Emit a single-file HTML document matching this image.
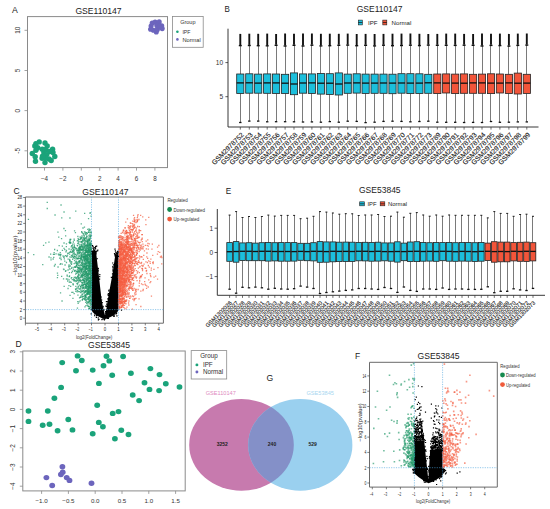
<!DOCTYPE html><html><head><meta charset="utf-8"><style>html,body{margin:0;padding:0;background:#fff;}svg{display:block;}text{font-family:"Liberation Sans",sans-serif;}</style></head><body>
<svg width="550" height="509" viewBox="0 0 550 509">
<rect width="550" height="509" fill="#fff"/>
<text x="12.1" y="13.4" font-size="8.7" fill="#222" text-anchor="start" >A</text>
<text x="98.5" y="13.6" font-size="8.6" fill="#222" text-anchor="middle" >GSE110147</text>
<rect x="27.5" y="16.6" width="140" height="151" fill="none" stroke="#8a8a8a" stroke-width="1"/>
<path d="M27.5 30.3H24.5" stroke="#8a8a8a" stroke-width="0.8"/>
<text transform="translate(20 30.3) rotate(-90)" font-size="6.4" fill="#333" text-anchor="middle">10</text>
<path d="M27.5 70.5H24.5" stroke="#8a8a8a" stroke-width="0.8"/>
<text transform="translate(20 70.5) rotate(-90)" font-size="6.4" fill="#333" text-anchor="middle">5</text>
<path d="M27.5 110.6H24.5" stroke="#8a8a8a" stroke-width="0.8"/>
<text transform="translate(20 110.6) rotate(-90)" font-size="6.4" fill="#333" text-anchor="middle">0</text>
<path d="M27.5 150.8H24.5" stroke="#8a8a8a" stroke-width="0.8"/>
<text transform="translate(20 150.8) rotate(-90)" font-size="6.4" fill="#333" text-anchor="middle">-5</text>
<path d="M44.5 167.6V170.6" stroke="#8a8a8a" stroke-width="0.8"/>
<text x="44.5" y="181.3" font-size="6.3" fill="#333" text-anchor="middle" >−4</text>
<path d="M62.9 167.6V170.6" stroke="#8a8a8a" stroke-width="0.8"/>
<text x="62.9" y="181.3" font-size="6.3" fill="#333" text-anchor="middle" >−2</text>
<path d="M81.3 167.6V170.6" stroke="#8a8a8a" stroke-width="0.8"/>
<text x="81.3" y="181.3" font-size="6.3" fill="#333" text-anchor="middle" >0</text>
<path d="M99.7 167.6V170.6" stroke="#8a8a8a" stroke-width="0.8"/>
<text x="99.7" y="181.3" font-size="6.3" fill="#333" text-anchor="middle" >2</text>
<path d="M118.1 167.6V170.6" stroke="#8a8a8a" stroke-width="0.8"/>
<text x="118.1" y="181.3" font-size="6.3" fill="#333" text-anchor="middle" >4</text>
<path d="M136.5 167.6V170.6" stroke="#8a8a8a" stroke-width="0.8"/>
<text x="136.5" y="181.3" font-size="6.3" fill="#333" text-anchor="middle" >6</text>
<path d="M154.9 167.6V170.6" stroke="#8a8a8a" stroke-width="0.8"/>
<text x="154.9" y="181.3" font-size="6.3" fill="#333" text-anchor="middle" >8</text>
<circle cx="39.2" cy="141.9" r="2.7" fill="#1aa37a"/>
<circle cx="35.9" cy="143.7" r="2.7" fill="#1aa37a"/>
<circle cx="34.8" cy="145.9" r="2.7" fill="#1aa37a"/>
<circle cx="37.7" cy="147.7" r="2.7" fill="#1aa37a"/>
<circle cx="35.9" cy="150.3" r="2.7" fill="#1aa37a"/>
<circle cx="32.3" cy="153.5" r="2.7" fill="#1aa37a"/>
<circle cx="35.2" cy="156.8" r="2.7" fill="#1aa37a"/>
<circle cx="35.5" cy="161.2" r="2.7" fill="#1aa37a"/>
<circle cx="45" cy="143" r="2.7" fill="#1aa37a"/>
<circle cx="47.2" cy="145.9" r="2.7" fill="#1aa37a"/>
<circle cx="45.7" cy="149.5" r="2.7" fill="#1aa37a"/>
<circle cx="52.6" cy="149.2" r="2.7" fill="#1aa37a"/>
<circle cx="53" cy="152.5" r="2.7" fill="#1aa37a"/>
<circle cx="43.9" cy="152.5" r="2.7" fill="#1aa37a"/>
<circle cx="46.8" cy="154.6" r="2.7" fill="#1aa37a"/>
<circle cx="54.8" cy="156.5" r="2.7" fill="#1aa37a"/>
<circle cx="42.1" cy="158.3" r="2.7" fill="#1aa37a"/>
<circle cx="45" cy="162.6" r="2.7" fill="#1aa37a"/>
<circle cx="49" cy="159" r="2.7" fill="#1aa37a"/>
<circle cx="51.2" cy="160.5" r="2.7" fill="#1aa37a"/>
<circle cx="45.4" cy="158.3" r="2.7" fill="#1aa37a"/>
<circle cx="42.5" cy="156.1" r="2.7" fill="#1aa37a"/>
<circle cx="42.3" cy="149.3" r="2.7" fill="#1aa37a"/>
<circle cx="49.6" cy="151.5" r="2.7" fill="#1aa37a"/>
<circle cx="151.1" cy="26" r="2.55" fill="#6c65bd"/>
<circle cx="152.2" cy="23" r="2.55" fill="#6c65bd"/>
<circle cx="155.1" cy="22.1" r="2.55" fill="#6c65bd"/>
<circle cx="159.2" cy="21.9" r="2.55" fill="#6c65bd"/>
<circle cx="161.7" cy="25.9" r="2.55" fill="#6c65bd"/>
<circle cx="162.2" cy="28.6" r="2.55" fill="#6c65bd"/>
<circle cx="156.3" cy="32" r="2.55" fill="#6c65bd"/>
<circle cx="153.4" cy="30.2" r="2.55" fill="#6c65bd"/>
<circle cx="157.4" cy="29.4" r="2.55" fill="#6c65bd"/>
<circle cx="156.8" cy="25.4" r="2.55" fill="#6c65bd"/>
<circle cx="150.6" cy="29.3" r="2.55" fill="#6c65bd"/>
<circle cx="159.4" cy="26.6" r="2.55" fill="#6c65bd"/>
<rect x="172.5" y="16.4" width="30.7" height="30.9" fill="none" stroke="#8a8a8a" stroke-width="0.8"/>
<text x="187.8" y="24" font-size="6.1" fill="#333" text-anchor="middle" textLength="15.3" lengthAdjust="spacingAndGlyphs">Group</text>
<circle cx="177.4" cy="31.7" r="1.3" fill="#1aa37a"/>
<circle cx="177.4" cy="39.4" r="1.3" fill="#6c65bd"/>
<text x="182.4" y="33.9" font-size="6.2" fill="#333" text-anchor="start" textLength="8" lengthAdjust="spacingAndGlyphs">IPF</text>
<text x="182.4" y="41.6" font-size="6.2" fill="#333" text-anchor="start" textLength="18.4" lengthAdjust="spacingAndGlyphs">Normal</text>
<text x="224.6" y="12" font-size="8.6" fill="#222" text-anchor="start" textLength="5.3" lengthAdjust="spacingAndGlyphs">B</text>
<text x="379.6" y="12" font-size="8.5" fill="#222" text-anchor="middle" >GSE110147</text>
<rect x="358.3" y="20.1" width="4" height="4.8" fill="#1cbfdc" stroke="#222" stroke-width="0.6"/><path d="M358.3 22.5h4" stroke="#111" stroke-width="0.7"/>
<text x="368" y="24.6" font-size="6.1" fill="#222" text-anchor="start" >IPF</text>
<rect x="382.8" y="20.1" width="4" height="4.8" fill="#f2553a" stroke="#222" stroke-width="0.6"/><path d="M382.8 22.5h4" stroke="#111" stroke-width="0.7"/>
<text x="391.6" y="24.6" font-size="6.1" fill="#222" text-anchor="start" >Normal</text>
<path d="M225.4 62.6H228" stroke="#333" stroke-width="0.8"/>
<text x="223.2" y="64.9" font-size="6.6" fill="#333" text-anchor="end" >10</text>
<path d="M225.4 96.7H228" stroke="#333" stroke-width="0.8"/>
<text x="223.2" y="99" font-size="6.6" fill="#333" text-anchor="end" >5</text>
<path d="M228 28.7V127H538.5" fill="none" stroke="#222" stroke-width="0.9"/>
<path d="M240.5 45V74M240.5 93.5V122.2" stroke="#7a7a7a" stroke-width="1"/>
<path d="M240.3 33.9V45" stroke="#111" stroke-width="1.9"/>
<path d="M238.8 45.6H241.8" stroke="#111" stroke-width="1.4"/>
<path d="M239.1 122.5H241.5" stroke="#111" stroke-width="1.3"/>
<rect x="236.7" y="74" width="7.2" height="19.5" fill="#1cbfdc" stroke="#222" stroke-width="0.8"/>
<path d="M236.7 82.9H243.9" stroke="#111" stroke-width="1.3"/>
<path d="M240.3 127v2.6" stroke="#333" stroke-width="0.7"/>
<text transform="translate(244.3 135.3) rotate(-45)" font-size="6.85" fill="#222" stroke="#222" stroke-width="0.12" text-anchor="end">GSM2978752</text>
<path d="M249.5 44.9V73.8M249.5 93.1V120.8" stroke="#7a7a7a" stroke-width="1"/>
<path d="M249.3 33.7V44.9" stroke="#111" stroke-width="1.9"/>
<path d="M247.8 45.5H250.8" stroke="#111" stroke-width="1.4"/>
<path d="M248.1 121.1H250.5" stroke="#111" stroke-width="1.3"/>
<rect x="245.7" y="73.8" width="7.2" height="19.4" fill="#1cbfdc" stroke="#222" stroke-width="0.8"/>
<path d="M245.7 82.8H252.9" stroke="#111" stroke-width="1.3"/>
<path d="M249.3 127v2.6" stroke="#333" stroke-width="0.7"/>
<text transform="translate(253.3 135.3) rotate(-45)" font-size="6.85" fill="#222" stroke="#222" stroke-width="0.12" text-anchor="end">GSM2978753</text>
<path d="M258.5 45.1V74.1M258.5 93.2V120.8" stroke="#7a7a7a" stroke-width="1"/>
<path d="M258.2 33.8V45.1" stroke="#111" stroke-width="1.9"/>
<path d="M256.7 45.7H259.7" stroke="#111" stroke-width="1.4"/>
<path d="M257 121.1H259.4" stroke="#111" stroke-width="1.3"/>
<rect x="254.6" y="74.1" width="7.2" height="19.1" fill="#1cbfdc" stroke="#222" stroke-width="0.8"/>
<path d="M254.6 83.1H261.8" stroke="#111" stroke-width="1.3"/>
<path d="M258.2 127v2.6" stroke="#333" stroke-width="0.7"/>
<text transform="translate(262.2 135.3) rotate(-45)" font-size="6.85" fill="#222" stroke="#222" stroke-width="0.12" text-anchor="end">GSM2978754</text>
<path d="M267.5 45.2V73.9M267.5 93.3V121.5" stroke="#7a7a7a" stroke-width="1"/>
<path d="M267.2 33.6V45.2" stroke="#111" stroke-width="1.9"/>
<path d="M265.7 45.8H268.7" stroke="#111" stroke-width="1.4"/>
<path d="M266 121.8H268.4" stroke="#111" stroke-width="1.3"/>
<rect x="263.6" y="73.9" width="7.2" height="19.4" fill="#1cbfdc" stroke="#222" stroke-width="0.8"/>
<path d="M263.6 82.9H270.8" stroke="#111" stroke-width="1.3"/>
<path d="M267.2 127v2.6" stroke="#333" stroke-width="0.7"/>
<text transform="translate(271.2 135.3) rotate(-45)" font-size="6.85" fill="#222" stroke="#222" stroke-width="0.12" text-anchor="end">GSM2978755</text>
<path d="M276.5 44.7V74M276.5 93.5V121.4" stroke="#7a7a7a" stroke-width="1"/>
<path d="M276.1 34V44.7" stroke="#111" stroke-width="1.9"/>
<path d="M274.6 45.3H277.6" stroke="#111" stroke-width="1.4"/>
<path d="M274.9 121.7H277.3" stroke="#111" stroke-width="1.3"/>
<rect x="272.5" y="74" width="7.2" height="19.5" fill="#1cbfdc" stroke="#222" stroke-width="0.8"/>
<path d="M272.5 82.9H279.7" stroke="#111" stroke-width="1.3"/>
<path d="M276.1 127v2.6" stroke="#333" stroke-width="0.7"/>
<text transform="translate(280.1 135.3) rotate(-45)" font-size="6.85" fill="#222" stroke="#222" stroke-width="0.12" text-anchor="end">GSM2978756</text>
<path d="M285.5 45.4V74.3M285.5 93.5V121.4" stroke="#7a7a7a" stroke-width="1"/>
<path d="M285.1 33.5V45.4" stroke="#111" stroke-width="1.9"/>
<path d="M283.6 46H286.6" stroke="#111" stroke-width="1.4"/>
<path d="M283.9 121.7H286.3" stroke="#111" stroke-width="1.3"/>
<rect x="281.5" y="74.3" width="7.2" height="19.2" fill="#1cbfdc" stroke="#222" stroke-width="0.8"/>
<path d="M281.5 83.2H288.7" stroke="#111" stroke-width="1.3"/>
<path d="M285.1 127v2.6" stroke="#333" stroke-width="0.7"/>
<text transform="translate(289.1 135.3) rotate(-45)" font-size="6.85" fill="#222" stroke="#222" stroke-width="0.12" text-anchor="end">GSM2978757</text>
<path d="M294.5 44.7V72.9M294.5 94.7V121.5" stroke="#7a7a7a" stroke-width="1"/>
<path d="M294 33.7V44.7" stroke="#111" stroke-width="1.9"/>
<path d="M292.5 45.3H295.5" stroke="#111" stroke-width="1.4"/>
<path d="M292.8 121.8H295.2" stroke="#111" stroke-width="1.3"/>
<rect x="290.4" y="72.9" width="7.2" height="21.8" fill="#1cbfdc" stroke="#222" stroke-width="0.8"/>
<path d="M290.4 84H297.6" stroke="#111" stroke-width="1.3"/>
<path d="M294 127v2.6" stroke="#333" stroke-width="0.7"/>
<text transform="translate(298 135.3) rotate(-45)" font-size="6.85" fill="#222" stroke="#222" stroke-width="0.12" text-anchor="end">GSM2978758</text>
<path d="M302.5 45.4V73.9M302.5 93.2V121.7" stroke="#7a7a7a" stroke-width="1"/>
<path d="M303 33.6V45.4" stroke="#111" stroke-width="1.9"/>
<path d="M301.5 46H304.5" stroke="#111" stroke-width="1.4"/>
<path d="M301.8 122H304.2" stroke="#111" stroke-width="1.3"/>
<rect x="299.4" y="73.9" width="7.2" height="19.3" fill="#1cbfdc" stroke="#222" stroke-width="0.8"/>
<path d="M299.4 83H306.6" stroke="#111" stroke-width="1.3"/>
<path d="M303 127v2.6" stroke="#333" stroke-width="0.7"/>
<text transform="translate(307 135.3) rotate(-45)" font-size="6.85" fill="#222" stroke="#222" stroke-width="0.12" text-anchor="end">GSM2978759</text>
<path d="M311.5 44.6V73.9M311.5 93.3V121.6" stroke="#7a7a7a" stroke-width="1"/>
<path d="M311.9 33.5V44.6" stroke="#111" stroke-width="1.9"/>
<path d="M310.4 45.2H313.4" stroke="#111" stroke-width="1.4"/>
<path d="M310.7 121.9H313.1" stroke="#111" stroke-width="1.3"/>
<rect x="308.3" y="73.9" width="7.2" height="19.5" fill="#1cbfdc" stroke="#222" stroke-width="0.8"/>
<path d="M308.3 82.9H315.5" stroke="#111" stroke-width="1.3"/>
<path d="M311.9 127v2.6" stroke="#333" stroke-width="0.7"/>
<text transform="translate(315.9 135.3) rotate(-45)" font-size="6.85" fill="#222" stroke="#222" stroke-width="0.12" text-anchor="end">GSM2978760</text>
<path d="M320.5 45.3V73.5M320.5 94.1V121.9" stroke="#7a7a7a" stroke-width="1"/>
<path d="M320.9 33.8V45.3" stroke="#111" stroke-width="1.9"/>
<path d="M319.4 45.9H322.4" stroke="#111" stroke-width="1.4"/>
<path d="M319.7 122.2H322.1" stroke="#111" stroke-width="1.3"/>
<rect x="317.3" y="73.5" width="7.2" height="20.6" fill="#1cbfdc" stroke="#222" stroke-width="0.8"/>
<path d="M317.3 83.2H324.5" stroke="#111" stroke-width="1.3"/>
<path d="M320.9 127v2.6" stroke="#333" stroke-width="0.7"/>
<text transform="translate(324.9 135.3) rotate(-45)" font-size="6.85" fill="#222" stroke="#222" stroke-width="0.12" text-anchor="end">GSM2978761</text>
<path d="M329.5 45.1V73.7M329.5 94.4V121.3" stroke="#7a7a7a" stroke-width="1"/>
<path d="M329.8 33.7V45.1" stroke="#111" stroke-width="1.9"/>
<path d="M328.3 45.7H331.3" stroke="#111" stroke-width="1.4"/>
<path d="M328.6 121.6H331" stroke="#111" stroke-width="1.3"/>
<rect x="326.2" y="73.7" width="7.2" height="20.7" fill="#1cbfdc" stroke="#222" stroke-width="0.8"/>
<path d="M326.2 83.2H333.4" stroke="#111" stroke-width="1.3"/>
<path d="M329.8 127v2.6" stroke="#333" stroke-width="0.7"/>
<text transform="translate(333.8 135.3) rotate(-45)" font-size="6.85" fill="#222" stroke="#222" stroke-width="0.12" text-anchor="end">GSM2978762</text>
<path d="M338.5 44.7V72.9M338.5 95V121.9" stroke="#7a7a7a" stroke-width="1"/>
<path d="M338.8 33.8V44.7" stroke="#111" stroke-width="1.9"/>
<path d="M337.3 45.3H340.3" stroke="#111" stroke-width="1.4"/>
<path d="M337.6 122.2H340" stroke="#111" stroke-width="1.3"/>
<rect x="335.2" y="72.9" width="7.2" height="22.1" fill="#1cbfdc" stroke="#222" stroke-width="0.8"/>
<path d="M335.2 84H342.4" stroke="#111" stroke-width="1.3"/>
<path d="M338.8 127v2.6" stroke="#333" stroke-width="0.7"/>
<text transform="translate(342.8 135.3) rotate(-45)" font-size="6.85" fill="#222" stroke="#222" stroke-width="0.12" text-anchor="end">GSM2978763</text>
<path d="M347.5 44.5V74.1M347.5 93.3V120.9" stroke="#7a7a7a" stroke-width="1"/>
<path d="M347.7 33.6V44.5" stroke="#111" stroke-width="1.9"/>
<path d="M346.2 45.1H349.2" stroke="#111" stroke-width="1.4"/>
<path d="M346.5 121.2H348.9" stroke="#111" stroke-width="1.3"/>
<rect x="344.1" y="74.1" width="7.2" height="19.2" fill="#1cbfdc" stroke="#222" stroke-width="0.8"/>
<path d="M344.1 83H351.3" stroke="#111" stroke-width="1.3"/>
<path d="M347.7 127v2.6" stroke="#333" stroke-width="0.7"/>
<text transform="translate(351.7 135.3) rotate(-45)" font-size="6.85" fill="#222" stroke="#222" stroke-width="0.12" text-anchor="end">GSM2978764</text>
<path d="M356.5 45.1V73.8M356.5 93.1V121.1" stroke="#7a7a7a" stroke-width="1"/>
<path d="M356.7 34V45.1" stroke="#111" stroke-width="1.9"/>
<path d="M355.2 45.7H358.2" stroke="#111" stroke-width="1.4"/>
<path d="M355.5 121.4H357.9" stroke="#111" stroke-width="1.3"/>
<rect x="353.1" y="73.8" width="7.2" height="19.3" fill="#1cbfdc" stroke="#222" stroke-width="0.8"/>
<path d="M353.1 82.9H360.3" stroke="#111" stroke-width="1.3"/>
<path d="M356.7 127v2.6" stroke="#333" stroke-width="0.7"/>
<text transform="translate(360.7 135.3) rotate(-45)" font-size="6.85" fill="#222" stroke="#222" stroke-width="0.12" text-anchor="end">GSM2978765</text>
<path d="M365.5 44.7V74.1M365.5 93.4V122.3" stroke="#7a7a7a" stroke-width="1"/>
<path d="M365.6 33.9V44.7" stroke="#111" stroke-width="1.9"/>
<path d="M364.1 45.3H367.1" stroke="#111" stroke-width="1.4"/>
<path d="M364.4 122.6H366.8" stroke="#111" stroke-width="1.3"/>
<rect x="362" y="74.1" width="7.2" height="19.3" fill="#1cbfdc" stroke="#222" stroke-width="0.8"/>
<path d="M362 83.1H369.2" stroke="#111" stroke-width="1.3"/>
<path d="M365.6 127v2.6" stroke="#333" stroke-width="0.7"/>
<text transform="translate(369.6 135.3) rotate(-45)" font-size="6.85" fill="#222" stroke="#222" stroke-width="0.12" text-anchor="end">GSM2978766</text>
<path d="M374.5 45.3V74.1M374.5 93.3V121.9" stroke="#7a7a7a" stroke-width="1"/>
<path d="M374.6 34V45.3" stroke="#111" stroke-width="1.9"/>
<path d="M373.1 45.9H376.1" stroke="#111" stroke-width="1.4"/>
<path d="M373.4 122.2H375.8" stroke="#111" stroke-width="1.3"/>
<rect x="371" y="74.1" width="7.2" height="19.2" fill="#1cbfdc" stroke="#222" stroke-width="0.8"/>
<path d="M371 83.1H378.2" stroke="#111" stroke-width="1.3"/>
<path d="M374.6 127v2.6" stroke="#333" stroke-width="0.7"/>
<text transform="translate(378.6 135.3) rotate(-45)" font-size="6.85" fill="#222" stroke="#222" stroke-width="0.12" text-anchor="end">GSM2978767</text>
<path d="M383.5 44.6V74.1M383.5 93.3V121.1" stroke="#7a7a7a" stroke-width="1"/>
<path d="M383.5 33.9V44.6" stroke="#111" stroke-width="1.9"/>
<path d="M382 45.2H385" stroke="#111" stroke-width="1.4"/>
<path d="M382.3 121.4H384.7" stroke="#111" stroke-width="1.3"/>
<rect x="379.9" y="74.1" width="7.2" height="19.2" fill="#1cbfdc" stroke="#222" stroke-width="0.8"/>
<path d="M379.9 83H387.1" stroke="#111" stroke-width="1.3"/>
<path d="M383.5 127v2.6" stroke="#333" stroke-width="0.7"/>
<text transform="translate(387.5 135.3) rotate(-45)" font-size="6.85" fill="#222" stroke="#222" stroke-width="0.12" text-anchor="end">GSM2978768</text>
<path d="M392.5 45.1V74.2M392.5 93.7V120.9" stroke="#7a7a7a" stroke-width="1"/>
<path d="M392.5 33.7V45.1" stroke="#111" stroke-width="1.9"/>
<path d="M391 45.7H394" stroke="#111" stroke-width="1.4"/>
<path d="M391.3 121.2H393.7" stroke="#111" stroke-width="1.3"/>
<rect x="388.9" y="74.2" width="7.2" height="19.5" fill="#1cbfdc" stroke="#222" stroke-width="0.8"/>
<path d="M388.9 83.1H396.1" stroke="#111" stroke-width="1.3"/>
<path d="M392.5 127v2.6" stroke="#333" stroke-width="0.7"/>
<text transform="translate(396.5 135.3) rotate(-45)" font-size="6.85" fill="#222" stroke="#222" stroke-width="0.12" text-anchor="end">GSM2978769</text>
<path d="M401.5 44.9V73.7M401.5 93.2V121.1" stroke="#7a7a7a" stroke-width="1"/>
<path d="M401.5 33.6V44.9" stroke="#111" stroke-width="1.9"/>
<path d="M400 45.5H403" stroke="#111" stroke-width="1.4"/>
<path d="M400.3 121.4H402.7" stroke="#111" stroke-width="1.3"/>
<rect x="397.9" y="73.7" width="7.2" height="19.5" fill="#1cbfdc" stroke="#222" stroke-width="0.8"/>
<path d="M397.9 83H405.1" stroke="#111" stroke-width="1.3"/>
<path d="M401.5 127v2.6" stroke="#333" stroke-width="0.7"/>
<text transform="translate(405.5 135.3) rotate(-45)" font-size="6.85" fill="#222" stroke="#222" stroke-width="0.12" text-anchor="end">GSM2978770</text>
<path d="M410.5 44.6V73.7M410.5 93.6V121.5" stroke="#7a7a7a" stroke-width="1"/>
<path d="M410.4 33.5V44.6" stroke="#111" stroke-width="1.9"/>
<path d="M408.9 45.2H411.9" stroke="#111" stroke-width="1.4"/>
<path d="M409.2 121.8H411.6" stroke="#111" stroke-width="1.3"/>
<rect x="406.8" y="73.7" width="7.2" height="19.9" fill="#1cbfdc" stroke="#222" stroke-width="0.8"/>
<path d="M406.8 83.1H414" stroke="#111" stroke-width="1.3"/>
<path d="M410.4 127v2.6" stroke="#333" stroke-width="0.7"/>
<text transform="translate(414.4 135.3) rotate(-45)" font-size="6.85" fill="#222" stroke="#222" stroke-width="0.12" text-anchor="end">GSM2978771</text>
<path d="M419.5 45V73.8M419.5 93.5V121.2" stroke="#7a7a7a" stroke-width="1"/>
<path d="M419.4 33.8V45" stroke="#111" stroke-width="1.9"/>
<path d="M417.9 45.6H420.9" stroke="#111" stroke-width="1.4"/>
<path d="M418.2 121.5H420.6" stroke="#111" stroke-width="1.3"/>
<rect x="415.8" y="73.8" width="7.2" height="19.7" fill="#1cbfdc" stroke="#222" stroke-width="0.8"/>
<path d="M415.8 83.1H423" stroke="#111" stroke-width="1.3"/>
<path d="M419.4 127v2.6" stroke="#333" stroke-width="0.7"/>
<text transform="translate(423.4 135.3) rotate(-45)" font-size="6.85" fill="#222" stroke="#222" stroke-width="0.12" text-anchor="end">GSM2978772</text>
<path d="M428.5 44.5V74.3M428.5 93.3V120.9" stroke="#7a7a7a" stroke-width="1"/>
<path d="M428.3 34V44.5" stroke="#111" stroke-width="1.9"/>
<path d="M426.8 45.1H429.8" stroke="#111" stroke-width="1.4"/>
<path d="M427.1 121.2H429.5" stroke="#111" stroke-width="1.3"/>
<rect x="424.7" y="74.3" width="7.2" height="19" fill="#1cbfdc" stroke="#222" stroke-width="0.8"/>
<path d="M424.7 82.8H431.9" stroke="#111" stroke-width="1.3"/>
<path d="M428.3 127v2.6" stroke="#333" stroke-width="0.7"/>
<text transform="translate(432.3 135.3) rotate(-45)" font-size="6.85" fill="#222" stroke="#222" stroke-width="0.12" text-anchor="end">GSM2978773</text>
<path d="M437.5 44.7V74M437.5 93.6V121.9" stroke="#7a7a7a" stroke-width="1"/>
<path d="M437.3 33.9V44.7" stroke="#111" stroke-width="1.9"/>
<path d="M435.8 45.3H438.8" stroke="#111" stroke-width="1.4"/>
<path d="M436.1 122.2H438.5" stroke="#111" stroke-width="1.3"/>
<rect x="433.7" y="74" width="7.2" height="19.6" fill="#f2553a" stroke="#222" stroke-width="0.8"/>
<path d="M433.7 82.9H440.9" stroke="#111" stroke-width="1.3"/>
<path d="M437.3 127v2.6" stroke="#333" stroke-width="0.7"/>
<text transform="translate(441.3 135.3) rotate(-45)" font-size="6.85" fill="#222" stroke="#222" stroke-width="0.12" text-anchor="end">GSM2978789</text>
<path d="M446.5 44.7V73.9M446.5 93V122" stroke="#7a7a7a" stroke-width="1"/>
<path d="M446.2 33.6V44.7" stroke="#111" stroke-width="1.9"/>
<path d="M444.7 45.3H447.7" stroke="#111" stroke-width="1.4"/>
<path d="M445 122.3H447.4" stroke="#111" stroke-width="1.3"/>
<rect x="442.6" y="73.9" width="7.2" height="19.1" fill="#f2553a" stroke="#222" stroke-width="0.8"/>
<path d="M442.6 83.1H449.8" stroke="#111" stroke-width="1.3"/>
<path d="M446.2 127v2.6" stroke="#333" stroke-width="0.7"/>
<text transform="translate(450.2 135.3) rotate(-45)" font-size="6.85" fill="#222" stroke="#222" stroke-width="0.12" text-anchor="end">GSM2978790</text>
<path d="M455.5 44.8V74.1M455.5 93.6V122" stroke="#7a7a7a" stroke-width="1"/>
<path d="M455.2 33.6V44.8" stroke="#111" stroke-width="1.9"/>
<path d="M453.7 45.4H456.7" stroke="#111" stroke-width="1.4"/>
<path d="M454 122.3H456.4" stroke="#111" stroke-width="1.3"/>
<rect x="451.6" y="74.1" width="7.2" height="19.5" fill="#f2553a" stroke="#222" stroke-width="0.8"/>
<path d="M451.6 83.1H458.8" stroke="#111" stroke-width="1.3"/>
<path d="M455.2 127v2.6" stroke="#333" stroke-width="0.7"/>
<text transform="translate(459.2 135.3) rotate(-45)" font-size="6.85" fill="#222" stroke="#222" stroke-width="0.12" text-anchor="end">GSM2978791</text>
<path d="M464.5 44.6V73.9M464.5 93.3V122.2" stroke="#7a7a7a" stroke-width="1"/>
<path d="M464.1 33.9V44.6" stroke="#111" stroke-width="1.9"/>
<path d="M462.6 45.2H465.6" stroke="#111" stroke-width="1.4"/>
<path d="M462.9 122.5H465.3" stroke="#111" stroke-width="1.3"/>
<rect x="460.5" y="73.9" width="7.2" height="19.4" fill="#f2553a" stroke="#222" stroke-width="0.8"/>
<path d="M460.5 83.2H467.7" stroke="#111" stroke-width="1.3"/>
<path d="M464.1 127v2.6" stroke="#333" stroke-width="0.7"/>
<text transform="translate(468.1 135.3) rotate(-45)" font-size="6.85" fill="#222" stroke="#222" stroke-width="0.12" text-anchor="end">GSM2978792</text>
<path d="M473.5 44.7V74.3M473.5 93.3V122.1" stroke="#7a7a7a" stroke-width="1"/>
<path d="M473.1 34V44.7" stroke="#111" stroke-width="1.9"/>
<path d="M471.6 45.3H474.6" stroke="#111" stroke-width="1.4"/>
<path d="M471.9 122.4H474.3" stroke="#111" stroke-width="1.3"/>
<rect x="469.5" y="74.3" width="7.2" height="19" fill="#f2553a" stroke="#222" stroke-width="0.8"/>
<path d="M469.5 82.9H476.7" stroke="#111" stroke-width="1.3"/>
<path d="M473.1 127v2.6" stroke="#333" stroke-width="0.7"/>
<text transform="translate(477.1 135.3) rotate(-45)" font-size="6.85" fill="#222" stroke="#222" stroke-width="0.12" text-anchor="end">GSM2978793</text>
<path d="M482.5 45.4V74.1M482.5 93.3V122.2" stroke="#7a7a7a" stroke-width="1"/>
<path d="M482 33.5V45.4" stroke="#111" stroke-width="1.9"/>
<path d="M480.5 46H483.5" stroke="#111" stroke-width="1.4"/>
<path d="M480.8 122.5H483.2" stroke="#111" stroke-width="1.3"/>
<rect x="478.4" y="74.1" width="7.2" height="19.2" fill="#f2553a" stroke="#222" stroke-width="0.8"/>
<path d="M478.4 82.9H485.6" stroke="#111" stroke-width="1.3"/>
<path d="M482 127v2.6" stroke="#333" stroke-width="0.7"/>
<text transform="translate(486 135.3) rotate(-45)" font-size="6.85" fill="#222" stroke="#222" stroke-width="0.12" text-anchor="end">GSM2978794</text>
<path d="M490.5 44.8V73.8M490.5 93.6V121.2" stroke="#7a7a7a" stroke-width="1"/>
<path d="M491 33.7V44.8" stroke="#111" stroke-width="1.9"/>
<path d="M489.5 45.4H492.5" stroke="#111" stroke-width="1.4"/>
<path d="M489.8 121.5H492.2" stroke="#111" stroke-width="1.3"/>
<rect x="487.4" y="73.8" width="7.2" height="19.8" fill="#f2553a" stroke="#222" stroke-width="0.8"/>
<path d="M487.4 83.1H494.6" stroke="#111" stroke-width="1.3"/>
<path d="M491 127v2.6" stroke="#333" stroke-width="0.7"/>
<text transform="translate(495 135.3) rotate(-45)" font-size="6.85" fill="#222" stroke="#222" stroke-width="0.12" text-anchor="end">GSM2978795</text>
<path d="M499.5 45V74M499.5 93.1V122" stroke="#7a7a7a" stroke-width="1"/>
<path d="M499.9 33.6V45" stroke="#111" stroke-width="1.9"/>
<path d="M498.4 45.6H501.4" stroke="#111" stroke-width="1.4"/>
<path d="M498.7 122.3H501.1" stroke="#111" stroke-width="1.3"/>
<rect x="496.3" y="74" width="7.2" height="19" fill="#f2553a" stroke="#222" stroke-width="0.8"/>
<path d="M496.3 83.1H503.5" stroke="#111" stroke-width="1.3"/>
<path d="M499.9 127v2.6" stroke="#333" stroke-width="0.7"/>
<text transform="translate(503.9 135.3) rotate(-45)" font-size="6.85" fill="#222" stroke="#222" stroke-width="0.12" text-anchor="end">GSM2978796</text>
<path d="M508.5 45.5V74.3M508.5 93.5V121.9" stroke="#7a7a7a" stroke-width="1"/>
<path d="M508.9 33.9V45.5" stroke="#111" stroke-width="1.9"/>
<path d="M507.4 46.1H510.4" stroke="#111" stroke-width="1.4"/>
<path d="M507.7 122.2H510.1" stroke="#111" stroke-width="1.3"/>
<rect x="505.3" y="74.3" width="7.2" height="19.2" fill="#f2553a" stroke="#222" stroke-width="0.8"/>
<path d="M505.3 82.9H512.5" stroke="#111" stroke-width="1.3"/>
<path d="M508.9 127v2.6" stroke="#333" stroke-width="0.7"/>
<text transform="translate(512.9 135.3) rotate(-45)" font-size="6.85" fill="#222" stroke="#222" stroke-width="0.12" text-anchor="end">GSM2978797</text>
<path d="M517.5 44.8V73.1M517.5 94V121.6" stroke="#7a7a7a" stroke-width="1"/>
<path d="M517.8 33.6V44.8" stroke="#111" stroke-width="1.9"/>
<path d="M516.3 45.4H519.3" stroke="#111" stroke-width="1.4"/>
<path d="M516.6 121.9H519" stroke="#111" stroke-width="1.3"/>
<rect x="514.2" y="73.1" width="7.2" height="20.9" fill="#f2553a" stroke="#222" stroke-width="0.8"/>
<path d="M514.2 83.2H521.4" stroke="#111" stroke-width="1.3"/>
<path d="M517.8 127v2.6" stroke="#333" stroke-width="0.7"/>
<text transform="translate(521.8 135.3) rotate(-45)" font-size="6.85" fill="#222" stroke="#222" stroke-width="0.12" text-anchor="end">GSM2978798</text>
<path d="M526.5 44.5V74.3M526.5 93.4V121.6" stroke="#7a7a7a" stroke-width="1"/>
<path d="M526.8 33.5V44.5" stroke="#111" stroke-width="1.9"/>
<path d="M525.3 45.1H528.3" stroke="#111" stroke-width="1.4"/>
<path d="M525.6 121.9H528" stroke="#111" stroke-width="1.3"/>
<rect x="523.2" y="74.3" width="7.2" height="19.1" fill="#f2553a" stroke="#222" stroke-width="0.8"/>
<path d="M523.2 83.1H530.4" stroke="#111" stroke-width="1.3"/>
<path d="M526.8 127v2.6" stroke="#333" stroke-width="0.7"/>
<text transform="translate(530.8 135.3) rotate(-45)" font-size="6.85" fill="#222" stroke="#222" stroke-width="0.12" text-anchor="end">GSM2978799</text>
<text x="225.8" y="193.8" font-size="8.2" fill="#222" text-anchor="start" >E</text>
<text x="379.8" y="193.2" font-size="8.5" fill="#222" text-anchor="middle" >GSE53845</text>
<rect x="359.7" y="201.8" width="4.6" height="4" fill="#1cbfdc" stroke="#222" stroke-width="0.6"/><path d="M359.7 203.8h4.6" stroke="#111" stroke-width="0.7"/>
<text x="367.5" y="205.7" font-size="5.85" fill="#222" text-anchor="start" >IPF</text>
<rect x="380.2" y="201.8" width="4.6" height="4" fill="#f2553a" stroke="#222" stroke-width="0.6"/><path d="M380.2 203.8h4.6" stroke="#111" stroke-width="0.7"/>
<text x="388.1" y="205.7" font-size="5.85" fill="#222" text-anchor="start" >Normal</text>
<path d="M214.6 228.2H217.3" stroke="#333" stroke-width="0.8"/>
<text x="213.2" y="230.5" font-size="6.6" fill="#333" text-anchor="end" >1</text>
<path d="M214.6 252.5H217.3" stroke="#333" stroke-width="0.8"/>
<text x="213.2" y="254.8" font-size="6.6" fill="#333" text-anchor="end" >0</text>
<path d="M214.6 276.6H217.3" stroke="#333" stroke-width="0.8"/>
<text x="213.2" y="278.9" font-size="6.6" fill="#333" text-anchor="end" >−1</text>
<path d="M217.3 209V295.3H545" fill="none" stroke="#222" stroke-width="0.9"/>
<path d="M229.5 214.9V242.6M229.5 261.3V288.9" stroke="#7a7a7a" stroke-width="1"/>
<path d="M228.4 289.2H230.8" stroke="#111" stroke-width="1.3"/>
<path d="M228.6 215.1H230.6" stroke="#222" stroke-width="1.0"/>
<rect x="226.8" y="242.6" width="5.6" height="18.7" fill="#1cbfdc" stroke="#222" stroke-width="0.8"/>
<path d="M226.8 251.7H232.4" stroke="#111" stroke-width="1.3"/>
<path d="M229.6 295.3v2.6" stroke="#333" stroke-width="0.7"/>
<text transform="translate(232.2 303.3) rotate(-45)" font-size="5.6" fill="#222" stroke="#222" stroke-width="0.12" text-anchor="end">GSM1302026</text>
<path d="M236.5 211.4V241.6M236.5 262.2V292.9" stroke="#7a7a7a" stroke-width="1"/>
<path d="M234.9 293.2H237.3" stroke="#111" stroke-width="1.3"/>
<path d="M235.1 211.6H237.1" stroke="#222" stroke-width="1.0"/>
<rect x="233.3" y="241.6" width="5.6" height="20.6" fill="#1cbfdc" stroke="#222" stroke-width="0.8"/>
<path d="M233.3 251.5H238.9" stroke="#111" stroke-width="1.3"/>
<path d="M236.1 295.3v2.6" stroke="#333" stroke-width="0.7"/>
<text transform="translate(238.7 303.3) rotate(-45)" font-size="5.6" fill="#222" stroke="#222" stroke-width="0.12" text-anchor="end">GSM1302027</text>
<path d="M242.5 217.3V242.9M242.5 260.6V287" stroke="#7a7a7a" stroke-width="1"/>
<path d="M241.3 287.3H243.7" stroke="#111" stroke-width="1.3"/>
<path d="M241.5 217.5H243.5" stroke="#222" stroke-width="1.0"/>
<rect x="239.7" y="242.9" width="5.6" height="17.6" fill="#1cbfdc" stroke="#222" stroke-width="0.8"/>
<path d="M239.7 251.3H245.3" stroke="#111" stroke-width="1.3"/>
<path d="M242.5 295.3v2.6" stroke="#333" stroke-width="0.7"/>
<text transform="translate(245.1 303.3) rotate(-45)" font-size="5.6" fill="#222" stroke="#222" stroke-width="0.12" text-anchor="end">GSM1302028</text>
<path d="M248.5 216.3V242.7M248.5 260.7V287.5" stroke="#7a7a7a" stroke-width="1"/>
<path d="M247.8 287.8H250.2" stroke="#111" stroke-width="1.3"/>
<path d="M248 216.5H250" stroke="#222" stroke-width="1.0"/>
<rect x="246.2" y="242.7" width="5.6" height="18" fill="#1cbfdc" stroke="#222" stroke-width="0.8"/>
<path d="M246.2 251.3H251.8" stroke="#111" stroke-width="1.3"/>
<path d="M249 295.3v2.6" stroke="#333" stroke-width="0.7"/>
<text transform="translate(251.6 303.3) rotate(-45)" font-size="5.6" fill="#222" stroke="#222" stroke-width="0.12" text-anchor="end">GSM1302029</text>
<path d="M255.5 217.3V243.1M255.5 260.7V286.8" stroke="#7a7a7a" stroke-width="1"/>
<path d="M254.2 287.1H256.6" stroke="#111" stroke-width="1.3"/>
<path d="M254.4 217.5H256.4" stroke="#222" stroke-width="1.0"/>
<rect x="252.6" y="243.1" width="5.6" height="17.6" fill="#1cbfdc" stroke="#222" stroke-width="0.8"/>
<path d="M252.6 251.5H258.2" stroke="#111" stroke-width="1.3"/>
<path d="M255.4 295.3v2.6" stroke="#333" stroke-width="0.7"/>
<text transform="translate(258 303.3) rotate(-45)" font-size="5.6" fill="#222" stroke="#222" stroke-width="0.12" text-anchor="end">GSM1302030</text>
<path d="M261.5 216.3V242.7M261.5 260.7V287.5" stroke="#7a7a7a" stroke-width="1"/>
<path d="M260.7 287.8H263.1" stroke="#111" stroke-width="1.3"/>
<path d="M260.9 216.5H262.9" stroke="#222" stroke-width="1.0"/>
<rect x="259.1" y="242.7" width="5.6" height="18" fill="#1cbfdc" stroke="#222" stroke-width="0.8"/>
<path d="M259.1 251.3H264.7" stroke="#111" stroke-width="1.3"/>
<path d="M261.9 295.3v2.6" stroke="#333" stroke-width="0.7"/>
<text transform="translate(264.5 303.3) rotate(-45)" font-size="5.6" fill="#222" stroke="#222" stroke-width="0.12" text-anchor="end">GSM1302031</text>
<path d="M268.5 214.9V242.4M268.5 261.1V288.9" stroke="#7a7a7a" stroke-width="1"/>
<path d="M267.1 289.2H269.5" stroke="#111" stroke-width="1.3"/>
<path d="M267.3 215.1H269.3" stroke="#222" stroke-width="1.0"/>
<rect x="265.5" y="242.4" width="5.6" height="18.7" fill="#1cbfdc" stroke="#222" stroke-width="0.8"/>
<path d="M265.5 251.3H271.1" stroke="#111" stroke-width="1.3"/>
<path d="M268.3 295.3v2.6" stroke="#333" stroke-width="0.7"/>
<text transform="translate(270.9 303.3) rotate(-45)" font-size="5.6" fill="#222" stroke="#222" stroke-width="0.12" text-anchor="end">GSM1302032</text>
<path d="M274.5 215.9V242.7M274.5 260.9V288" stroke="#7a7a7a" stroke-width="1"/>
<path d="M273.6 288.3H276" stroke="#111" stroke-width="1.3"/>
<path d="M273.8 216.1H275.8" stroke="#222" stroke-width="1.0"/>
<rect x="272" y="242.7" width="5.6" height="18.2" fill="#1cbfdc" stroke="#222" stroke-width="0.8"/>
<path d="M272 251.5H277.6" stroke="#111" stroke-width="1.3"/>
<path d="M274.8 295.3v2.6" stroke="#333" stroke-width="0.7"/>
<text transform="translate(277.4 303.3) rotate(-45)" font-size="5.6" fill="#222" stroke="#222" stroke-width="0.12" text-anchor="end">GSM1302033</text>
<path d="M281.5 215.2V242.6M281.5 261.2V288.7" stroke="#7a7a7a" stroke-width="1"/>
<path d="M280 289H282.4" stroke="#111" stroke-width="1.3"/>
<path d="M280.2 215.4H282.2" stroke="#222" stroke-width="1.0"/>
<rect x="278.4" y="242.6" width="5.6" height="18.6" fill="#1cbfdc" stroke="#222" stroke-width="0.8"/>
<path d="M278.4 251.5H284" stroke="#111" stroke-width="1.3"/>
<path d="M281.2 295.3v2.6" stroke="#333" stroke-width="0.7"/>
<text transform="translate(283.8 303.3) rotate(-45)" font-size="5.6" fill="#222" stroke="#222" stroke-width="0.12" text-anchor="end">GSM1302034</text>
<path d="M287.5 215.2V242.6M287.5 261.2V288.9" stroke="#7a7a7a" stroke-width="1"/>
<path d="M286.5 289.2H288.9" stroke="#111" stroke-width="1.3"/>
<path d="M286.7 215.4H288.7" stroke="#222" stroke-width="1.0"/>
<rect x="284.9" y="242.6" width="5.6" height="18.6" fill="#1cbfdc" stroke="#222" stroke-width="0.8"/>
<path d="M284.9 251.5H290.5" stroke="#111" stroke-width="1.3"/>
<path d="M287.7 295.3v2.6" stroke="#333" stroke-width="0.7"/>
<text transform="translate(290.3 303.3) rotate(-45)" font-size="5.6" fill="#222" stroke="#222" stroke-width="0.12" text-anchor="end">GSM1302035</text>
<path d="M294.5 215.2V242.6M294.5 261.1V288.4" stroke="#7a7a7a" stroke-width="1"/>
<path d="M292.9 288.7H295.3" stroke="#111" stroke-width="1.3"/>
<path d="M293.1 215.4H295.1" stroke="#222" stroke-width="1.0"/>
<rect x="291.3" y="242.6" width="5.6" height="18.5" fill="#1cbfdc" stroke="#222" stroke-width="0.8"/>
<path d="M291.3 251.6H296.9" stroke="#111" stroke-width="1.3"/>
<path d="M294.1 295.3v2.6" stroke="#333" stroke-width="0.7"/>
<text transform="translate(296.8 303.3) rotate(-45)" font-size="5.6" fill="#222" stroke="#222" stroke-width="0.12" text-anchor="end">GSM1302036</text>
<path d="M300.5 218.5V243.3M300.5 260.4V285.8" stroke="#7a7a7a" stroke-width="1"/>
<path d="M299.4 286.1H301.8" stroke="#111" stroke-width="1.3"/>
<path d="M299.6 218.7H301.6" stroke="#222" stroke-width="1.0"/>
<rect x="297.8" y="243.3" width="5.6" height="17" fill="#1cbfdc" stroke="#222" stroke-width="0.8"/>
<path d="M297.8 251.4H303.4" stroke="#111" stroke-width="1.3"/>
<path d="M300.6 295.3v2.6" stroke="#333" stroke-width="0.7"/>
<text transform="translate(303.2 303.3) rotate(-45)" font-size="5.6" fill="#222" stroke="#222" stroke-width="0.12" text-anchor="end">GSM1302037</text>
<path d="M307.5 218V243.3M307.5 260.7V286.8" stroke="#7a7a7a" stroke-width="1"/>
<path d="M305.9 287.1H308.3" stroke="#111" stroke-width="1.3"/>
<path d="M306.1 218.2H308.1" stroke="#222" stroke-width="1.0"/>
<rect x="304.3" y="243.3" width="5.6" height="17.4" fill="#1cbfdc" stroke="#222" stroke-width="0.8"/>
<path d="M304.3 251.6H309.9" stroke="#111" stroke-width="1.3"/>
<path d="M307.1 295.3v2.6" stroke="#333" stroke-width="0.7"/>
<text transform="translate(309.7 303.3) rotate(-45)" font-size="5.6" fill="#222" stroke="#222" stroke-width="0.12" text-anchor="end">GSM1302038</text>
<path d="M313.5 216.1V242.7M313.5 260.9V288.2" stroke="#7a7a7a" stroke-width="1"/>
<path d="M312.3 288.5H314.7" stroke="#111" stroke-width="1.3"/>
<path d="M312.5 216.3H314.5" stroke="#222" stroke-width="1.0"/>
<rect x="310.7" y="242.7" width="5.6" height="18.2" fill="#1cbfdc" stroke="#222" stroke-width="0.8"/>
<path d="M310.7 251.3H316.3" stroke="#111" stroke-width="1.3"/>
<path d="M313.5 295.3v2.6" stroke="#333" stroke-width="0.7"/>
<text transform="translate(316.1 303.3) rotate(-45)" font-size="5.6" fill="#222" stroke="#222" stroke-width="0.12" text-anchor="end">GSM1302039</text>
<path d="M319.5 211.4V241.6M319.5 262.2V293.2" stroke="#7a7a7a" stroke-width="1"/>
<path d="M318.8 293.5H321.2" stroke="#111" stroke-width="1.3"/>
<path d="M319 211.6H321" stroke="#222" stroke-width="1.0"/>
<rect x="317.2" y="241.6" width="5.6" height="20.7" fill="#1cbfdc" stroke="#222" stroke-width="0.8"/>
<path d="M317.2 251.4H322.8" stroke="#111" stroke-width="1.3"/>
<path d="M320 295.3v2.6" stroke="#333" stroke-width="0.7"/>
<text transform="translate(322.6 303.3) rotate(-45)" font-size="5.6" fill="#222" stroke="#222" stroke-width="0.12" text-anchor="end">GSM1302040</text>
<path d="M326.5 211.9V241.9M326.5 262.2V292.2" stroke="#7a7a7a" stroke-width="1"/>
<path d="M325.2 292.5H327.6" stroke="#111" stroke-width="1.3"/>
<path d="M325.4 212.1H327.4" stroke="#222" stroke-width="1.0"/>
<rect x="323.6" y="241.9" width="5.6" height="20.3" fill="#1cbfdc" stroke="#222" stroke-width="0.8"/>
<path d="M323.6 251.6H329.2" stroke="#111" stroke-width="1.3"/>
<path d="M326.4 295.3v2.6" stroke="#333" stroke-width="0.7"/>
<text transform="translate(329 303.3) rotate(-45)" font-size="5.6" fill="#222" stroke="#222" stroke-width="0.12" text-anchor="end">GSM1302041</text>
<path d="M332.5 212.8V241.9M332.5 261.7V291.5" stroke="#7a7a7a" stroke-width="1"/>
<path d="M331.7 291.8H334.1" stroke="#111" stroke-width="1.3"/>
<path d="M331.9 213H333.9" stroke="#222" stroke-width="1.0"/>
<rect x="330.1" y="241.9" width="5.6" height="19.9" fill="#1cbfdc" stroke="#222" stroke-width="0.8"/>
<path d="M330.1 251.3H335.7" stroke="#111" stroke-width="1.3"/>
<path d="M332.9 295.3v2.6" stroke="#333" stroke-width="0.7"/>
<text transform="translate(335.5 303.3) rotate(-45)" font-size="5.6" fill="#222" stroke="#222" stroke-width="0.12" text-anchor="end">GSM1302042</text>
<path d="M339.5 214V242.2M339.5 261.6V290.8" stroke="#7a7a7a" stroke-width="1"/>
<path d="M338.1 291.1H340.5" stroke="#111" stroke-width="1.3"/>
<path d="M338.3 214.2H340.3" stroke="#222" stroke-width="1.0"/>
<rect x="336.5" y="242.2" width="5.6" height="19.4" fill="#1cbfdc" stroke="#222" stroke-width="0.8"/>
<path d="M336.5 251.4H342.1" stroke="#111" stroke-width="1.3"/>
<path d="M339.3 295.3v2.6" stroke="#333" stroke-width="0.7"/>
<text transform="translate(341.9 303.3) rotate(-45)" font-size="5.6" fill="#222" stroke="#222" stroke-width="0.12" text-anchor="end">GSM1302043</text>
<path d="M345.5 213.5V242.1M345.5 261.4V290.1" stroke="#7a7a7a" stroke-width="1"/>
<path d="M344.6 290.4H347" stroke="#111" stroke-width="1.3"/>
<path d="M344.8 213.7H346.8" stroke="#222" stroke-width="1.0"/>
<rect x="343" y="242.1" width="5.6" height="19.4" fill="#1cbfdc" stroke="#222" stroke-width="0.8"/>
<path d="M343 251.4H348.6" stroke="#111" stroke-width="1.3"/>
<path d="M345.8 295.3v2.6" stroke="#333" stroke-width="0.7"/>
<text transform="translate(348.4 303.3) rotate(-45)" font-size="5.6" fill="#222" stroke="#222" stroke-width="0.12" text-anchor="end">GSM1302044</text>
<path d="M352.5 213.6V242.2M352.5 261.4V289.6" stroke="#7a7a7a" stroke-width="1"/>
<path d="M351 289.9H353.4" stroke="#111" stroke-width="1.3"/>
<path d="M351.2 213.8H353.2" stroke="#222" stroke-width="1.0"/>
<rect x="349.4" y="242.2" width="5.6" height="19.2" fill="#1cbfdc" stroke="#222" stroke-width="0.8"/>
<path d="M349.4 251.5H355" stroke="#111" stroke-width="1.3"/>
<path d="M352.2 295.3v2.6" stroke="#333" stroke-width="0.7"/>
<text transform="translate(354.8 303.3) rotate(-45)" font-size="5.6" fill="#222" stroke="#222" stroke-width="0.12" text-anchor="end">GSM1302045</text>
<path d="M358.5 215.3V242.4M358.5 260.8V288.2" stroke="#7a7a7a" stroke-width="1"/>
<path d="M357.5 288.5H359.9" stroke="#111" stroke-width="1.3"/>
<path d="M357.7 215.5H359.7" stroke="#222" stroke-width="1.0"/>
<rect x="355.9" y="242.4" width="5.6" height="18.4" fill="#1cbfdc" stroke="#222" stroke-width="0.8"/>
<path d="M355.9 251.3H361.5" stroke="#111" stroke-width="1.3"/>
<path d="M358.7 295.3v2.6" stroke="#333" stroke-width="0.7"/>
<text transform="translate(361.3 303.3) rotate(-45)" font-size="5.6" fill="#222" stroke="#222" stroke-width="0.12" text-anchor="end">GSM1302046</text>
<path d="M365.5 214.8V242.3M365.5 260.8V288.2" stroke="#7a7a7a" stroke-width="1"/>
<path d="M364 288.5H366.4" stroke="#111" stroke-width="1.3"/>
<path d="M364.2 215H366.2" stroke="#222" stroke-width="1.0"/>
<rect x="362.4" y="242.3" width="5.6" height="18.6" fill="#1cbfdc" stroke="#222" stroke-width="0.8"/>
<path d="M362.4 251.3H368" stroke="#111" stroke-width="1.3"/>
<path d="M365.2 295.3v2.6" stroke="#333" stroke-width="0.7"/>
<text transform="translate(367.8 303.3) rotate(-45)" font-size="5.6" fill="#222" stroke="#222" stroke-width="0.12" text-anchor="end">GSM1302047</text>
<path d="M371.5 214.8V242.5M371.5 261.1V288.7" stroke="#7a7a7a" stroke-width="1"/>
<path d="M370.4 289H372.8" stroke="#111" stroke-width="1.3"/>
<path d="M370.6 215H372.6" stroke="#222" stroke-width="1.0"/>
<rect x="368.8" y="242.5" width="5.6" height="18.7" fill="#1cbfdc" stroke="#222" stroke-width="0.8"/>
<path d="M368.8 251.5H374.4" stroke="#111" stroke-width="1.3"/>
<path d="M371.6 295.3v2.6" stroke="#333" stroke-width="0.7"/>
<text transform="translate(374.2 303.3) rotate(-45)" font-size="5.6" fill="#222" stroke="#222" stroke-width="0.12" text-anchor="end">GSM1302048</text>
<path d="M378.5 214.3V242.2M378.5 261.1V289.1" stroke="#7a7a7a" stroke-width="1"/>
<path d="M376.9 289.4H379.3" stroke="#111" stroke-width="1.3"/>
<path d="M377.1 214.5H379.1" stroke="#222" stroke-width="1.0"/>
<rect x="375.3" y="242.2" width="5.6" height="18.9" fill="#1cbfdc" stroke="#222" stroke-width="0.8"/>
<path d="M375.3 251.3H380.9" stroke="#111" stroke-width="1.3"/>
<path d="M378.1 295.3v2.6" stroke="#333" stroke-width="0.7"/>
<text transform="translate(380.7 303.3) rotate(-45)" font-size="5.6" fill="#222" stroke="#222" stroke-width="0.12" text-anchor="end">GSM1302049</text>
<path d="M384.5 216.3V242.9M384.5 260.8V287.2" stroke="#7a7a7a" stroke-width="1"/>
<path d="M383.3 287.5H385.7" stroke="#111" stroke-width="1.3"/>
<path d="M383.5 216.5H385.5" stroke="#222" stroke-width="1.0"/>
<rect x="381.7" y="242.9" width="5.6" height="17.9" fill="#1cbfdc" stroke="#222" stroke-width="0.8"/>
<path d="M381.7 251.6H387.3" stroke="#111" stroke-width="1.3"/>
<path d="M384.5 295.3v2.6" stroke="#333" stroke-width="0.7"/>
<text transform="translate(387.1 303.3) rotate(-45)" font-size="5.6" fill="#222" stroke="#222" stroke-width="0.12" text-anchor="end">GSM1302050</text>
<path d="M390.5 216V242.9M390.5 261.1V288.2" stroke="#7a7a7a" stroke-width="1"/>
<path d="M389.8 288.5H392.2" stroke="#111" stroke-width="1.3"/>
<path d="M390 216.2H392" stroke="#222" stroke-width="1.0"/>
<rect x="388.2" y="242.9" width="5.6" height="18.3" fill="#1cbfdc" stroke="#222" stroke-width="0.8"/>
<path d="M388.2 251.6H393.8" stroke="#111" stroke-width="1.3"/>
<path d="M391 295.3v2.6" stroke="#333" stroke-width="0.7"/>
<text transform="translate(393.6 303.3) rotate(-45)" font-size="5.6" fill="#222" stroke="#222" stroke-width="0.12" text-anchor="end">GSM1302051</text>
<path d="M397.5 211.9V241.8M397.5 262.1V292.1" stroke="#7a7a7a" stroke-width="1"/>
<path d="M396.2 292.4H398.6" stroke="#111" stroke-width="1.3"/>
<path d="M396.4 212.1H398.4" stroke="#222" stroke-width="1.0"/>
<rect x="394.6" y="241.8" width="5.6" height="20.3" fill="#1cbfdc" stroke="#222" stroke-width="0.8"/>
<path d="M394.6 251.5H400.2" stroke="#111" stroke-width="1.3"/>
<path d="M397.4 295.3v2.6" stroke="#333" stroke-width="0.7"/>
<text transform="translate(400 303.3) rotate(-45)" font-size="5.6" fill="#222" stroke="#222" stroke-width="0.12" text-anchor="end">GSM1302052</text>
<path d="M403.5 217V243.1M403.5 260.7V286.7" stroke="#7a7a7a" stroke-width="1"/>
<path d="M402.7 287H405.1" stroke="#111" stroke-width="1.3"/>
<path d="M402.9 217.2H404.9" stroke="#222" stroke-width="1.0"/>
<rect x="401.1" y="243.1" width="5.6" height="17.6" fill="#1cbfdc" stroke="#222" stroke-width="0.8"/>
<path d="M401.1 251.6H406.7" stroke="#111" stroke-width="1.3"/>
<path d="M403.9 295.3v2.6" stroke="#333" stroke-width="0.7"/>
<text transform="translate(406.5 303.3) rotate(-45)" font-size="5.6" fill="#222" stroke="#222" stroke-width="0.12" text-anchor="end">GSM1302053</text>
<path d="M410.5 213.1V242M410.5 261.5V290.1" stroke="#7a7a7a" stroke-width="1"/>
<path d="M409.1 290.4H411.5" stroke="#111" stroke-width="1.3"/>
<path d="M409.3 213.3H411.3" stroke="#222" stroke-width="1.0"/>
<rect x="407.5" y="242" width="5.6" height="19.5" fill="#1cbfdc" stroke="#222" stroke-width="0.8"/>
<path d="M407.5 251.4H413.1" stroke="#111" stroke-width="1.3"/>
<path d="M410.3 295.3v2.6" stroke="#333" stroke-width="0.7"/>
<text transform="translate(412.9 303.3) rotate(-45)" font-size="5.6" fill="#222" stroke="#222" stroke-width="0.12" text-anchor="end">GSM1302054</text>
<path d="M416.5 212.4V241.7M416.5 261.6V291.1" stroke="#7a7a7a" stroke-width="1"/>
<path d="M415.6 291.4H418" stroke="#111" stroke-width="1.3"/>
<path d="M415.8 212.6H417.8" stroke="#222" stroke-width="1.0"/>
<rect x="414" y="241.7" width="5.6" height="19.9" fill="#1cbfdc" stroke="#222" stroke-width="0.8"/>
<path d="M414 251.3H419.6" stroke="#111" stroke-width="1.3"/>
<path d="M416.8 295.3v2.6" stroke="#333" stroke-width="0.7"/>
<text transform="translate(419.4 303.3) rotate(-45)" font-size="5.6" fill="#222" stroke="#222" stroke-width="0.12" text-anchor="end">GSM1302055</text>
<path d="M423.5 214.8V242.5M423.5 261.1V288.7" stroke="#7a7a7a" stroke-width="1"/>
<path d="M422.1 289H424.4" stroke="#111" stroke-width="1.3"/>
<path d="M422.2 215H424.2" stroke="#222" stroke-width="1.0"/>
<rect x="420.4" y="242.5" width="5.6" height="18.7" fill="#1cbfdc" stroke="#222" stroke-width="0.8"/>
<path d="M420.4 251.5H426.1" stroke="#111" stroke-width="1.3"/>
<path d="M423.2 295.3v2.6" stroke="#333" stroke-width="0.7"/>
<text transform="translate(425.9 303.3) rotate(-45)" font-size="5.6" fill="#222" stroke="#222" stroke-width="0.12" text-anchor="end">GSM1302056</text>
<path d="M429.5 216V242.7M429.5 261.1V288.7" stroke="#7a7a7a" stroke-width="1"/>
<path d="M428.5 289H430.9" stroke="#111" stroke-width="1.3"/>
<path d="M428.7 216.2H430.7" stroke="#222" stroke-width="1.0"/>
<rect x="426.9" y="242.7" width="5.6" height="18.4" fill="#1cbfdc" stroke="#222" stroke-width="0.8"/>
<path d="M426.9 251.4H432.5" stroke="#111" stroke-width="1.3"/>
<path d="M429.7 295.3v2.6" stroke="#333" stroke-width="0.7"/>
<text transform="translate(432.3 303.3) rotate(-45)" font-size="5.6" fill="#222" stroke="#222" stroke-width="0.12" text-anchor="end">GSM1302057</text>
<path d="M436.5 214.8V242.5M436.5 261.3V289.1" stroke="#7a7a7a" stroke-width="1"/>
<path d="M435 289.4H437.4" stroke="#111" stroke-width="1.3"/>
<path d="M435.2 215H437.2" stroke="#222" stroke-width="1.0"/>
<rect x="433.4" y="242.5" width="5.6" height="18.8" fill="#1cbfdc" stroke="#222" stroke-width="0.8"/>
<path d="M433.4 251.5H439" stroke="#111" stroke-width="1.3"/>
<path d="M436.2 295.3v2.6" stroke="#333" stroke-width="0.7"/>
<text transform="translate(438.8 303.3) rotate(-45)" font-size="5.6" fill="#222" stroke="#222" stroke-width="0.12" text-anchor="end">GSM1302058</text>
<path d="M442.5 216V242.6M442.5 260.8V287.7" stroke="#7a7a7a" stroke-width="1"/>
<path d="M441.4 288H443.8" stroke="#111" stroke-width="1.3"/>
<path d="M441.6 216.2H443.6" stroke="#222" stroke-width="1.0"/>
<rect x="439.8" y="242.6" width="5.6" height="18.1" fill="#1cbfdc" stroke="#222" stroke-width="0.8"/>
<path d="M439.8 251.3H445.4" stroke="#111" stroke-width="1.3"/>
<path d="M442.6 295.3v2.6" stroke="#333" stroke-width="0.7"/>
<text transform="translate(445.2 303.3) rotate(-45)" font-size="5.6" fill="#222" stroke="#222" stroke-width="0.12" text-anchor="end">GSM1302059</text>
<path d="M449.5 214.8V242.4M449.5 261.2V289.1" stroke="#7a7a7a" stroke-width="1"/>
<path d="M447.9 289.4H450.3" stroke="#111" stroke-width="1.3"/>
<path d="M448.1 215H450.1" stroke="#222" stroke-width="1.0"/>
<rect x="446.3" y="242.4" width="5.6" height="18.8" fill="#1cbfdc" stroke="#222" stroke-width="0.8"/>
<path d="M446.3 251.4H451.9" stroke="#111" stroke-width="1.3"/>
<path d="M449.1 295.3v2.6" stroke="#333" stroke-width="0.7"/>
<text transform="translate(451.7 303.3) rotate(-45)" font-size="5.6" fill="#222" stroke="#222" stroke-width="0.12" text-anchor="end">GSM1302060</text>
<path d="M455.5 215.1V242.7M455.5 261.3V288.7" stroke="#7a7a7a" stroke-width="1"/>
<path d="M454.3 289H456.7" stroke="#111" stroke-width="1.3"/>
<path d="M454.5 215.3H456.5" stroke="#222" stroke-width="1.0"/>
<rect x="452.7" y="242.7" width="5.6" height="18.6" fill="#1cbfdc" stroke="#222" stroke-width="0.8"/>
<path d="M452.7 251.7H458.3" stroke="#111" stroke-width="1.3"/>
<path d="M455.5 295.3v2.6" stroke="#333" stroke-width="0.7"/>
<text transform="translate(458.1 303.3) rotate(-45)" font-size="5.6" fill="#222" stroke="#222" stroke-width="0.12" text-anchor="end">GSM1302061</text>
<path d="M461.5 215.1V242.5M461.5 261.1V288.7" stroke="#7a7a7a" stroke-width="1"/>
<path d="M460.8 289H463.2" stroke="#111" stroke-width="1.3"/>
<path d="M461 215.3H463" stroke="#222" stroke-width="1.0"/>
<rect x="459.2" y="242.5" width="5.6" height="18.6" fill="#1cbfdc" stroke="#222" stroke-width="0.8"/>
<path d="M459.2 251.4H464.8" stroke="#111" stroke-width="1.3"/>
<path d="M462 295.3v2.6" stroke="#333" stroke-width="0.7"/>
<text transform="translate(464.6 303.3) rotate(-45)" font-size="5.6" fill="#222" stroke="#222" stroke-width="0.12" text-anchor="end">GSM1302062</text>
<path d="M468.5 215.1V242.5M468.5 261.2V289.1" stroke="#7a7a7a" stroke-width="1"/>
<path d="M467.2 289.4H469.6" stroke="#111" stroke-width="1.3"/>
<path d="M467.4 215.3H469.4" stroke="#222" stroke-width="1.0"/>
<rect x="465.6" y="242.5" width="5.6" height="18.7" fill="#1cbfdc" stroke="#222" stroke-width="0.8"/>
<path d="M465.6 251.5H471.2" stroke="#111" stroke-width="1.3"/>
<path d="M468.4 295.3v2.6" stroke="#333" stroke-width="0.7"/>
<text transform="translate(471 303.3) rotate(-45)" font-size="5.6" fill="#222" stroke="#222" stroke-width="0.12" text-anchor="end">GSM1302063</text>
<path d="M474.5 215.1V242.7M474.5 261.4V289.1" stroke="#7a7a7a" stroke-width="1"/>
<path d="M473.7 289.4H476.1" stroke="#111" stroke-width="1.3"/>
<path d="M473.9 215.3H475.9" stroke="#222" stroke-width="1.0"/>
<rect x="472.1" y="242.7" width="5.6" height="18.7" fill="#1cbfdc" stroke="#222" stroke-width="0.8"/>
<path d="M472.1 251.7H477.7" stroke="#111" stroke-width="1.3"/>
<path d="M474.9 295.3v2.6" stroke="#333" stroke-width="0.7"/>
<text transform="translate(477.5 303.3) rotate(-45)" font-size="5.6" fill="#222" stroke="#222" stroke-width="0.12" text-anchor="end">GSM1302064</text>
<path d="M481.5 215.1V242.5M481.5 261.1V289" stroke="#7a7a7a" stroke-width="1"/>
<path d="M480.1 289.3H482.5" stroke="#111" stroke-width="1.3"/>
<path d="M480.3 215.3H482.3" stroke="#222" stroke-width="1.0"/>
<rect x="478.5" y="242.5" width="5.6" height="18.7" fill="#1cbfdc" stroke="#222" stroke-width="0.8"/>
<path d="M478.5 251.4H484.1" stroke="#111" stroke-width="1.3"/>
<path d="M481.3 295.3v2.6" stroke="#333" stroke-width="0.7"/>
<text transform="translate(483.9 303.3) rotate(-45)" font-size="5.6" fill="#222" stroke="#222" stroke-width="0.12" text-anchor="end">GSM1302065</text>
<path d="M487.5 217.7V243.1M487.5 260.4V286.5" stroke="#7a7a7a" stroke-width="1"/>
<path d="M486.6 286.8H489" stroke="#111" stroke-width="1.3"/>
<path d="M486.8 217.9H488.8" stroke="#222" stroke-width="1.0"/>
<rect x="485" y="243.1" width="5.6" height="17.4" fill="#f2553a" stroke="#222" stroke-width="0.8"/>
<path d="M485 251.3H490.6" stroke="#111" stroke-width="1.3"/>
<path d="M487.8 295.3v2.6" stroke="#333" stroke-width="0.7"/>
<text transform="translate(490.4 303.3) rotate(-45)" font-size="5.6" fill="#222" stroke="#222" stroke-width="0.12" text-anchor="end">GSM1302066</text>
<path d="M494.5 211.4V241.7M494.5 262.2V292.4" stroke="#7a7a7a" stroke-width="1"/>
<path d="M493.1 292.7H495.5" stroke="#111" stroke-width="1.3"/>
<path d="M493.3 211.6H495.3" stroke="#222" stroke-width="1.0"/>
<rect x="491.5" y="241.7" width="5.6" height="20.5" fill="#f2553a" stroke="#222" stroke-width="0.8"/>
<path d="M491.5 251.6H497.1" stroke="#111" stroke-width="1.3"/>
<path d="M494.3 295.3v2.6" stroke="#333" stroke-width="0.7"/>
<text transform="translate(496.9 303.3) rotate(-45)" font-size="5.6" fill="#222" stroke="#222" stroke-width="0.12" text-anchor="end">GSM1302067</text>
<path d="M500.5 213.2V242.1M500.5 261.8V291" stroke="#7a7a7a" stroke-width="1"/>
<path d="M499.5 291.3H501.9" stroke="#111" stroke-width="1.3"/>
<path d="M499.7 213.4H501.7" stroke="#222" stroke-width="1.0"/>
<rect x="497.9" y="242.1" width="5.6" height="19.7" fill="#f2553a" stroke="#222" stroke-width="0.8"/>
<path d="M497.9 251.5H503.5" stroke="#111" stroke-width="1.3"/>
<path d="M500.7 295.3v2.6" stroke="#333" stroke-width="0.7"/>
<text transform="translate(503.3 303.3) rotate(-45)" font-size="5.6" fill="#222" stroke="#222" stroke-width="0.12" text-anchor="end">GSM1302068</text>
<path d="M507.5 213.2V242.1M507.5 261.8V291" stroke="#7a7a7a" stroke-width="1"/>
<path d="M506 291.3H508.4" stroke="#111" stroke-width="1.3"/>
<path d="M506.2 213.4H508.2" stroke="#222" stroke-width="1.0"/>
<rect x="504.4" y="242.1" width="5.6" height="19.7" fill="#f2553a" stroke="#222" stroke-width="0.8"/>
<path d="M504.4 251.6H510" stroke="#111" stroke-width="1.3"/>
<path d="M507.2 295.3v2.6" stroke="#333" stroke-width="0.7"/>
<text transform="translate(509.8 303.3) rotate(-45)" font-size="5.6" fill="#222" stroke="#222" stroke-width="0.12" text-anchor="end">GSM1302069</text>
<path d="M513.5 216.1V242.6M513.5 260.9V288.5" stroke="#7a7a7a" stroke-width="1"/>
<path d="M512.4 288.8H514.8" stroke="#111" stroke-width="1.3"/>
<path d="M512.6 216.3H514.6" stroke="#222" stroke-width="1.0"/>
<rect x="510.8" y="242.6" width="5.6" height="18.3" fill="#f2553a" stroke="#222" stroke-width="0.8"/>
<path d="M510.8 251.3H516.4" stroke="#111" stroke-width="1.3"/>
<path d="M513.6 295.3v2.6" stroke="#333" stroke-width="0.7"/>
<text transform="translate(516.2 303.3) rotate(-45)" font-size="5.6" fill="#222" stroke="#222" stroke-width="0.12" text-anchor="end">GSM1302070</text>
<path d="M520.5 214.3V242.3M520.5 261.4V289.6" stroke="#7a7a7a" stroke-width="1"/>
<path d="M518.9 289.9H521.3" stroke="#111" stroke-width="1.3"/>
<path d="M519.1 214.5H521.1" stroke="#222" stroke-width="1.0"/>
<rect x="517.3" y="242.3" width="5.6" height="19" fill="#f2553a" stroke="#222" stroke-width="0.8"/>
<path d="M517.3 251.5H522.9" stroke="#111" stroke-width="1.3"/>
<path d="M520.1 295.3v2.6" stroke="#333" stroke-width="0.7"/>
<text transform="translate(522.7 303.3) rotate(-45)" font-size="5.6" fill="#222" stroke="#222" stroke-width="0.12" text-anchor="end">GSM1302071</text>
<path d="M526.5 214V242.1M526.5 261.4V290.2" stroke="#7a7a7a" stroke-width="1"/>
<path d="M525.3 290.5H527.7" stroke="#111" stroke-width="1.3"/>
<path d="M525.5 214.2H527.5" stroke="#222" stroke-width="1.0"/>
<rect x="523.7" y="242.1" width="5.6" height="19.3" fill="#f2553a" stroke="#222" stroke-width="0.8"/>
<path d="M523.7 251.3H529.3" stroke="#111" stroke-width="1.3"/>
<path d="M526.5 295.3v2.6" stroke="#333" stroke-width="0.7"/>
<text transform="translate(529.1 303.3) rotate(-45)" font-size="5.6" fill="#222" stroke="#222" stroke-width="0.12" text-anchor="end">GSM1302072</text>
<path d="M532.5 216.1V242.7M532.5 260.9V288.1" stroke="#7a7a7a" stroke-width="1"/>
<path d="M531.8 288.4H534.2" stroke="#111" stroke-width="1.3"/>
<path d="M532 216.3H534" stroke="#222" stroke-width="1.0"/>
<rect x="530.2" y="242.7" width="5.6" height="18.2" fill="#f2553a" stroke="#222" stroke-width="0.8"/>
<path d="M530.2 251.4H535.8" stroke="#111" stroke-width="1.3"/>
<path d="M533 295.3v2.6" stroke="#333" stroke-width="0.7"/>
<text transform="translate(535.6 303.3) rotate(-45)" font-size="5.6" fill="#222" stroke="#222" stroke-width="0.12" text-anchor="end">GSM1302073</text>
<text x="15.5" y="346.8" font-size="8.6" fill="#222" text-anchor="start" >D</text>
<text x="109.1" y="347.7" font-size="8.6" fill="#222" text-anchor="middle" >GSE53845</text>
<rect x="22.8" y="351" width="162.4" height="139.9" fill="none" stroke="#8a8a8a" stroke-width="1"/>
<path d="M22.8 351.8H19.8" stroke="#8a8a8a" stroke-width="0.8"/>
<text transform="translate(14.8 351.8) rotate(-90)" font-size="6.4" fill="#333" text-anchor="middle">3</text>
<path d="M22.8 371H19.8" stroke="#8a8a8a" stroke-width="0.8"/>
<text transform="translate(14.8 371) rotate(-90)" font-size="6.4" fill="#333" text-anchor="middle">2</text>
<path d="M22.8 390.2H19.8" stroke="#8a8a8a" stroke-width="0.8"/>
<text transform="translate(14.8 390.2) rotate(-90)" font-size="6.4" fill="#333" text-anchor="middle">1</text>
<path d="M22.8 409.4H19.8" stroke="#8a8a8a" stroke-width="0.8"/>
<text transform="translate(14.8 409.4) rotate(-90)" font-size="6.4" fill="#333" text-anchor="middle">0</text>
<path d="M22.8 428.6H19.8" stroke="#8a8a8a" stroke-width="0.8"/>
<text transform="translate(14.8 428.6) rotate(-90)" font-size="6.4" fill="#333" text-anchor="middle">−1</text>
<path d="M22.8 447.8H19.8" stroke="#8a8a8a" stroke-width="0.8"/>
<text transform="translate(14.8 447.8) rotate(-90)" font-size="6.4" fill="#333" text-anchor="middle">−2</text>
<path d="M22.8 467H19.8" stroke="#8a8a8a" stroke-width="0.8"/>
<text transform="translate(14.8 467) rotate(-90)" font-size="6.4" fill="#333" text-anchor="middle">−3</text>
<path d="M22.8 486.2H19.8" stroke="#8a8a8a" stroke-width="0.8"/>
<text transform="translate(14.8 486.2) rotate(-90)" font-size="6.4" fill="#333" text-anchor="middle">−4</text>
<path d="M41.6 490.9V493.9" stroke="#8a8a8a" stroke-width="0.8"/>
<text x="41.6" y="503.4" font-size="6.2" fill="#333" text-anchor="middle" >−1.0</text>
<path d="M68.4 490.9V493.9" stroke="#8a8a8a" stroke-width="0.8"/>
<text x="68.4" y="503.4" font-size="6.2" fill="#333" text-anchor="middle" >−0.5</text>
<path d="M95.2 490.9V493.9" stroke="#8a8a8a" stroke-width="0.8"/>
<text x="95.2" y="503.4" font-size="6.2" fill="#333" text-anchor="middle" >0.0</text>
<path d="M122 490.9V493.9" stroke="#8a8a8a" stroke-width="0.8"/>
<text x="122" y="503.4" font-size="6.2" fill="#333" text-anchor="middle" >0.5</text>
<path d="M148.8 490.9V493.9" stroke="#8a8a8a" stroke-width="0.8"/>
<text x="148.8" y="503.4" font-size="6.2" fill="#333" text-anchor="middle" >1.0</text>
<path d="M175.6 490.9V493.9" stroke="#8a8a8a" stroke-width="0.8"/>
<text x="175.6" y="503.4" font-size="6.2" fill="#333" text-anchor="middle" >1.5</text>
<ellipse cx="62.2" cy="362.6" rx="2.9" ry="2.7" fill="#1aa37a"/>
<ellipse cx="77.6" cy="355.9" rx="2.9" ry="2.7" fill="#1aa37a"/>
<ellipse cx="81.8" cy="360.5" rx="2.9" ry="2.7" fill="#1aa37a"/>
<ellipse cx="76" cy="370.8" rx="2.9" ry="2.7" fill="#1aa37a"/>
<ellipse cx="92.7" cy="370.1" rx="2.9" ry="2.7" fill="#1aa37a"/>
<ellipse cx="106.5" cy="356.3" rx="2.9" ry="2.7" fill="#1aa37a"/>
<ellipse cx="109.3" cy="360.9" rx="2.9" ry="2.7" fill="#1aa37a"/>
<ellipse cx="103.5" cy="365.7" rx="2.9" ry="2.7" fill="#1aa37a"/>
<ellipse cx="112.2" cy="375.2" rx="2.9" ry="2.7" fill="#1aa37a"/>
<ellipse cx="98.9" cy="383.4" rx="2.9" ry="2.7" fill="#1aa37a"/>
<ellipse cx="61.1" cy="387.4" rx="2.9" ry="2.7" fill="#1aa37a"/>
<ellipse cx="54.4" cy="398.3" rx="2.9" ry="2.7" fill="#1aa37a"/>
<ellipse cx="97.2" cy="405.3" rx="2.9" ry="2.7" fill="#1aa37a"/>
<ellipse cx="28.5" cy="411" rx="2.9" ry="2.7" fill="#1aa37a"/>
<ellipse cx="47.8" cy="411" rx="2.9" ry="2.7" fill="#1aa37a"/>
<ellipse cx="112.7" cy="413.4" rx="2.9" ry="2.7" fill="#1aa37a"/>
<ellipse cx="118.5" cy="411.6" rx="2.9" ry="2.7" fill="#1aa37a"/>
<ellipse cx="28.5" cy="421.4" rx="2.9" ry="2.7" fill="#1aa37a"/>
<ellipse cx="68.3" cy="419.5" rx="2.9" ry="2.7" fill="#1aa37a"/>
<ellipse cx="42.7" cy="425.3" rx="2.9" ry="2.7" fill="#1aa37a"/>
<ellipse cx="49.5" cy="424.3" rx="2.9" ry="2.7" fill="#1aa37a"/>
<ellipse cx="98.8" cy="422.4" rx="2.9" ry="2.7" fill="#1aa37a"/>
<ellipse cx="123.1" cy="356.5" rx="2.9" ry="2.7" fill="#1aa37a"/>
<ellipse cx="130.9" cy="373.2" rx="2.9" ry="2.7" fill="#1aa37a"/>
<ellipse cx="150.4" cy="368.6" rx="2.9" ry="2.7" fill="#1aa37a"/>
<ellipse cx="159.5" cy="374.6" rx="2.9" ry="2.7" fill="#1aa37a"/>
<ellipse cx="144.5" cy="382.8" rx="2.9" ry="2.7" fill="#1aa37a"/>
<ellipse cx="165.8" cy="383.7" rx="2.9" ry="2.7" fill="#1aa37a"/>
<ellipse cx="179.5" cy="387" rx="2.9" ry="2.7" fill="#1aa37a"/>
<ellipse cx="149.5" cy="389.4" rx="2.9" ry="2.7" fill="#1aa37a"/>
<ellipse cx="159.1" cy="390.6" rx="2.9" ry="2.7" fill="#1aa37a"/>
<ellipse cx="132.7" cy="395" rx="2.9" ry="2.7" fill="#1aa37a"/>
<ellipse cx="139.1" cy="400.6" rx="2.9" ry="2.7" fill="#1aa37a"/>
<ellipse cx="57.6" cy="430.8" rx="2.9" ry="2.7" fill="#1aa37a"/>
<ellipse cx="72.5" cy="429.9" rx="2.9" ry="2.7" fill="#1aa37a"/>
<ellipse cx="102.9" cy="426.8" rx="2.9" ry="2.7" fill="#1aa37a"/>
<ellipse cx="92.7" cy="433.7" rx="2.9" ry="2.7" fill="#1aa37a"/>
<ellipse cx="114.9" cy="438.8" rx="2.9" ry="2.7" fill="#1aa37a"/>
<ellipse cx="121.3" cy="430.3" rx="2.9" ry="2.7" fill="#1aa37a"/>
<ellipse cx="128.5" cy="434.5" rx="2.9" ry="2.7" fill="#1aa37a"/>
<ellipse cx="62.4" cy="466.7" rx="2.9" ry="2.7" fill="#6c65bd"/>
<ellipse cx="62.7" cy="472.2" rx="2.9" ry="2.7" fill="#6c65bd"/>
<ellipse cx="60.9" cy="474.5" rx="2.9" ry="2.7" fill="#6c65bd"/>
<ellipse cx="46.4" cy="477.6" rx="2.9" ry="2.7" fill="#6c65bd"/>
<ellipse cx="66.7" cy="477.6" rx="2.9" ry="2.7" fill="#6c65bd"/>
<ellipse cx="69.5" cy="480.4" rx="2.9" ry="2.7" fill="#6c65bd"/>
<ellipse cx="52.2" cy="485.5" rx="2.9" ry="2.7" fill="#6c65bd"/>
<ellipse cx="91.5" cy="483.3" rx="2.9" ry="2.7" fill="#6c65bd"/>
<rect x="191.2" y="350.6" width="35.5" height="28.4" fill="none" stroke="#8a8a8a" stroke-width="0.8"/>
<text x="208.9" y="358" font-size="6.3" fill="#333" text-anchor="middle" >Group</text>
<circle cx="196.9" cy="364.9" r="1.45" fill="#1aa37a"/>
<circle cx="196.9" cy="372" r="1.45" fill="#6c65bd"/>
<text x="202.9" y="367.1" font-size="6.3" fill="#333" text-anchor="start" >IPF</text>
<text x="202.9" y="374.2" font-size="6.3" fill="#333" text-anchor="start" >Normal</text>
<text x="266.6" y="380.6" font-size="8.6" fill="#222" text-anchor="start" >G</text>
<defs><clipPath id="cl"><ellipse cx="241.5" cy="444.9" rx="52.3" ry="45.8"/></clipPath></defs>
<ellipse cx="241.5" cy="444.9" rx="52.3" ry="45.8" fill="#c77aae"/>
<ellipse cx="300.3" cy="444.9" rx="52.1" ry="45.8" fill="#9ad0ef"/>
<ellipse cx="300.3" cy="444.9" rx="52.1" ry="45.8" fill="#8490c8" clip-path="url(#cl)"/>
<text x="220.8" y="395.2" font-size="5.6" fill="#e08ac0" text-anchor="middle" >GSE110147</text>
<text x="320.2" y="395.2" font-size="5.6" fill="#a8d6f0" text-anchor="middle" >GSE53845</text>
<text x="222.3" y="446.2" font-size="5" fill="#222" text-anchor="middle" font-weight="bold">3252</text>
<text x="272" y="446.2" font-size="5" fill="#222" text-anchor="middle" font-weight="bold">240</text>
<text x="312.7" y="446.2" font-size="5" fill="#222" text-anchor="middle" font-weight="bold">529</text>
<path d="M25.4 197H163.4V323.2H25.4Z" fill="none" stroke="#6a6a6a" stroke-width="1"/>
<text x="13.4" y="193.8" font-size="8.5" fill="#222" text-anchor="start" >C</text>
<text x="105.4" y="194.8" font-size="8.6" fill="#222" text-anchor="middle" >GSE110147</text>
<path d="M25.4 318.2h-2.2" stroke="#4a4a4a" stroke-width="0.7"/>
<text x="22.2" y="320.1" font-size="5.6" fill="#222" text-anchor="end" textLength="2.4" lengthAdjust="spacingAndGlyphs">0</text>
<path d="M25.4 309.6h-2.2" stroke="#4a4a4a" stroke-width="0.7"/>
<text x="22.2" y="311.5" font-size="5.6" fill="#222" text-anchor="end" textLength="2.4" lengthAdjust="spacingAndGlyphs">2</text>
<path d="M25.4 301h-2.2" stroke="#4a4a4a" stroke-width="0.7"/>
<text x="22.2" y="302.9" font-size="5.6" fill="#222" text-anchor="end" textLength="2.4" lengthAdjust="spacingAndGlyphs">4</text>
<path d="M25.4 292.3h-2.2" stroke="#4a4a4a" stroke-width="0.7"/>
<text x="22.2" y="294.2" font-size="5.6" fill="#222" text-anchor="end" textLength="2.4" lengthAdjust="spacingAndGlyphs">6</text>
<path d="M25.4 283.7h-2.2" stroke="#4a4a4a" stroke-width="0.7"/>
<text x="22.2" y="285.6" font-size="5.6" fill="#222" text-anchor="end" textLength="2.4" lengthAdjust="spacingAndGlyphs">8</text>
<path d="M25.4 275.1h-2.2" stroke="#4a4a4a" stroke-width="0.7"/>
<text x="22.2" y="277" font-size="5.6" fill="#222" text-anchor="end" textLength="4.7" lengthAdjust="spacingAndGlyphs">10</text>
<path d="M25.4 266.5h-2.2" stroke="#4a4a4a" stroke-width="0.7"/>
<text x="22.2" y="268.4" font-size="5.6" fill="#222" text-anchor="end" textLength="4.7" lengthAdjust="spacingAndGlyphs">12</text>
<path d="M25.4 257.9h-2.2" stroke="#4a4a4a" stroke-width="0.7"/>
<text x="22.2" y="259.8" font-size="5.6" fill="#222" text-anchor="end" textLength="4.7" lengthAdjust="spacingAndGlyphs">14</text>
<path d="M25.4 249.2h-2.2" stroke="#4a4a4a" stroke-width="0.7"/>
<text x="22.2" y="251.1" font-size="5.6" fill="#222" text-anchor="end" textLength="4.7" lengthAdjust="spacingAndGlyphs">16</text>
<path d="M25.4 240.6h-2.2" stroke="#4a4a4a" stroke-width="0.7"/>
<text x="22.2" y="242.5" font-size="5.6" fill="#222" text-anchor="end" textLength="4.7" lengthAdjust="spacingAndGlyphs">18</text>
<path d="M25.4 232h-2.2" stroke="#4a4a4a" stroke-width="0.7"/>
<text x="22.2" y="233.9" font-size="5.6" fill="#222" text-anchor="end" textLength="4.7" lengthAdjust="spacingAndGlyphs">20</text>
<path d="M25.4 223.4h-2.2" stroke="#4a4a4a" stroke-width="0.7"/>
<text x="22.2" y="225.3" font-size="5.6" fill="#222" text-anchor="end" textLength="4.7" lengthAdjust="spacingAndGlyphs">22</text>
<path d="M25.4 214.8h-2.2" stroke="#4a4a4a" stroke-width="0.7"/>
<text x="22.2" y="216.7" font-size="5.6" fill="#222" text-anchor="end" textLength="4.7" lengthAdjust="spacingAndGlyphs">24</text>
<path d="M25.4 206.1h-2.2" stroke="#4a4a4a" stroke-width="0.7"/>
<text x="22.2" y="208" font-size="5.6" fill="#222" text-anchor="end" textLength="4.7" lengthAdjust="spacingAndGlyphs">26</text>
<path d="M25.4 197.5h-2.2" stroke="#4a4a4a" stroke-width="0.7"/>
<text x="22.2" y="199.4" font-size="5.6" fill="#222" text-anchor="end" textLength="4.7" lengthAdjust="spacingAndGlyphs">28</text>
<path d="M37.8 323.2v2.2" stroke="#4a4a4a" stroke-width="0.7"/>
<text x="36.9" y="330.8" font-size="5.6" fill="#222" text-anchor="middle" textLength="4.1" lengthAdjust="spacingAndGlyphs">−5</text>
<path d="M51.2 323.2v2.2" stroke="#4a4a4a" stroke-width="0.7"/>
<text x="50.3" y="330.8" font-size="5.6" fill="#222" text-anchor="middle" textLength="4.1" lengthAdjust="spacingAndGlyphs">−4</text>
<path d="M64.7 323.2v2.2" stroke="#4a4a4a" stroke-width="0.7"/>
<text x="63.8" y="330.8" font-size="5.6" fill="#222" text-anchor="middle" textLength="4.1" lengthAdjust="spacingAndGlyphs">−3</text>
<path d="M78.1 323.2v2.2" stroke="#4a4a4a" stroke-width="0.7"/>
<text x="77.2" y="330.8" font-size="5.6" fill="#222" text-anchor="middle" textLength="4.1" lengthAdjust="spacingAndGlyphs">−2</text>
<path d="M91.5 323.2v2.2" stroke="#4a4a4a" stroke-width="0.7"/>
<text x="90.6" y="330.8" font-size="5.6" fill="#222" text-anchor="middle" textLength="4.1" lengthAdjust="spacingAndGlyphs">−1</text>
<path d="M105 323.2v2.2" stroke="#4a4a4a" stroke-width="0.7"/>
<text x="105" y="330.8" font-size="5.6" fill="#222" text-anchor="middle" textLength="2.4" lengthAdjust="spacingAndGlyphs">0</text>
<path d="M118.5 323.2v2.2" stroke="#4a4a4a" stroke-width="0.7"/>
<text x="118.5" y="330.8" font-size="5.6" fill="#222" text-anchor="middle" textLength="2.4" lengthAdjust="spacingAndGlyphs">1</text>
<path d="M131.9 323.2v2.2" stroke="#4a4a4a" stroke-width="0.7"/>
<text x="131.9" y="330.8" font-size="5.6" fill="#222" text-anchor="middle" textLength="2.4" lengthAdjust="spacingAndGlyphs">2</text>
<path d="M145.3 323.2v2.2" stroke="#4a4a4a" stroke-width="0.7"/>
<text x="145.3" y="330.8" font-size="5.6" fill="#222" text-anchor="middle" textLength="2.4" lengthAdjust="spacingAndGlyphs">3</text>
<path d="M158.8 323.2v2.2" stroke="#4a4a4a" stroke-width="0.7"/>
<text x="158.8" y="330.8" font-size="5.6" fill="#222" text-anchor="middle" textLength="2.4" lengthAdjust="spacingAndGlyphs">4</text>
<path d="M25.4 323.2v2.2" stroke="#4a4a4a" stroke-width="0.7"/>
<text transform="translate(17 255.6) rotate(-90)" font-size="5.7" fill="#333" text-anchor="middle" textLength="40" lengthAdjust="spacingAndGlyphs">−log10(pvalue)</text>
<text x="94.1" y="338.8" font-size="5.7" fill="#333" text-anchor="middle" textLength="36.3" lengthAdjust="spacingAndGlyphs">log2(FoldChange)</text>
<text x="167.4" y="202.4" font-size="5.6" fill="#333" text-anchor="start" textLength="20.4" lengthAdjust="spacingAndGlyphs">Regulated</text>
<circle cx="169.6" cy="209.5" r="2.4" fill="#168a4f"/>
<circle cx="169.6" cy="219.1" r="2.4" fill="#f05a3a"/>
<text x="173.5" y="211.5" font-size="5.6" fill="#333" text-anchor="start" textLength="31.6" lengthAdjust="spacingAndGlyphs">Down-regulated</text>
<text x="173.5" y="221.1" font-size="5.6" fill="#333" text-anchor="start" textLength="25.6" lengthAdjust="spacingAndGlyphs">Up-regulated</text>
<defs><clipPath id="bk1"><rect x="88" y="253" width="17" height="69"/><rect x="105" y="255" width="17" height="67"/></clipPath></defs>
<path d="M91.5 248.5L92.5 247.2L94.5 247L95.6 248.3L98.6 273.4L101.4 298.5L103.3 309L105 315.3L106.4 309L108 298.5L112.6 273.4L115.9 250.5L117 249.3L118.5 249.6L118.5 309.6L117.5 312L113.5 315.5L108 318.2L105 318.9L102 318.2L96.5 315.5L92.5 312L91.5 309.6Z" fill="#000" clip-path="url(#bk1)"/>
<path d="M82 272.5h1.3M80 286.7h1.3M79.2 280.7h1.3M87.5 293.6h1.3M81.8 249.7h1.3M89.2 269h1.3M86.5 242.1h1.3M75.6 265.4h1.3M87.1 229.4h1.3M83.1 287.8h1.3M85.5 281.7h1.3M86 257.2h1.3M90 261.3h1.3M88.7 264.5h1.3M90.5 275.4h1.3M89.8 212.8h1.3M71 261.6h1.3M65.2 270.7h1.3M90.5 282.6h1.3M90.7 284.6h1.3M72.2 283.8h1.3M83 284.9h1.3M89.3 261.2h1.3M71.4 256h1.3M82.4 254.4h1.3M89.6 299.4h1.3M81.4 246.3h1.3M85.7 267.3h1.3M89.9 270h1.3M88.8 239.8h1.3M88.5 240.3h1.3M86.1 233h1.3M81.8 260.7h1.3M87.5 242.9h1.3M72.9 253.5h1.3M68.9 276h1.3M83.9 267.8h1.3M86 251.8h1.3M89.8 249.3h1.3M88.1 232.3h1.3M72.1 255h1.3M82.4 228.1h1.3M88 273.2h1.3M79.1 247.2h1.3M87.2 242.5h1.3M79.3 271h1.3M75.9 277.7h1.3M86.6 252.6h1.3M83.5 238.5h1.3M85 273.8h1.3M81.3 269.8h1.3M86.2 301.3h1.3M85.9 283.6h1.3M88.1 251.5h1.3M87.9 262.7h1.3M77.1 259.2h1.3M81.3 235.8h1.3M59.5 264.3h1.3M82.3 272.2h1.3M65 235.8h1.3M89.1 251.3h1.3M77.2 258.7h1.3M86.3 275.7h1.3M86.7 290h1.3M88.3 286.4h1.3M81.4 282.5h1.3M50.3 257.8h1.3M85.5 245.5h1.3M86.9 292.2h1.3M82 247.5h1.3M89.6 244.5h1.3M88 268.5h1.3M84.2 257.9h1.3M87.2 286.7h1.3M90.1 284.6h1.3M86.7 246.4h1.3M81.4 245.2h1.3M85.6 266.4h1.3M80.2 248.8h1.3M56.8 277.6h1.3M77.8 250.6h1.3M85.5 237.8h1.3M88.4 280.9h1.3M63.1 257.4h1.3M89.3 275h1.3M90 254.5h1.3M90.1 293.2h1.3M89.3 280.5h1.3M83.3 275.5h1.3M81.6 279.9h1.3M86.7 240.5h1.3M87.8 289.8h1.3M87 241h1.3M83.3 256.3h1.3M57.1 275.4h1.3M90.7 259.5h1.3M70.9 264.3h1.3M87 302.1h1.3M86.8 265.7h1.3M86.9 253.4h1.3M80.9 253.5h1.3M88.6 294.1h1.3M77.9 239.3h1.3M52.8 254.4h1.3M90.4 274.6h1.3M83.9 295.7h1.3M80.7 255.5h1.3M71.2 292.3h1.3M86.6 273.9h1.3M88 281.6h1.3M76.4 273.2h1.3M87.7 239.3h1.3M59.6 252.7h1.3M89.4 262.2h1.3M83.1 249.4h1.3M86.6 265.9h1.3M79 291.6h1.3M87.4 287.1h1.3M90.1 271.5h1.3M88.3 284.1h1.3M89.6 238.9h1.3M86.2 247.7h1.3M83.1 266.8h1.3M74.2 256.7h1.3M68.5 242.3h1.3M76.9 284h1.3M82.4 266.6h1.3M81.4 237.2h1.3M72 252.2h1.3M59 258.1h1.3M87.6 243.7h1.3M87.7 279.5h1.3M85.8 280.8h1.3M58.4 255.1h1.3M85.7 297.4h1.3M77 267.1h1.3M87.5 269.8h1.3M84.6 296.6h1.3M88.2 278.3h1.3M89.3 277.5h1.3M77 272.4h1.3M82.8 287.5h1.3M88 253.8h1.3M89.6 260h1.3M85.2 261.2h1.3M90.6 289.9h1.3M88 244.3h1.3M87.9 254h1.3M70.6 249.5h1.3M86 232.7h1.3M90.7 274.3h1.3M73.2 249h1.3M87.4 249.7h1.3M90.6 265.3h1.3M87.7 291.8h1.3M90.2 283.4h1.3M88.3 252.7h1.3M84.8 299.9h1.3M81 257h1.3M82.8 257.1h1.3M75.2 291.4h1.3M83.3 280.5h1.3M83.7 299h1.3M90.5 289.1h1.3M63.6 256.8h1.3M79 267.2h1.3M86.5 280.8h1.3M85.6 251.8h1.3M82.1 287.6h1.3M87 252.3h1.3M85 299.3h1.3M86.1 281.5h1.3M78 248h1.3M85.8 277.7h1.3M73.2 253.3h1.3M70.1 239.3h1.3M75.9 278.3h1.3M64.8 230.7h1.3M79.2 278.1h1.3M81.3 275h1.3M79.5 250.6h1.3M79.9 252.6h1.3M81.2 282.8h1.3M79.5 252h1.3M85.9 285.6h1.3M75.4 280.6h1.3M80.1 246.8h1.3M87.7 246.2h1.3M89.7 261.8h1.3M89.4 236.4h1.3M85.5 291h1.3M75.4 259.1h1.3M90.8 275.9h1.3M86 265.4h1.3M89.3 300.4h1.3M82.8 234.8h1.3M90.5 241h1.3M90.7 256.1h1.3M81.5 245.9h1.3M88.1 291h1.3M80.9 265.7h1.3M89.5 258.5h1.3M79.2 262.9h1.3M73.1 279h1.3M90.4 290.9h1.3M82.8 267.9h1.3M87.3 287.4h1.3M90.7 257.8h1.3M90.6 232.5h1.3M85.3 279.2h1.3M87.7 267.5h1.3M61 276.3h1.3M83.1 272.8h1.3M89.8 294.8h1.3M78.1 263.2h1.3M77.5 265.6h1.3M85.2 291.7h1.3M86.7 276.7h1.3M88.4 266h1.3M83.8 297.2h1.3M90.7 247.6h1.3M84.8 250.4h1.3M89.3 232.9h1.3M85.9 262h1.3M84.4 296.6h1.3M88.7 247.8h1.3M79.3 272.9h1.3M88.4 255h1.3M63.4 248.3h1.3M82.3 249h1.3M87.8 299.7h1.3M61.6 264.1h1.3M78.1 261.5h1.3M77.5 238.5h1.3M85.2 273.4h1.3M88.3 261.6h1.3M89.3 296.7h1.3M86.8 293.4h1.3M85.7 287.3h1.3M83.9 264.1h1.3M83.6 266.6h1.3M90.4 243.6h1.3M88.3 239.8h1.3M88.4 282.1h1.3M87.1 280.1h1.3M90.3 260h1.3M87.4 299h1.3M73.5 293.7h1.3M79.9 292.4h1.3M85 268.7h1.3M89.5 266.3h1.3M67.1 279.1h1.3M80.9 250.2h1.3M78.2 256.5h1.3M90.2 290.7h1.3M84.7 269h1.3M76.4 254.4h1.3M90.3 263.5h1.3M82.4 285.8h1.3M71 272.7h1.3M72.6 284h1.3M72.4 254h1.3M90.8 243.9h1.3M87.3 267.6h1.3M84.8 288h1.3M80.3 292.5h1.3M87.9 285.1h1.3M86.8 245.3h1.3M74.6 262.9h1.3M85.9 271.3h1.3M90.8 235.4h1.3M84.3 261.3h1.3M77.3 252.2h1.3M90.1 283.2h1.3M90 257.7h1.3M88 278.3h1.3M88 287.1h1.3M85.5 252.4h1.3M81.7 300h1.3M85.7 257.9h1.3M79.4 280.4h1.3M84.2 254.1h1.3M77.8 274.9h1.3M76.2 250.8h1.3M88.4 283.6h1.3M89 268.3h1.3M90 263.9h1.3M87.5 275.1h1.3M73.7 252.9h1.3M81.6 288.8h1.3M65.8 243.9h1.3M90.2 288h1.3M85.2 284.7h1.3M54.6 264.5h1.3M90.1 236.5h1.3M88.2 230.3h1.3M90.6 275h1.3M90.4 276.4h1.3M86.1 245.6h1.3M82.4 249.5h1.3M88.4 308.2h1.3M73.3 247.3h1.3M78.2 251.8h1.3M89.6 257.5h1.3M90.4 279.2h1.3M78.8 247.7h1.3M75.9 258h1.3M84.6 259.8h1.3M87.5 268.7h1.3M54 249.5h1.3M83.2 272.1h1.3M83.6 265.7h1.3M82.7 296.3h1.3M89.8 249.4h1.3M77.2 250.3h1.3M84.5 278.2h1.3M87.1 259.7h1.3M76.8 276.9h1.3M84.5 257.2h1.3M84.6 267h1.3M62.9 269.1h1.3M87.1 243.1h1.3M85.4 257h1.3M77.2 236.3h1.3M78.8 248.8h1.3M89 230.9h1.3M78.3 288.6h1.3M90.8 301.4h1.3M90.7 284.1h1.3M89.6 247.4h1.3M88.4 287h1.3M90.1 270.4h1.3M73.5 239.2h1.3M67.8 253.1h1.3M89.1 286.1h1.3M82.3 287.4h1.3M86.2 269.4h1.3M64.7 255.7h1.3M86.3 239.7h1.3M88.9 284.2h1.3M69 259.4h1.3M66.6 276.1h1.3M87.3 271.1h1.3M90.2 282h1.3M62.4 256h1.3M90.9 281.3h1.3M87.5 265.6h1.3M90.4 266.9h1.3M81.3 232.4h1.3M69.3 261.3h1.3M89.2 254.5h1.3M80.7 285.1h1.3M85.4 255.3h1.3M89.8 281.5h1.3M87 257.8h1.3M89.1 269.7h1.3M84.6 295.3h1.3M88.5 270.6h1.3M89.5 278.4h1.3M87 276.7h1.3M85.9 252.1h1.3M85.3 267.2h1.3M90.6 254.2h1.3M83 280.5h1.3M90.5 304h1.3M76.7 290.4h1.3M84.1 292.2h1.3M80.1 261.9h1.3M74.1 247.3h1.3M83.7 280.2h1.3M86.9 278.9h1.3M75.7 266.3h1.3M80.2 258.7h1.3M89.2 234.9h1.3M88.3 285.9h1.3M86.7 269h1.3M77.1 301.6h1.3M87.1 283.2h1.3M88.2 269.9h1.3M86.2 257.7h1.3M87.5 266.8h1.3M87.6 248h1.3M75.7 271.3h1.3M87.5 244.1h1.3M89.7 284.8h1.3M74.4 280.5h1.3M90.2 235h1.3M86.1 277.2h1.3M86.3 283.7h1.3M79.1 278.9h1.3M82.1 285.4h1.3M83.5 244.3h1.3M79.9 249.4h1.3M75.7 273.3h1.3M81.4 263.7h1.3M87.2 247.2h1.3M89.2 285.9h1.3M78.5 258.6h1.3M85.8 300.9h1.3M81.3 247.3h1.3M89.7 300.5h1.3M89.4 238.6h1.3M90.5 295.1h1.3M87.5 293.8h1.3M89.4 251h1.3M78.2 247.8h1.3M89 269h1.3M90.2 297.7h1.3M87.9 280h1.3M87.2 245.6h1.3M85.1 302.4h1.3M90.5 284.1h1.3M78.7 252.3h1.3M85.5 258.2h1.3M87.5 286.5h1.3M87.8 288.8h1.3M66.3 256.5h1.3M89.9 285.4h1.3M89.7 272h1.3M84.1 276.7h1.3M89.6 263.9h1.3M78.3 253.1h1.3M61.8 250.4h1.3M63.4 269.5h1.3M88.7 257.9h1.3M77.5 278h1.3M88.6 267.9h1.3M90 265.8h1.3M90.8 287.2h1.3M90.2 276.1h1.3M85.4 238h1.3M80.9 276.1h1.3M90.1 305.5h1.3M88.8 287.8h1.3M69.4 295.4h1.3M79.3 268.8h1.3M71.1 277.6h1.3M83.3 263.7h1.3M80.2 260.1h1.3M90.6 252.8h1.3M87.6 268.3h1.3M90.4 285.7h1.3M88.9 281.5h1.3M69.2 260.7h1.3M86.4 260.4h1.3M76.4 280.3h1.3M89.6 292.8h1.3M85.5 273h1.3M83.9 240.3h1.3M82.3 227.8h1.3M76.1 281.1h1.3M88.7 280.3h1.3M88.9 307.9h1.3M84.9 270.1h1.3M90.9 265.2h1.3M90.1 253.4h1.3M84.6 264.1h1.3M87.1 276.7h1.3M86.3 268.6h1.3M86.4 297.5h1.3M72.1 250.2h1.3M81.6 269.2h1.3M84.7 300.4h1.3M85.8 259.9h1.3M81 258.9h1.3M80.5 252.7h1.3M85.4 262.8h1.3M89.5 245.3h1.3M86.8 279.2h1.3M87 256.4h1.3M89.3 230h1.3M88.9 286.6h1.3M90.7 276.7h1.3M87.5 261.7h1.3M56.7 250.5h1.3M86.1 260.6h1.3M73.9 260.7h1.3M87.3 274.7h1.3M77.7 263.2h1.3M88.2 245.1h1.3M90.7 270.5h1.3M90.4 251.3h1.3M90.4 272.4h1.3M69.9 242.5h1.3M85.9 293.8h1.3M89.7 284h1.3M81.6 264.6h1.3M74.8 277.1h1.3M88.4 287h1.3M86.7 260.3h1.3M78.3 267.9h1.3M87.9 257.7h1.3M88.7 256.2h1.3M90 292.2h1.3M86.7 247.9h1.3M63.3 228.5h1.3M79.4 261.9h1.3M84.2 239h1.3M79.6 270.1h1.3M81.6 275.9h1.3M85.1 254.9h1.3M88 274.6h1.3M90.4 267.2h1.3M80.9 270h1.3M78.6 272.1h1.3M87.6 250.1h1.3M86.8 248.4h1.3M75.3 267.1h1.3M85.8 271.5h1.3M60.2 258.2h1.3M89.7 265.4h1.3M90.2 245.6h1.3M80.2 297.4h1.3M83.9 297.1h1.3M84.5 259h1.3M84.1 268.1h1.3M89.7 251.7h1.3M89.2 262.1h1.3M80.4 250h1.3M88.6 263h1.3M87.7 287.7h1.3M88.3 250.5h1.3M90 287.7h1.3M86.3 248.3h1.3M90.1 274.2h1.3M90.5 235.3h1.3M84.1 274.4h1.3M81.4 294.3h1.3M75.2 249.1h1.3M69.4 240.3h1.3M84.8 291.2h1.3M46.6 202.3h1.3M63.4 212h1.3" stroke="#1a9464" stroke-width="1.3" fill="none" stroke-opacity="0.72"/>
<path d="M88 306.4h1.3M73.5 244.2h1.3M79.5 300.8h1.3M83.6 281.9h1.3M83.6 252.5h1.3M90 307.1h1.3M88 298.8h1.3M87.5 276.7h1.3M82.6 273.5h1.3M84.6 275.8h1.3M79.1 246.1h1.3M88.4 266.1h1.3M83.4 264.7h1.3M80.2 237.8h1.3M89.8 291h1.3M89.9 302.6h1.3M89.6 261.4h1.3M83.8 284.1h1.3M84.1 257.5h1.3M78.9 297.8h1.3M88.4 263.6h1.3M90.8 272.8h1.3M90.5 281h1.3M85.6 285.1h1.3M89.1 277.1h1.3M42.9 245.4h1.3M81.3 249.6h1.3M81.3 242.7h1.3M89.7 259.5h1.3M88.2 244.9h1.3M86.8 273.7h1.3M84.3 241.8h1.3M84 269.2h1.3M89.5 299.4h1.3M89.1 261.8h1.3M84.4 262.7h1.3M83.4 280.3h1.3M87.3 306.1h1.3M84.3 266.8h1.3M88.7 292.3h1.3M73.7 247h1.3M70.6 246.9h1.3M81 241.6h1.3M81.4 282.5h1.3M78.8 260.9h1.3M76.5 249.2h1.3M83.2 257.5h1.3M84.7 241.2h1.3M85.8 290.8h1.3M68.8 268.9h1.3M90.3 286.4h1.3M64.1 261.2h1.3M90.5 255h1.3M79.4 249.8h1.3M89.5 254.4h1.3M79.9 288.6h1.3M88.5 283h1.3M74.2 256.8h1.3M87.9 255h1.3M86 256.1h1.3M75.2 261.9h1.3M87.3 258.1h1.3M88.8 290.5h1.3M76.3 250.3h1.3M89.2 291.6h1.3M81.2 259.5h1.3M90.4 281h1.3M80.3 265.2h1.3M89.9 254.5h1.3M86.9 289.2h1.3M89.9 252.6h1.3M84 274.4h1.3M79 247.7h1.3M90.5 291.6h1.3M79.8 286.5h1.3M88.7 306.3h1.3M90 303.5h1.3M83 247.9h1.3M89.2 295.7h1.3M83.9 258.6h1.3M86 278.8h1.3M88 294.2h1.3M83.2 279.2h1.3M75.3 281.6h1.3M85.6 267.5h1.3M75 267h1.3M70.9 268.4h1.3M90.6 245.6h1.3M90.2 273.8h1.3M88.5 239.7h1.3M79.7 257h1.3M90.9 252.5h1.3M75.1 289.6h1.3M50.4 259.9h1.3M87.6 292.5h1.3M90.7 260.4h1.3M87.6 245.7h1.3M89.1 263h1.3M82.1 291.3h1.3M83.6 260.4h1.3M84.5 286.8h1.3M80.9 285.9h1.3M77.9 268.1h1.3M68.5 279.8h1.3M85.1 256.2h1.3M90.7 280.3h1.3M90.7 292.5h1.3M89.4 229.6h1.3M82.1 290.8h1.3M90.5 301.3h1.3M90.6 252.8h1.3M90.7 298.5h1.3M79.3 252.9h1.3M83.1 284.9h1.3M88.5 296.6h1.3M89.8 277.6h1.3M84 231.8h1.3M82.8 233.6h1.3M89.4 243h1.3M73.3 267.4h1.3M88.5 262.5h1.3M87.1 245.3h1.3M85 275.8h1.3M85 291h1.3M78.3 301.8h1.3M83.5 235.5h1.3M80.3 269.3h1.3M87 259.8h1.3M83.5 269.3h1.3M76.4 279.3h1.3M89.5 270.1h1.3M67 281h1.3M81.4 268.9h1.3M88.4 228.8h1.3M86.9 262.1h1.3M77.9 277h1.3M85.7 264.8h1.3M81.3 268.3h1.3M82.2 285.5h1.3M89.6 246.4h1.3M72.5 257.8h1.3M88.3 281.2h1.3M87.3 290h1.3M53.8 266h1.3M86.7 263h1.3M90.7 258.6h1.3M87.5 282.7h1.3M90.4 308.4h1.3M85.1 298.1h1.3M88.9 298.8h1.3M89.6 290.1h1.3M79.9 238.8h1.3M72.7 242h1.3M71.2 245.7h1.3M89.2 294.5h1.3M90.7 280.3h1.3M53.7 254.3h1.3M80.8 256.3h1.3M84.8 259.1h1.3M81.6 291.7h1.3M85.8 260.5h1.3M80.1 289.2h1.3M88.6 263.8h1.3M83.6 266.9h1.3M88.8 241.1h1.3M74.1 258.6h1.3M87.6 252.6h1.3M77.1 243.4h1.3M85.4 285.5h1.3M87.9 288.2h1.3M88.9 256.1h1.3M65.8 279h1.3M88.7 251.1h1.3M88.3 289.5h1.3M90.5 265.7h1.3M88.6 298.4h1.3M73.5 263.7h1.3M82.8 271.2h1.3M88.9 294h1.3M89.6 248.9h1.3M85.2 249.1h1.3M82.7 263.2h1.3M88.9 244.9h1.3M82.1 283.9h1.3M85 256.2h1.3M85.3 249.8h1.3M82.1 252.4h1.3M68.3 267h1.3M67.4 270h1.3M88.5 255.5h1.3M90.7 292.7h1.3M86.6 283.9h1.3M86.2 286.2h1.3M64.9 271.4h1.3M63.7 258.8h1.3M76.9 245.9h1.3M86.3 265.9h1.3M90.9 278.5h1.3M60.9 238.7h1.3M64.4 265h1.3M88.7 288.5h1.3M84.7 268.6h1.3M71.7 271.4h1.3M88.3 247.2h1.3M74.8 248h1.3M90.8 249h1.3M81.4 257.2h1.3M71.7 251.5h1.3M79.5 237h1.3M90 260.8h1.3M88.9 268.9h1.3M87.2 246.5h1.3M90 278.5h1.3M89.7 285.8h1.3M79.8 265.5h1.3M87.4 294.1h1.3M48.3 242.2h1.3M79.9 269.6h1.3M90.4 276.6h1.3M73.8 271.4h1.3M88.4 247.2h1.3M81.6 265.4h1.3M83.9 288.8h1.3M80.6 271.7h1.3M90.7 286.7h1.3M86.6 251.9h1.3M89.5 253.7h1.3M90.9 276.2h1.3M88.7 301.8h1.3M82.2 273.9h1.3M63.5 286.3h1.3M77.1 264.1h1.3M85.4 282.2h1.3M81.9 274.3h1.3M87.6 302.4h1.3M90.2 288.1h1.3M78.4 277.6h1.3M85.3 286.4h1.3M89 281.5h1.3M85.7 237.9h1.3M87.8 267.4h1.3M85.5 255.5h1.3M84 242.1h1.3M85.8 280.2h1.3M80.2 257.4h1.3M72.4 250.9h1.3M88.7 273.8h1.3M66.9 255.1h1.3M90.5 296.3h1.3M87.1 278.6h1.3M87.4 291.7h1.3M85.7 274.2h1.3M77.8 280.7h1.3M67.4 288.5h1.3M87.9 267.8h1.3M88.3 247.1h1.3M88.7 308.6h1.3M89 255.8h1.3M87.6 241.1h1.3M78.6 275h1.3M82.5 298.7h1.3M87.1 261.5h1.3M89.6 269.7h1.3M90.9 280.4h1.3M77.8 287h1.3M75.6 263.4h1.3M90.4 216.2h1.3M86.1 288.9h1.3M78.8 289.2h1.3M88.1 249.7h1.3M90.6 288.7h1.3M86.1 268.8h1.3M83.4 254.2h1.3M72 247.1h1.3M71 262.9h1.3M81.8 233.1h1.3M90.1 252.3h1.3M70 286.4h1.3M90.9 278.3h1.3M89.9 288.7h1.3M76.8 258.4h1.3M79.2 280.7h1.3M83.6 282h1.3M89.6 237.5h1.3M90.4 291.9h1.3M81.2 271h1.3M82.1 275.9h1.3M81.5 256.2h1.3M87.3 248.4h1.3M89.2 290.8h1.3M89.9 303.8h1.3M90.2 259.7h1.3M89.2 293.3h1.3M76.8 308.2h1.3M68.3 285.7h1.3M85.6 299.7h1.3M89.8 250.2h1.3M83.7 260.9h1.3M83.2 258.1h1.3M87.8 258.2h1.3M58.5 245.6h1.3M80.2 268.3h1.3M86.9 255.7h1.3M84.6 238.2h1.3M90.8 271.3h1.3M74.9 257.1h1.3M87.6 302.6h1.3M87.9 276.7h1.3M78.3 269.7h1.3M67.5 259.2h1.3M85.3 238h1.3M83.9 247h1.3M88.4 263h1.3M89.6 259.9h1.3M90.6 264.6h1.3M87.2 282.9h1.3M85 267.7h1.3M73.9 230.9h1.3M84.1 263.4h1.3M74.9 278.2h1.3M77.3 271.7h1.3M86.7 283.9h1.3M76.6 263.4h1.3M86.1 260.2h1.3M70.6 278.2h1.3M90.6 304.1h1.3M90.5 286.7h1.3M87.8 268.9h1.3M60 254.9h1.3M56.8 273.2h1.3M87.5 275.5h1.3M89.4 266.1h1.3M89.6 290.3h1.3M82.3 298.4h1.3M90.6 286h1.3M71.9 248.3h1.3M84.2 280.7h1.3M73.5 281h1.3M88 232.4h1.3M80.6 242.6h1.3M83.2 292h1.3M86.1 250h1.3M85.2 281.3h1.3M86.4 258h1.3M87.4 238.2h1.3M86.2 251.3h1.3M85.2 255.1h1.3M89 244.4h1.3M87.1 250.9h1.3M84 213.4h1.3M78.3 279.7h1.3M90.7 259.7h1.3M82.9 258.2h1.3M89.9 249.4h1.3M85.9 241.3h1.3M84 250.6h1.3M90.8 287.6h1.3M90.9 293.4h1.3M75 274.2h1.3M81.5 297.2h1.3M82.4 278.1h1.3M83.8 266.6h1.3M82.4 282.7h1.3M84.9 252.3h1.3M89.9 244.8h1.3M45.1 242.9h1.3M78.9 256.1h1.3M83.7 278.1h1.3M81.9 285.8h1.3M88.6 251.9h1.3M83.9 257.1h1.3M89.5 296.3h1.3M88.8 300.8h1.3M81.2 277.7h1.3M73.7 245.6h1.3M89.5 283.1h1.3M88.4 286.9h1.3M88.5 303.8h1.3M90.2 283.7h1.3M86.9 257.2h1.3M65.7 246.7h1.3M88.5 271.2h1.3M69.3 243.2h1.3M89.9 248h1.3M87.9 293.3h1.3M89.6 263.8h1.3M83.9 256.5h1.3M80.2 267.5h1.3M88.7 263.4h1.3M89.8 282.5h1.3M81.5 262.5h1.3M74.1 254.8h1.3M84.8 245.1h1.3M88.2 292.7h1.3M69.5 282h1.3M78.8 249.4h1.3M81.7 254.1h1.3M27.6 252.6h1.3M69.9 251.4h1.3M83.1 273.3h1.3M90.8 264h1.3M90.6 250.5h1.3M89.4 270.7h1.3M80.3 258.5h1.3M87.4 287.1h1.3M85.4 296h1.3M71.7 271.2h1.3M88.1 277.3h1.3M84.3 262.8h1.3M82.1 280h1.3M88 285.2h1.3M89.1 256.3h1.3M73.6 277.3h1.3M90.3 291.3h1.3M88.1 297.8h1.3M86.3 294.5h1.3M85.7 263.3h1.3M83.9 256.3h1.3M57.3 232.2h1.3M88.8 297.4h1.3M86.8 254.5h1.3M74.1 254.2h1.3M73 280.2h1.3M74.9 270.3h1.3M84.3 282.9h1.3M87.1 264.1h1.3M87.3 272.7h1.3M78 243.4h1.3M88.7 294.7h1.3M90 268.6h1.3M83.7 299h1.3M86.5 256.4h1.3M80.6 254.4h1.3M83.2 280.6h1.3M87 263.8h1.3M68.9 254.2h1.3M82.1 240.7h1.3M83.7 236.1h1.3M88.1 276.8h1.3M63.4 243h1.3M87.6 258.8h1.3M90.9 267.7h1.3M73.6 240.3h1.3M76.9 253.6h1.3M83.8 256.5h1.3M82.8 269.3h1.3M85.8 250h1.3M90.8 283.9h1.3M78.8 247.3h1.3M69.6 266h1.3M89.9 257.1h1.3M88.9 250h1.3M89.3 263.9h1.3M89.1 266.7h1.3M79.1 265.5h1.3M82.4 256.3h1.3M84.7 250.5h1.3M85.4 272.4h1.3M89.6 261.2h1.3M83.8 231.8h1.3M82.5 243.4h1.3M80.7 238.5h1.3M76.7 240.9h1.3M71.6 279.7h1.3M69.4 269.1h1.3M85.4 276h1.3M86.1 258.5h1.3M80.2 255h1.3M89 251.4h1.3M70.5 257.3h1.3M90.5 253.7h1.3M85.5 272h1.3M80.2 264.6h1.3M83.8 239h1.3M59.8 255.9h1.3M82.5 238h1.3M89.9 236.2h1.3M90.6 299.6h1.3M90.9 284.2h1.3M88.7 245.7h1.3M84.4 257.5h1.3M88.8 281.8h1.3M87.8 248.2h1.3M82.4 262.8h1.3M84.3 284.1h1.3M70.3 263.6h1.3M86.6 293.7h1.3M90.1 260.9h1.3M90.8 287h1.3M69.7 262.2h1.3M88.2 248.6h1.3M90.5 245.6h1.3M85.6 286h1.3M66.5 275.2h1.3M88.8 255.4h1.3M77.2 280.3h1.3M80.6 275.8h1.3M85.6 247.2h1.3M88.7 267.9h1.3M89.2 247.9h1.3M87.7 286.8h1.3M79.3 258.4h1.3M79.8 281.7h1.3M59.9 292.8h1.3M87.8 231.9h1.3M82.3 275.5h1.3M85.3 286.1h1.3M65.8 279.2h1.3M88 262.6h1.3M88.6 281.2h1.3M74.8 232.6h1.3M78.5 271.4h1.3M78.2 265.2h1.3M89.8 295.3h1.3M85.3 264h1.3M84 271h1.3M89.5 246.4h1.3M80.1 249h1.3M87.5 284.8h1.3M52.5 259h1.3M84.4 242.9h1.3M90.8 282.1h1.3M86 236.2h1.3M85.2 259.6h1.3M90.5 300.2h1.3M87.5 282.8h1.3M86.6 282.6h1.3M89.8 303h1.3M86.2 303.6h1.3M90.8 258.1h1.3M68.8 272.6h1.3M46.6 208.5h1.3M54.4 215h1.3" stroke="#1a9464" stroke-width="1.3" fill="none" stroke-opacity="0.72"/>
<path d="M80.7 280.6h1.3M89.9 255.2h1.3M82.2 249h1.3M85.8 272.4h1.3M89.6 280.5h1.3M89 243.6h1.3M86.9 258.7h1.3M84.3 264.2h1.3M70.6 282.4h1.3M83.9 246.9h1.3M86.6 286.4h1.3M64.1 249.6h1.3M84.2 259.1h1.3M86.4 236.5h1.3M87.9 297.2h1.3M82.3 259.9h1.3M77.3 275.9h1.3M88.1 278.3h1.3M87.3 241h1.3M83.9 266.5h1.3M85.1 249.5h1.3M88.9 274.3h1.3M72.7 251.2h1.3M42.1 264.6h1.3M69.7 252.2h1.3M86.6 260.7h1.3M84.1 284.2h1.3M68.4 249h1.3M85.2 252.5h1.3M82.5 251.6h1.3M90.9 251.4h1.3M76.7 252.4h1.3M68.3 266h1.3M90.5 265.5h1.3M70.8 252.4h1.3M48.4 257h1.3M87.8 306.4h1.3M90.4 283.4h1.3M89.1 258.9h1.3M81.1 263.4h1.3M83 287.5h1.3M87.2 273.9h1.3M86.4 245.7h1.3M80.5 275.4h1.3M84.8 270.4h1.3M88.7 252.3h1.3M87.9 261.7h1.3M72.3 298.4h1.3M68.6 276.6h1.3M88.4 250.4h1.3M72.1 256.3h1.3M83 250h1.3M61.4 301h1.3M89.4 287.8h1.3M90.3 248.6h1.3M77.5 286.2h1.3M90.4 273.2h1.3M88.3 287h1.3M77.6 291.7h1.3M68.9 242.9h1.3M81.4 250.5h1.3M83.4 293.5h1.3M75.1 211.2h1.3M86.9 260.3h1.3M88.5 308.5h1.3M77.7 291.3h1.3M82 296.4h1.3M83.7 282.4h1.3M86.5 283.4h1.3M88.9 285.8h1.3M88.4 242.8h1.3M84.1 271.4h1.3M76 265.3h1.3M79 268.5h1.3M76.8 270h1.3M89.8 284.2h1.3M84.1 272.9h1.3M83.5 284.3h1.3M78.8 260.8h1.3M89.1 270.2h1.3M90.5 270.1h1.3M76.6 245.3h1.3M67.1 253.4h1.3M87.7 254.7h1.3M86.4 244.3h1.3M89.3 246.3h1.3M90.3 256.1h1.3M89.9 270.8h1.3M89.9 252.9h1.3M84.4 291.2h1.3M88.9 256.2h1.3M82.6 250.9h1.3M90.1 271.9h1.3M88.5 270.9h1.3M88.7 291.9h1.3M90.7 300.1h1.3M88.9 240.1h1.3M77.8 250.5h1.3M89.9 266.1h1.3M81.3 249.4h1.3M74.9 254.3h1.3M90.4 277.6h1.3M89.4 254.6h1.3M84.1 257h1.3M85.2 248.2h1.3M73 251.7h1.3M70.8 255.5h1.3M80.8 276.2h1.3M33.1 254.7h1.3M78.6 261.4h1.3M85.3 234.6h1.3M90.8 248.5h1.3M75.2 286.3h1.3M80.9 246.4h1.3M78.5 244.6h1.3M82.9 271.1h1.3M75.6 261.1h1.3M80.7 245.1h1.3M74.1 266.7h1.3M90 255.5h1.3M87.2 275.4h1.3M78.4 241.6h1.3M81.1 262.8h1.3M78.6 253h1.3M83.4 266.5h1.3M86.2 236.5h1.3M90.5 266.2h1.3M77.8 273.1h1.3M84.9 296.4h1.3M83.1 266.2h1.3M84.7 253.9h1.3M73.7 270.4h1.3M89.1 301.1h1.3M89.1 264.6h1.3M78.5 239.6h1.3M90.1 277.1h1.3M77.2 282.9h1.3M89.6 286.8h1.3M89.4 289.8h1.3M87.9 273.5h1.3M87.9 259.4h1.3M81.8 276.1h1.3M86.9 259.9h1.3M80.5 270.8h1.3M65.8 250.5h1.3M89.4 247.5h1.3M60.5 259.6h1.3M74.4 267.4h1.3M90.3 250.1h1.3M88 254.6h1.3M73.5 250.5h1.3M88.9 270.9h1.3M68.6 282.2h1.3M78.7 250.5h1.3M90.8 271.4h1.3M79.8 279.9h1.3M90.1 263.4h1.3M86.5 286.5h1.3M89.5 278.5h1.3M86.8 277.5h1.3M71.3 267.3h1.3M89.7 278.5h1.3M85.8 275.4h1.3M83 290.3h1.3M84.8 265h1.3M89.9 269.8h1.3M90.5 291.9h1.3M86.5 275h1.3M87.1 250.5h1.3M81.3 249.5h1.3M86.1 256h1.3M80.3 244.7h1.3M85.8 266.4h1.3M80.4 287.4h1.3M89.2 284h1.3M60.1 263.7h1.3M60.1 254.3h1.3M86.9 254.9h1.3M81.5 255.6h1.3M86.9 251.7h1.3M84.5 255.3h1.3M87.2 299h1.3M84.4 246.7h1.3M58.6 254.5h1.3M84.4 233.2h1.3M87.4 292.2h1.3M80 246.5h1.3M89.6 293.1h1.3M90.1 245.7h1.3M85 266.1h1.3M86.2 244.9h1.3M83.3 244.5h1.3M62.9 278.9h1.3M81.4 269.9h1.3M78.5 261.9h1.3M81.2 274.8h1.3M88.3 297.7h1.3M88.6 266h1.3M84.2 256.2h1.3M65.3 251.9h1.3M57.7 254.2h1.3M84.7 270.5h1.3M88.2 301.1h1.3M85 251.2h1.3M82.5 288.3h1.3M88.3 266.6h1.3M86.1 255.2h1.3M83.7 281.6h1.3M89.4 271.6h1.3M82.1 274.1h1.3M86.7 244.3h1.3M84.7 297.8h1.3M76.1 262.4h1.3M89.2 281.8h1.3M76.9 262.2h1.3M61.1 217.8h1.3M83.7 271.6h1.3M82.2 264.4h1.3M69 252.3h1.3M85.4 272.3h1.3M85.5 234.4h1.3M84.3 247.2h1.3M90.9 291h1.3M77.8 278.7h1.3M89.7 243h1.3M86.6 283.9h1.3M84.8 284.3h1.3M69.4 239.3h1.3M90.5 280.4h1.3M86.2 245.1h1.3M83.9 245.3h1.3M80.4 258.1h1.3M86.9 299h1.3M88.8 266.5h1.3M88.3 277.9h1.3M87.9 263.2h1.3M80.9 262.8h1.3M81.4 284.8h1.3M89.8 256.7h1.3M83.4 248.2h1.3M86.7 260h1.3M84.5 253.4h1.3M82.5 287.5h1.3M88.6 301.7h1.3M77.8 270.8h1.3M77.4 268.6h1.3M84.9 274h1.3M81.8 299.6h1.3M50 254.2h1.3M76.5 264.3h1.3M88.6 287h1.3M80.7 271.8h1.3M77.9 274.9h1.3M82.2 277.1h1.3M88.4 291.3h1.3M90.2 285.5h1.3M89.6 272.2h1.3M79.8 277h1.3M80.3 290.7h1.3M89.3 213.1h1.3M89.9 279.9h1.3M82.6 241h1.3M53.5 252.6h1.3M79.9 277.3h1.3M85.6 292.2h1.3M87.3 284.4h1.3M86.9 241.5h1.3M82.1 261.3h1.3M90.7 282.6h1.3M78.2 270.6h1.3M90.4 295.5h1.3M77.1 267.3h1.3M72.3 292.4h1.3M83.8 271.3h1.3M83 275.3h1.3M85.3 259.3h1.3M86.8 305.1h1.3M87.6 262.2h1.3M88 259.4h1.3M87.2 288.9h1.3M90.4 299.7h1.3M85.3 287.5h1.3M81.4 291.5h1.3M75.8 255.6h1.3M81 231.6h1.3M82.5 257.4h1.3M88.1 278h1.3M89.9 278.1h1.3M84.6 264.5h1.3M87.5 270.7h1.3M86.4 255.7h1.3M72.8 257.7h1.3M78.9 285.2h1.3M88.4 236.9h1.3M89.9 253.2h1.3M88.3 272h1.3M87.5 259.4h1.3M84.4 278.7h1.3M89.2 262.4h1.3M84.3 243.5h1.3M84.3 306.8h1.3M82.2 247.1h1.3M81.9 266.6h1.3M86.5 294.5h1.3M87.9 218.7h1.3M79 248.9h1.3M85.9 280.1h1.3M87.9 251.5h1.3M82.9 256.4h1.3M82 268.1h1.3M87.1 279.8h1.3M84 270.9h1.3M57.4 267h1.3M89.9 285.5h1.3M75.5 271.8h1.3M86.5 252h1.3M83.8 260.7h1.3M76.5 287.8h1.3M90 286.2h1.3M86.4 252.4h1.3M84.2 271.3h1.3M61.7 246.1h1.3M72 244.1h1.3M82.7 259.2h1.3M89.8 287.3h1.3M82.5 265.2h1.3M78.1 249h1.3M74.9 288.8h1.3M77 271.6h1.3M89.9 272.5h1.3M88.1 249.1h1.3M85.3 269.3h1.3M80.1 259.8h1.3M72.7 269.1h1.3M87.8 265.1h1.3M86.7 293.3h1.3M86.6 268.6h1.3M65.9 256.2h1.3M90.8 249.8h1.3M79.6 297.4h1.3M86.7 293.5h1.3M82.7 257.6h1.3M89.7 263.2h1.3M89.7 253.7h1.3M69.2 260.3h1.3M85.2 262.1h1.3M85.9 251.2h1.3M70.1 243h1.3M84.6 294.6h1.3M88.6 280.2h1.3M86.8 243.5h1.3M85.2 240.5h1.3M84.9 256.3h1.3M77.4 240.7h1.3M89.2 268.2h1.3M86.2 273.8h1.3M86.4 288.4h1.3M89.2 273.7h1.3M73.5 256.1h1.3M90.8 254.3h1.3M85.5 246.3h1.3M72 259.3h1.3M83.2 245.6h1.3M87.1 291.9h1.3M84.3 248.7h1.3M87.1 270.9h1.3M90.1 275.2h1.3M76.4 291.8h1.3M90.3 292.9h1.3M87.7 282h1.3M86.3 302.9h1.3M80.2 241.5h1.3M84.9 258.2h1.3M88.8 250.3h1.3M78.3 255h1.3M88.3 235.4h1.3M73.7 279.9h1.3M89.5 263.1h1.3M81.2 244.3h1.3M84.3 292.5h1.3M85 245.3h1.3M85.5 248.3h1.3M89.7 267.1h1.3M88.5 301.4h1.3M89.5 285h1.3M86.8 291h1.3M73.6 256.6h1.3M88.1 292.6h1.3M65.8 262.5h1.3M84.9 295h1.3M83.8 227.2h1.3M86.8 242.1h1.3M89.7 280h1.3M85.3 269.2h1.3M90.7 282.6h1.3M88.5 249.3h1.3M89.7 270.2h1.3M85.3 284.2h1.3M87.7 273.8h1.3M90.3 281.1h1.3M82.7 267.9h1.3M87 254.6h1.3M83.4 237.3h1.3M90.4 296.3h1.3M84.8 276.5h1.3M78.1 282h1.3M81.3 250.5h1.3M85.1 232.7h1.3M68.4 264.8h1.3M85 271.7h1.3M77.7 258h1.3M84.7 234h1.3M90.4 262.2h1.3M85.6 263.4h1.3M83.8 282.4h1.3M89.8 272h1.3M72.6 284.9h1.3M86.7 233.5h1.3M85 252.4h1.3M80.3 273.1h1.3M79.7 247.8h1.3M87.8 249.1h1.3M89.8 251.1h1.3M88.3 286.3h1.3M81.9 294.1h1.3M87.8 260.7h1.3M80.3 296h1.3M82.4 279.8h1.3M76.3 283.7h1.3M90 283.3h1.3M84.9 246.1h1.3M90.1 268.5h1.3M86.3 258.5h1.3M77.3 295.2h1.3M89 238.8h1.3M88.2 296.8h1.3M76.3 256h1.3M85.3 305.7h1.3M73.1 249.5h1.3M86.2 256.3h1.3M53.1 257.3h1.3M86.5 254.7h1.3M89.3 255h1.3M87.3 263h1.3M88.4 260.8h1.3M90.1 266h1.3M75.9 248.4h1.3M76 263.9h1.3M90.8 301.5h1.3M71.4 245.7h1.3M90.4 269h1.3M88.7 238.9h1.3M76.3 288.3h1.3M83.5 274.9h1.3M83.2 253.6h1.3M80 246.7h1.3M90.6 292.9h1.3M89.1 255.2h1.3M80.8 291.1h1.3M88.2 292.2h1.3M90.2 232.1h1.3M87.2 255.5h1.3M75.3 289h1.3M85.2 285.6h1.3M69.2 256.9h1.3M84.6 286.9h1.3M90.3 243.3h1.3M55.4 253.8h1.3M90.9 244.2h1.3M86.2 277.3h1.3M88.6 263.8h1.3M86.5 268.9h1.3M85.9 266.6h1.3M81.4 262.3h1.3M85.2 288.2h1.3M83.8 259.5h1.3M84.5 245.7h1.3M85 271.5h1.3M90.1 287.6h1.3M87.4 274.8h1.3M82.1 239.5h1.3M90.6 241.7h1.3M86.2 268.7h1.3M90.2 278.5h1.3M77.1 276.6h1.3M88.4 286.2h1.3M85.4 249.7h1.3M89.3 256.7h1.3M83.9 243.3h1.3M79.9 239h1.3M80.1 273.9h1.3M89.9 244.3h1.3M82.2 246.5h1.3M84.8 232.3h1.3M80.8 237.6h1.3M53.1 257.3h1.3M89.9 269.4h1.3M69.2 241.6h1.3M85.2 279.4h1.3M83.5 239.5h1.3M83.1 246.4h1.3M81.4 241.5h1.3M88.8 272.6h1.3M86.7 259.6h1.3M90.8 274.5h1.3M88.7 259.2h1.3M89.1 244.6h1.3M69.6 239.7h1.3M85.5 272.4h1.3M89 272.1h1.3M80.6 223.9h1.3M83.3 255h1.3M90.1 278.5h1.3M58.1 237.2h1.3M86 250.1h1.3M80.9 275.6h1.3M77.9 268h1.3M88.1 302.2h1.3M81.3 295.9h1.3M81.1 269.4h1.3M90.6 277h1.3M88.2 250.8h1.3M77.5 303.4h1.3M77.9 242.1h1.3M89.7 267.2h1.3M86.6 250.8h1.3M90.2 281.1h1.3M86.6 265.4h1.3M78.3 253.4h1.3M90.2 251h1.3M27.8 219.4h1.3M60.4 205h1.3M69.3 218h1.3" stroke="#1a9464" stroke-width="1.3" fill="none" stroke-opacity="0.72"/>
<path d="M139.5 242.4h1.3M128.4 294.2h1.3M121.2 290.3h1.3M120.7 278h1.3M131.8 286.8h1.3M121.8 302.6h1.3M121.1 270.7h1.3M118.3 273.5h1.3M121.6 263.8h1.3M129.8 232.7h1.3M121.5 247.2h1.3M117.8 277.2h1.3M117.9 273.9h1.3M121 245.6h1.3M122.8 269.1h1.3M126.6 239.6h1.3M133 243.4h1.3M118.5 297.4h1.3M144.4 284.2h1.3M131.9 263.4h1.3M120.5 272.9h1.3M125.1 282.4h1.3M130.7 249.7h1.3M130.9 273.5h1.3M119.2 271.7h1.3M122.1 266.1h1.3M127.4 249.5h1.3M133.1 247.5h1.3M125.9 260.3h1.3M118.9 271h1.3M120.3 268.7h1.3M131.2 252h1.3M123.3 269.8h1.3M129 267.4h1.3M118.2 305.8h1.3M128.1 259.5h1.3M117.9 259.8h1.3M121 285.3h1.3M118 298.7h1.3M125.4 301.4h1.3M129.9 258.3h1.3M149.4 282.6h1.3M122.2 262.9h1.3M125.7 273.4h1.3M117.9 269.2h1.3M121.8 282.5h1.3M121.8 292.7h1.3M134.6 262.1h1.3M118.5 275.3h1.3M123.3 292.8h1.3M142.3 290.5h1.3M141.3 257h1.3M128.2 241.7h1.3M135.6 229.8h1.3M118.2 241.9h1.3M133.5 240.1h1.3M133.9 221.3h1.3M126.6 251.8h1.3M117.9 291.7h1.3M120.3 235.9h1.3M118.3 253.3h1.3M130.3 249.7h1.3M121.9 294h1.3M134.3 294.8h1.3M131.8 288.6h1.3M120.7 307.3h1.3M120 277.7h1.3M156.8 254.2h1.3M129.2 266.8h1.3M118.5 253.4h1.3M136 255h1.3M122.7 259.3h1.3M121.1 296.1h1.3M126 296.2h1.3M120.5 285.8h1.3M121.8 276h1.3M124.7 264.4h1.3M130.5 234.7h1.3M132.5 229.6h1.3M128.2 247h1.3M121.1 266.2h1.3M119 268.8h1.3M127.8 251.4h1.3M136.6 221.6h1.3M123.6 251.9h1.3M123.4 233h1.3M119.9 269.9h1.3M130 274.9h1.3M124 257.1h1.3M122.1 287.2h1.3M133.4 300.5h1.3M130.4 249.1h1.3M122.6 270.9h1.3M125.1 244.7h1.3M124.5 257.8h1.3M121.8 298.5h1.3M134.8 290.3h1.3M122.1 281.9h1.3M127.9 281.9h1.3M118.4 280.8h1.3M130.3 268h1.3M153.3 269.4h1.3M130.4 229.3h1.3M124.1 245h1.3M119.6 255.1h1.3M131.3 239.2h1.3M126.4 235.2h1.3M121.6 294.8h1.3M136.3 250h1.3M123.2 294.5h1.3M120.6 242.6h1.3M132.1 226.9h1.3M120.1 262.9h1.3M121.8 284.2h1.3M127.2 258.3h1.3M135.2 241h1.3M134.1 220.6h1.3M120.3 237.5h1.3M135.8 289.9h1.3M122 305.5h1.3M121.4 246.4h1.3M124.5 241.1h1.3M128.6 237.4h1.3M118.7 273.7h1.3M124.7 295.6h1.3M123.9 270.9h1.3M119 241.7h1.3M118.6 279.2h1.3M123.2 250.6h1.3M134.8 265.6h1.3M124.1 276.1h1.3M123.7 279.9h1.3M134.2 221.8h1.3M133 234.2h1.3M118.3 246.3h1.3M122.2 268.2h1.3M123.2 245.9h1.3M131.2 260.8h1.3M119.5 292.4h1.3M120.1 262.5h1.3M122.4 272.2h1.3M123.8 249.8h1.3M127.4 293.9h1.3M122.8 286.9h1.3M135.8 257.9h1.3M139.1 267h1.3M123.6 268.6h1.3M122.7 287.2h1.3M120.2 252.9h1.3M128.6 255.8h1.3M119.7 265.8h1.3M122.9 292.6h1.3M118 264.4h1.3M134 293.2h1.3M121.7 272.1h1.3M124.2 301h1.3M119.9 304.1h1.3M122.1 254h1.3M126.1 274h1.3M121.1 285.6h1.3M118.3 260h1.3M118 276.6h1.3M118.5 271.2h1.3M126.3 248.7h1.3M119.7 288.5h1.3M123.6 251.1h1.3M131 250.9h1.3M120.6 270.7h1.3M121.9 237.2h1.3M125.5 231.6h1.3M118.8 268.2h1.3M120.6 291.9h1.3M132.3 273.4h1.3M124.7 252h1.3M135 230.3h1.3M136.8 262.2h1.3M146.8 262.5h1.3M120.1 275.7h1.3M119 307.9h1.3M134.3 252.5h1.3M138.7 226.7h1.3M128.8 248.5h1.3M120.5 298.2h1.3M136.7 220h1.3M137.9 247.7h1.3M133.6 245.7h1.3M120.6 260h1.3M129.7 274.1h1.3M119.1 239.7h1.3M122 249.7h1.3M121.9 238.7h1.3M149.4 261.7h1.3M117.9 290.1h1.3M119.6 253.9h1.3M128.6 276.8h1.3M142.3 284.6h1.3M119.7 272.9h1.3M120.1 263h1.3M133.9 217.6h1.3M121.8 272.3h1.3M130.9 262.6h1.3M122.4 259.9h1.3M130.1 272.1h1.3M122.1 291.4h1.3M127.1 237.9h1.3M118.2 279.7h1.3M124.5 242.6h1.3M126.4 266.3h1.3M117.9 275.8h1.3M118.5 288.9h1.3M136.1 232.5h1.3M134.6 265.5h1.3M123.9 271.1h1.3M123 258.1h1.3M124 243.6h1.3M127.5 254.8h1.3M126.8 218.8h1.3M161.2 257.5h1.3M119.7 275.5h1.3M150.1 281.7h1.3M118.3 283.3h1.3M120.1 258.2h1.3M122.8 263.2h1.3M126.6 256.7h1.3M158.2 245.5h1.3M134.2 252.5h1.3M132.4 285.5h1.3M125.2 263h1.3M132.6 290.2h1.3M135.3 231h1.3M126 241.9h1.3M122.1 286.1h1.3M122.2 294.4h1.3M124.8 270.2h1.3M125.1 266.3h1.3M125.4 300.1h1.3M120.2 267.8h1.3M129.8 249.8h1.3M119.3 253.6h1.3M137.7 242.4h1.3M133.5 256.9h1.3M119.2 262.4h1.3M121.2 267.9h1.3M118.2 295.6h1.3M119.7 279.4h1.3M118.5 276.3h1.3M124.7 245.9h1.3M124.7 255h1.3M121.7 266.1h1.3M124.1 265.3h1.3M130.5 266.4h1.3M132.7 267.9h1.3M119.1 270.2h1.3M121.7 284.4h1.3M118.4 305.3h1.3M141.8 266.1h1.3M125.3 303.5h1.3M126 261.8h1.3M129.7 253.1h1.3M119 272.4h1.3M127.1 292.5h1.3M125.3 256h1.3M127.5 279.4h1.3M121.4 278.1h1.3M131.6 264.1h1.3M118.3 282.3h1.3M128.3 280h1.3M120.1 262.7h1.3M142.6 289.5h1.3M129.8 258.2h1.3M128.9 226.5h1.3M118.6 271.8h1.3M121.3 279.1h1.3M126.1 255h1.3M128.9 276.5h1.3M121.3 276.3h1.3M121.4 292.2h1.3M131.9 270.5h1.3M119.8 262.2h1.3M123.1 258.6h1.3M124.2 286.7h1.3M129.9 265.9h1.3M120.3 267.6h1.3M118.3 277.7h1.3M129.5 266.7h1.3M117.8 286.1h1.3M136.9 235h1.3M119.7 280.8h1.3M123.8 263.4h1.3M125.2 303.9h1.3M119.8 246.2h1.3M122.6 244.6h1.3M125.9 278.9h1.3M118 268.7h1.3M119.4 301.9h1.3M125.5 296.9h1.3M123.3 255.4h1.3M118.3 281.9h1.3M117.9 272.5h1.3M137 226.5h1.3M119.2 270.1h1.3M124.6 227.8h1.3M125.7 262.7h1.3M127.2 270.4h1.3M128.7 290.1h1.3M118.5 269.6h1.3M147.1 239.9h1.3M137.4 214.7h1.3M125.8 271.6h1.3M120 265.6h1.3M134.5 257.8h1.3M124.9 241.3h1.3M118.8 267.9h1.3M141.5 268.7h1.3M119.7 260.1h1.3M127.5 289h1.3M123.8 275.1h1.3M126.2 271.8h1.3M128.3 272.6h1.3M130.2 282.4h1.3M121.9 271h1.3M124.5 290.7h1.3M118.8 292.2h1.3M124.6 258.1h1.3M132.9 283.4h1.3M121.6 282h1.3M134.2 247.1h1.3M122 273.7h1.3M133.7 263.6h1.3M119.3 251h1.3M120.7 244.5h1.3M119 281.9h1.3M119.2 241.8h1.3M126.5 268.5h1.3M120 290.5h1.3M117.9 237.2h1.3M119.7 289.1h1.3M124.2 261.5h1.3M123.2 247.7h1.3M120.7 255.1h1.3M128.7 277.5h1.3M147.3 243.4h1.3M145.2 268.4h1.3M129.7 254.1h1.3M123.4 265.5h1.3M127.4 293.4h1.3M125.1 263.9h1.3M118.4 285h1.3M119.2 253.4h1.3M121.6 299.1h1.3M120 271.6h1.3M130.1 248.7h1.3M121.1 266.5h1.3M119.3 278.7h1.3M124.4 282.7h1.3M133.2 250.2h1.3M125.9 285.5h1.3M125.1 294.3h1.3M127.1 247.4h1.3M118.7 247.7h1.3M127.9 244.6h1.3M120.9 255.5h1.3M124.7 278.8h1.3M124.6 255.7h1.3M119.3 278.2h1.3M130.2 237.4h1.3M133.1 277.6h1.3M131.6 262.5h1.3M120.9 251.1h1.3M122.3 261.1h1.3M119.8 282.2h1.3M122.6 248.8h1.3M129.1 249.5h1.3M118.8 271.9h1.3M128.6 275.6h1.3M127.4 235.7h1.3M122 273.6h1.3M124.9 293.1h1.3M123.2 252.3h1.3M125.6 269.5h1.3M128.7 266.1h1.3M127.3 242.4h1.3M126.5 242.1h1.3M119.1 271.7h1.3M125.8 246.2h1.3M132.9 296.5h1.3M132.3 242.3h1.3M120.2 282.8h1.3M146.3 273.5h1.3M126.4 232.2h1.3M133 252.7h1.3M134.6 263.1h1.3M121.2 281h1.3M120.2 281.9h1.3M118.6 264.3h1.3M145.1 219.8h1.3M128.6 267.7h1.3M121.2 275.3h1.3M123.6 298.7h1.3M129.2 298.4h1.3M123.4 281.9h1.3M120.6 244.2h1.3M128.5 287.4h1.3M118.9 276.1h1.3M118.4 253.5h1.3M120.1 260.5h1.3M131.2 236.6h1.3M127.7 247.1h1.3M119.8 280.8h1.3M118.8 254.7h1.3M125.8 297.4h1.3M129.8 236.7h1.3M118.6 289.7h1.3M127.9 281.9h1.3M149.5 273.7h1.3M118.4 297.1h1.3M130.5 223.3h1.3M128.6 277.6h1.3M131 236.8h1.3M118.9 268.2h1.3M131.2 267.3h1.3M122.3 283.1h1.3M119.6 264.5h1.3M119.8 246.4h1.3M118.5 255.3h1.3M121.6 296h1.3M117.9 260.3h1.3M132.7 252.2h1.3M126.3 269.1h1.3M134.5 242.8h1.3M121 295.6h1.3M118.5 274.8h1.3M128.3 277.3h1.3M118.8 275.7h1.3M119.8 268.6h1.3M126.7 244h1.3M129.5 241.9h1.3M124.5 262.7h1.3M133.8 238.7h1.3M130.5 282.7h1.3M120.3 251.2h1.3M126.7 252h1.3M123.8 305.3h1.3M125.7 280.7h1.3M122.4 271.1h1.3M135.6 261.7h1.3M141.9 269.1h1.3M125.8 239.2h1.3M128.5 238.5h1.3M117.9 283.4h1.3M119 272.7h1.3M121.4 267.6h1.3M118.1 293.7h1.3M128.2 265.1h1.3M148.7 267.2h1.3M126 281.7h1.3M144.4 277.9h1.3M127.5 259.5h1.3M124.7 261.1h1.3M120.9 275.1h1.3M123.8 291.9h1.3M121.7 288.5h1.3M132.2 278.4h1.3M122.7 275.9h1.3M127.2 271.9h1.3M120.9 285.5h1.3M126.1 299.9h1.3M134.9 289.9h1.3M144.7 245.4h1.3M132.9 215.4h1.3M133.2 249.5h1.3M133.9 255h1.3M121 249h1.3M134.4 243.7h1.3M137.9 260.7h1.3M121.8 276.6h1.3M131.7 243.8h1.3M118 257.1h1.3M130.8 258h1.3M121 248.3h1.3M145.6 271h1.3M120 264.3h1.3M123 277.9h1.3M123.9 249.5h1.3M124.6 268h1.3M136 258.7h1.3M119.9 290.6h1.3M118.3 297.4h1.3M133.8 248.8h1.3M132.3 224.8h1.3M135.4 294.2h1.3M117.9 277.2h1.3M119.3 275.3h1.3M119 247.6h1.3M123.2 249.4h1.3M118.8 253.6h1.3M134.3 220.9h1.3M125.1 222.2h1.3M137.7 262.3h1.3M124.9 282.9h1.3M118.5 285.1h1.3M119.8 279.1h1.3M134.3 276h1.3M123.1 243.9h1.3M118 295.7h1.3M126.4 274.6h1.3M122.4 243.2h1.3M119.2 285h1.3M160.7 256.2h1.3M118.8 308.9h1.3M124.4 270.7h1.3M129.5 257.6h1.3M125.8 254.2h1.3M124.9 266.8h1.3M122.2 289.1h1.3M122.4 269.8h1.3M125.5 272.2h1.3M125.6 267.2h1.3M133.5 288.5h1.3M122.4 259.8h1.3M143.4 264.2h1.3M121.8 288.5h1.3M129.4 244.4h1.3M131.6 226.1h1.3M130.7 258.5h1.3M118.2 284.4h1.3M136.4 245.6h1.3M120.9 273.1h1.3M132.8 228.7h1.3M126.8 286h1.3M129 263.3h1.3M119.1 256.3h1.3M118.6 273.5h1.3M121.1 243.9h1.3M121.9 286.2h1.3M124.2 262.5h1.3M122.4 279h1.3M125.4 275.9h1.3M117.9 305.8h1.3M128.3 280.8h1.3M122.9 273.7h1.3M125.1 283.2h1.3M124.7 290.7h1.3M118.3 292.1h1.3M119.5 287.4h1.3M140.2 291.2h1.3M122.8 285h1.3M127.2 255.2h1.3M149.9 275.3h1.3M119.2 249.8h1.3M125.5 245.2h1.3M118.5 299.9h1.3M120.7 300.1h1.3M132.1 299.1h1.3M137.7 268.2h1.3M122.4 289.4h1.3M141.6 241.6h1.3M156.9 247.1h1.3M127.8 246.6h1.3M118 244.3h1.3M139.4 266.3h1.3M132.6 236.9h1.3M123.3 262.6h1.3M121.6 290h1.3M118.8 295.6h1.3M120.8 302h1.3M121.9 275h1.3M124.1 251.2h1.3M121.2 248.1h1.3M119 278.6h1.3M132.5 299.2h1.3M133.5 239.9h1.3M125.6 268.6h1.3M122.7 305.4h1.3M124.2 283.9h1.3M125.9 247.3h1.3M118.5 276.3h1.3M119.8 279.4h1.3M119.9 264.4h1.3M120.4 237.2h1.3M118.4 255.3h1.3M138.6 285.9h1.3M124.9 241.7h1.3M135.4 222.6h1.3M127.4 242.6h1.3M121.2 237h1.3M137 241.2h1.3M120.2 272.8h1.3M136.7 251h1.3M127.9 250.2h1.3M127.7 249.8h1.3M133 235.4h1.3M117.9 299.6h1.3M122.6 290.3h1.3M119.4 264.3h1.3M119.2 235.7h1.3M127.3 241.4h1.3M117.8 302.7h1.3M138.9 258.9h1.3M127.2 237.4h1.3M123.2 278.4h1.3M135.2 243.2h1.3M133.9 244.9h1.3M126.7 272.9h1.3M127.4 270.2h1.3M138.8 237.1h1.3M119.9 237.2h1.3M124.9 274.8h1.3M121.5 288.9h1.3M129 252.4h1.3M125.1 259.1h1.3M126.9 242.9h1.3M123.9 301.5h1.3M140.2 248.6h1.3M122.5 231.1h1.3M120.5 305.7h1.3M120.8 279.2h1.3M136.1 244.1h1.3M128.7 255.2h1.3M124.5 252.2h1.3M119.5 291.8h1.3M120 249h1.3M123.4 289.6h1.3M117.9 271.1h1.3M122.9 256.5h1.3M121.3 256.2h1.3M127.6 236h1.3M127.7 246.6h1.3M123.5 233.2h1.3M129.6 261.7h1.3M124.4 265.1h1.3M118.3 286h1.3M131.3 229.8h1.3M118.8 248.6h1.3M139.7 276.3h1.3M123.4 280.7h1.3M120 282.1h1.3M141.2 234.6h1.3M123.6 271.7h1.3M121.8 281.3h1.3M120.7 257.3h1.3M122.6 301.1h1.3M130.7 245.3h1.3M119 283.8h1.3M159.8 257h1.3M126.7 252.9h1.3M131.5 261.2h1.3M129.2 274.4h1.3M121.7 303.8h1.3M131 265.9h1.3M131.8 296h1.3M122.8 252.2h1.3M118.1 305.7h1.3M155 276.2h1.3M122.6 266h1.3M118.9 306.5h1.3M133.2 225.7h1.3M124.9 274.1h1.3M118.4 249.3h1.3M123.5 269.7h1.3M118.8 276.5h1.3M141.9 270.5h1.3M129.5 284.7h1.3M125.5 238.9h1.3M159.1 252.3h1.3M121.4 270.3h1.3M121.9 274.9h1.3M134.5 241.9h1.3M122 301.8h1.3M119.8 286.3h1.3M137.2 257.7h1.3M132.1 253.3h1.3M118.9 289.6h1.3M118.9 307h1.3M120.6 280h1.3M118.7 282.7h1.3M125.6 230.3h1.3M123.1 277.8h1.3M119.9 251.1h1.3M125.4 260.4h1.3M135.5 261.3h1.3M119.2 298.8h1.3M128.2 278.9h1.3M120.6 282.6h1.3M128.2 238.3h1.3M120.3 277.7h1.3M122.8 271.6h1.3M138.5 251.5h1.3M120.8 293.8h1.3M128.4 250.5h1.3M120.8 259.7h1.3M126 253.4h1.3M133.8 248.9h1.3M130.4 241.8h1.3M132.1 253.5h1.3M119.5 251.4h1.3M130.5 256.8h1.3M127.3 277.3h1.3M133.3 269.5h1.3M125.6 232.8h1.3M123.1 298.6h1.3M120.4 236.7h1.3M119.8 253.1h1.3M130.9 279.8h1.3M123 295.1h1.3" stroke="#f4593c" stroke-width="1.3" fill="none" stroke-opacity="0.72"/>
<path d="M119.5 284.1h1.3M118.5 254.7h1.3M126.2 238.4h1.3M128.8 279.4h1.3M123.4 294.4h1.3M120.3 245.3h1.3M134.5 239h1.3M117.9 276.1h1.3M127.5 295.1h1.3M119.1 280.7h1.3M120.1 251.8h1.3M128.2 305h1.3M119.2 243.7h1.3M119.7 264.4h1.3M127.5 232.7h1.3M123 237.1h1.3M126 243.3h1.3M137 216h1.3M127.2 267h1.3M125.5 246.7h1.3M119.6 268h1.3M133.8 263.8h1.3M119.6 263.2h1.3M120.5 263.1h1.3M121 301.6h1.3M130 267.7h1.3M128.5 280.1h1.3M120.2 245.4h1.3M125 263h1.3M125.9 300.8h1.3M127.3 274h1.3M130 259.2h1.3M125.9 285.6h1.3M123.2 267.1h1.3M120.2 249h1.3M129.5 247.1h1.3M122 249.9h1.3M119.3 276.1h1.3M122.9 267.7h1.3M122.1 290.9h1.3M118.4 261.2h1.3M118.5 251.9h1.3M126.2 255.5h1.3M134.1 240.7h1.3M132.1 249h1.3M127 269.7h1.3M121 268.5h1.3M134.3 227.3h1.3M122.5 294.2h1.3M121.7 268h1.3M131.1 254.4h1.3M119.7 295.6h1.3M140.2 306.5h1.3M123.4 265.9h1.3M124.8 301.1h1.3M125.1 284.5h1.3M132 223.7h1.3M121.1 259.8h1.3M150.8 296.1h1.3M120.5 300.7h1.3M123.3 264.2h1.3M132.7 244.7h1.3M118 281h1.3M121.5 249.3h1.3M128.4 228.1h1.3M118 261h1.3M145.9 288.3h1.3M119.9 291.4h1.3M161.1 263.8h1.3M128 288.7h1.3M121.9 259h1.3M134.7 239.8h1.3M130 281.7h1.3M132.9 254.3h1.3M128.3 247.8h1.3M127.5 253.4h1.3M130.1 248.4h1.3M121.1 303.6h1.3M127.2 296.9h1.3M126.4 269.1h1.3M126.3 238.9h1.3M122.2 305.3h1.3M122.3 279.1h1.3M133.9 224.9h1.3M120.6 260.9h1.3M133.4 245.4h1.3M120.8 268.5h1.3M118.7 256.6h1.3M119.3 283.5h1.3M122.5 286.3h1.3M123.7 257.5h1.3M126.9 249.3h1.3M117.8 254.4h1.3M124.3 248.2h1.3M123.2 280.1h1.3M119.4 249.6h1.3M140.6 256.6h1.3M123.9 247.3h1.3M122.4 298.2h1.3M120.2 261.2h1.3M138.7 249.2h1.3M129.7 246.9h1.3M119.5 259.4h1.3M128.3 261.4h1.3M126.6 293.8h1.3M117.9 287.8h1.3M120.3 307.9h1.3M126 247.7h1.3M130.5 248.7h1.3M131.9 245.5h1.3M125.1 293.5h1.3M127 271.4h1.3M141.3 248.9h1.3M121.2 299h1.3M122.2 265.2h1.3M125.1 248.9h1.3M131.5 272.6h1.3M124.1 249.1h1.3M131.1 288.6h1.3M150.2 276.6h1.3M125 259.6h1.3M120.7 302.8h1.3M124 251.7h1.3M127.1 278.8h1.3M120.3 249.8h1.3M127.5 275.2h1.3M122.4 267.6h1.3M122.8 269.2h1.3M123.3 264.5h1.3M152.5 263.5h1.3M122 288.1h1.3M124.5 294.1h1.3M134.6 238.4h1.3M120.3 295.3h1.3M121.6 248.5h1.3M124.3 234.9h1.3M120.1 285.9h1.3M125.3 278.9h1.3M123.5 278.4h1.3M129 282.8h1.3M126.3 280.6h1.3M118.2 301.5h1.3M124.6 271.9h1.3M121.4 262.1h1.3M120 277.5h1.3M126.9 276.8h1.3M120.5 251.2h1.3M133.9 259.4h1.3M127.8 259.3h1.3M120.6 269.4h1.3M119.5 251.7h1.3M119.1 296.4h1.3M121.4 284.5h1.3M129.7 231.4h1.3M125.2 262h1.3M124 260.6h1.3M131.2 248.6h1.3M125.4 255.5h1.3M123.8 267.4h1.3M125.3 251.5h1.3M122.4 299.6h1.3M122.9 286.8h1.3M119.3 246.7h1.3M122.1 284.8h1.3M127.3 259.1h1.3M129.8 247.7h1.3M126.8 253.6h1.3M117.9 281.4h1.3M135.3 298.4h1.3M118 285.9h1.3M119.6 291.5h1.3M127 276h1.3M125.5 256.9h1.3M123.5 285.7h1.3M134.9 292.1h1.3M130 275.3h1.3M121.5 251.3h1.3M126.1 258.5h1.3M123.9 258.3h1.3M122.6 272.1h1.3M119.6 247.7h1.3M119.2 242.4h1.3M119.2 288.2h1.3M126.4 278.2h1.3M118.3 286.9h1.3M119.5 299.5h1.3M118.5 280.5h1.3M126.6 267.4h1.3M118.9 254.4h1.3M136.9 238.3h1.3M128.2 257.1h1.3M124.9 284.6h1.3M123.8 282h1.3M125.5 264.9h1.3M118.9 283.1h1.3M127.4 251.6h1.3M119.6 276.5h1.3M123 259.9h1.3M125.4 246.6h1.3M126.6 253.1h1.3M120.6 301.9h1.3M122.8 282.7h1.3M127.4 251.3h1.3M146.6 245.3h1.3M132.7 270.2h1.3M131 275.4h1.3M123.7 260.2h1.3M123.3 279.5h1.3M131.4 265.8h1.3M121.3 292.8h1.3M119.7 288.9h1.3M125.1 276.2h1.3M130.7 269.4h1.3M139 281.1h1.3M133.5 275h1.3M138.8 255.8h1.3M143.8 250.9h1.3M121 291.1h1.3M129.8 245.6h1.3M133 235.2h1.3M122.7 301.6h1.3M118 240.7h1.3M119.5 301.7h1.3M125.7 286.8h1.3M131.3 256.8h1.3M120.5 261.6h1.3M119.3 281.5h1.3M123.6 280h1.3M123.1 275.9h1.3M126 254.7h1.3M118.6 263.8h1.3M147 258.4h1.3M119.2 256.3h1.3M137 247.4h1.3M124 303h1.3M120.8 254.4h1.3M118.2 249.1h1.3M120.5 233.4h1.3M127 261.6h1.3M123.9 281h1.3M125.4 237.4h1.3M117.9 275.2h1.3M123.9 258h1.3M125.2 260.8h1.3M120.8 253.6h1.3M123.2 247.4h1.3M122.9 265.9h1.3M129 271.5h1.3M142.1 216.9h1.3M120.1 290.5h1.3M129.4 263.7h1.3M118.9 292.4h1.3M132.3 248.5h1.3M119.3 290.2h1.3M129.1 246.5h1.3M127.6 270.3h1.3M120.5 265.1h1.3M120.8 273.2h1.3M126.9 243.9h1.3M120.4 239.7h1.3M136.8 236.2h1.3M140 230.7h1.3M129.6 261.1h1.3M118.2 292.1h1.3M134.3 259.3h1.3M140.9 262.5h1.3M121.8 282.9h1.3M133.9 298.6h1.3M125.8 244.8h1.3M121.8 252h1.3M121.3 241.4h1.3M119.9 274.6h1.3M126.3 246.7h1.3M131.9 257.8h1.3M125.9 249.8h1.3M117.8 268.4h1.3M136.4 263.7h1.3M128.9 255.2h1.3M120.1 281.7h1.3M129.8 254.3h1.3M146.3 253h1.3M129.2 249.3h1.3M119.1 261.9h1.3M123.9 273.1h1.3M130.6 243.7h1.3M118.3 268.4h1.3M118.9 289h1.3M118.6 298.4h1.3M121.1 284.7h1.3M128.2 288.8h1.3M118.4 256.8h1.3M129.6 268.3h1.3M122.9 264.1h1.3M120.1 299.6h1.3M123.3 241.4h1.3M120.6 275.7h1.3M123.6 289.5h1.3M119.1 252.2h1.3M123.2 251.5h1.3M119.2 271.9h1.3M121.7 249.3h1.3M121.9 299.3h1.3M123.6 284.1h1.3M123.4 247.3h1.3M131 273.4h1.3M121.9 263h1.3M124.8 267.8h1.3M135.4 242.9h1.3M124.6 292.4h1.3M128.5 292.9h1.3M120.3 284.5h1.3M121.8 277.8h1.3M130.6 287.6h1.3M135.1 243.5h1.3M118.8 285.4h1.3M122.7 255.9h1.3M128.9 244.2h1.3M127.7 247.7h1.3M126.1 242.8h1.3M142.3 244.2h1.3M147.6 246.1h1.3M118.6 237.4h1.3M123.2 279h1.3M124.6 251.4h1.3M119.3 284.4h1.3M126.1 290.2h1.3M148.1 217.4h1.3M129.6 256.3h1.3M118.7 266h1.3M119 275.3h1.3M150.6 270.2h1.3M138.7 283.2h1.3M128.7 263.1h1.3M131.3 241.1h1.3M128.8 262h1.3M118.5 283.2h1.3M117.9 286.7h1.3M126.3 307.1h1.3M119.3 268.8h1.3M117.8 264.1h1.3M119.3 272h1.3M119.8 244h1.3M133.8 228h1.3M123.2 288.1h1.3M124.3 259.3h1.3M120.1 284.6h1.3M121.7 253h1.3M123.7 273.4h1.3M124.8 293.9h1.3M126.6 236.9h1.3M138.5 231.2h1.3M121.7 275.7h1.3M124.7 253.9h1.3M118.9 285.2h1.3M118.2 255.7h1.3M146.1 285.9h1.3M127 249.6h1.3M118.2 299.2h1.3M136.5 221.7h1.3M120.7 296h1.3M126.4 263.3h1.3M127.3 259.4h1.3M128.3 250.6h1.3M123.4 246.5h1.3M130.9 251.3h1.3M123.4 250.8h1.3M119.4 265.5h1.3M118.1 285.9h1.3M119.9 258.7h1.3M139.5 245.7h1.3M135.3 245.4h1.3M129.8 260.9h1.3M124.6 259h1.3M123.4 250.3h1.3M130.7 269.6h1.3M139.6 250h1.3M129.9 231.9h1.3M120.4 277.8h1.3M131.9 268.6h1.3M130.8 270.8h1.3M123.5 265h1.3M123.4 285.5h1.3M140.4 276.3h1.3M133.6 243h1.3M129.9 244.1h1.3M118.6 286.3h1.3M122 262.2h1.3M119.5 254.9h1.3M119 289.7h1.3M118.8 303.9h1.3M127.9 251.6h1.3M119 275.8h1.3M126.2 272.4h1.3M121.9 277.6h1.3M119.8 266.5h1.3M119.9 251.9h1.3M125.1 244.9h1.3M134.4 256.3h1.3M118.1 256.9h1.3M142.5 248.8h1.3M151.7 244.2h1.3M120.2 288.2h1.3M123.1 274.5h1.3M120.9 260.4h1.3M119.2 270.1h1.3M118.6 275.2h1.3M125 280.4h1.3M121.9 272.7h1.3M123.9 282.4h1.3M120.1 251.2h1.3M137 220.5h1.3M128.4 257.1h1.3M135.4 219.9h1.3M120.6 269.9h1.3M119 273.7h1.3M122.7 271h1.3M123.7 294.1h1.3M137.2 271.5h1.3M135.5 291.6h1.3M131.7 253.9h1.3M136.7 253.3h1.3M124.7 266.1h1.3M131.8 279.6h1.3M131.3 289.2h1.3M125.8 268h1.3M137.2 264.5h1.3M122.7 259.1h1.3M124.6 285.7h1.3M119.2 273.6h1.3M137.1 245.2h1.3M120.5 251.5h1.3M132.8 271.7h1.3M119.1 248.2h1.3M141.7 274.6h1.3M123.1 230.5h1.3M120 263.5h1.3M122.1 245.8h1.3M121.4 271h1.3M121.7 244.5h1.3M123 258.6h1.3M121.1 273.1h1.3M119.7 285h1.3M137 246.5h1.3M118.7 299h1.3M120.5 259.1h1.3M130.2 296.8h1.3M118.8 270.1h1.3M131.6 255.6h1.3M138.9 244.1h1.3M120.5 279.3h1.3M132.3 263h1.3M119.7 271.5h1.3M117.9 301h1.3M119.8 283.8h1.3M132.9 257.3h1.3M125.1 262.6h1.3M119.6 254.6h1.3M118.3 279.4h1.3M121.9 251.9h1.3M120.4 239.3h1.3M121.7 262.2h1.3M118.4 285.8h1.3M132.7 247.4h1.3M118.1 266.7h1.3M117.9 283.9h1.3M117.9 281.3h1.3M123.2 297.5h1.3M144.5 268.2h1.3M125 283.8h1.3M123.1 280.7h1.3M137.6 249.2h1.3M118.4 296.1h1.3M129.2 284.8h1.3M122.3 291.9h1.3M119.8 287.7h1.3M130.4 259h1.3M128.7 265.1h1.3M120.4 283h1.3M127.2 269.6h1.3M124.3 266.1h1.3M119.1 287.2h1.3M146.1 256.9h1.3M121.7 268.9h1.3M125.3 257.7h1.3M132.8 272.1h1.3M124.7 233.4h1.3M123.9 271.8h1.3M120.9 262.4h1.3M118.8 295.6h1.3M126.9 262.9h1.3M121.2 295.9h1.3M122.4 272.3h1.3M123.6 255.3h1.3M123.6 263.9h1.3M131.7 268.7h1.3M118.6 279.4h1.3M130 225.9h1.3M131 249.9h1.3M121.6 275.4h1.3M120.4 280.9h1.3M119.6 287.8h1.3M123.1 269.8h1.3M127.6 262.3h1.3M119 269.5h1.3M122.4 279.2h1.3M135.4 251h1.3M118.5 300.1h1.3M120 252.6h1.3M119.4 263.2h1.3M145.5 241.1h1.3M127.9 251.7h1.3M120.7 263.7h1.3M120 303.4h1.3M132.2 278.2h1.3M118.9 252h1.3M117.9 269.9h1.3M129.8 269.6h1.3M119 268.4h1.3M118.5 246.4h1.3M126.1 279.4h1.3M131.8 275.4h1.3M122.4 242.7h1.3M128.9 262.3h1.3M123.7 251.3h1.3M118.1 242.6h1.3M135.4 304.7h1.3M122 274.7h1.3M127.1 256.2h1.3M122 257.7h1.3M125 291.8h1.3M119.2 273.1h1.3M127.3 241.4h1.3M132.5 259.7h1.3M120.1 265.9h1.3M118.1 292.7h1.3M128.2 277.1h1.3M139.3 257.2h1.3M123.4 292h1.3M122 268.2h1.3M133.5 275.9h1.3M121.5 244.3h1.3M122.2 305.6h1.3M129.8 227.1h1.3M133.6 224.4h1.3M133.4 245.2h1.3M125.3 262.4h1.3M138.9 278h1.3M147.7 265.5h1.3M129.8 283.7h1.3M118.6 283.5h1.3M128.5 229.2h1.3M122.9 257.7h1.3M128.2 242.5h1.3M130.8 258.2h1.3M125.2 256.9h1.3M118.8 273.7h1.3M121 287.8h1.3M134.5 255.8h1.3M129.4 266h1.3M118.4 278.3h1.3M118.7 299.1h1.3M140.2 277.7h1.3M121.3 248.6h1.3M123.7 282.5h1.3M135.3 258.8h1.3M124 300.1h1.3M120.3 280.6h1.3M125.9 269.8h1.3M118.2 289.9h1.3M118.1 266.9h1.3M119.1 299.1h1.3M129.5 275.8h1.3M121 245.2h1.3M132.7 235h1.3M127.8 252.6h1.3M122 247.5h1.3M127.1 276.1h1.3M122.4 279.3h1.3M119.4 266.5h1.3M117.9 286.2h1.3M126.2 236.7h1.3M133.8 238.4h1.3M135.1 243.1h1.3M128.1 242.3h1.3M123.8 285.2h1.3M120.5 259h1.3M126 258.3h1.3M130.1 250.5h1.3M118.4 264.5h1.3M127.5 253.9h1.3M119.2 288.9h1.3M119.4 295.2h1.3M128.9 279.6h1.3M120.9 247.1h1.3M127.7 253.4h1.3M118.9 273h1.3M128.2 257.9h1.3M122.9 294.4h1.3M122 294.9h1.3M122.8 258.7h1.3M120.2 294.8h1.3M127.9 288.3h1.3M126.2 233.6h1.3M118 307.9h1.3M119 261.1h1.3M130.7 264.7h1.3M118.7 266.5h1.3M124.2 272.6h1.3M118.1 267.5h1.3M127.9 303h1.3M119.8 275.9h1.3M140 215.4h1.3M122.4 254h1.3M120.3 264.2h1.3M129.2 228h1.3M135.2 289.2h1.3M119 270.9h1.3M122.4 280.2h1.3M120.9 253.4h1.3M125.7 246h1.3M132.5 260.3h1.3M121.4 305.7h1.3M118.2 289.7h1.3M136.7 217.7h1.3M122.7 249h1.3M119.1 283.3h1.3M140.5 246.7h1.3M119.1 288h1.3M123.3 264.2h1.3M121.2 254.7h1.3M133.7 270.9h1.3M125.9 249.4h1.3M121.3 281.4h1.3M133.7 219.9h1.3M124 247.7h1.3M129.4 246.3h1.3M125.3 281.3h1.3M138.7 272.7h1.3M139 280.4h1.3M118.7 260.1h1.3M140.7 245.2h1.3M123.3 251.2h1.3M132.2 252.2h1.3M130.8 268.6h1.3M118.9 272.4h1.3M122 263.4h1.3M123.3 294.1h1.3M122.9 282.5h1.3M135.8 228.2h1.3M117.9 287.1h1.3M119.7 282h1.3M125.7 272.4h1.3M132.1 230h1.3M120.5 306.8h1.3M136.4 280.6h1.3M118.9 274.3h1.3M121.8 256.1h1.3M118.8 256.8h1.3M122.8 291.9h1.3M127.8 260.7h1.3M119.7 281.7h1.3M123.8 240.1h1.3M126.1 232.9h1.3M136 254.1h1.3M125.9 275.7h1.3M130.9 238.1h1.3M145.3 261.8h1.3M137.6 245.6h1.3M118.4 262.1h1.3M126 285.7h1.3M133.6 221.6h1.3M128.9 288.2h1.3M121.6 279.1h1.3M123.2 264.2h1.3M135.5 250.3h1.3M152.1 262.6h1.3M119.2 284.1h1.3M126.4 262h1.3M118 261.1h1.3M126 262h1.3M131.6 268.1h1.3M135.8 248h1.3M125.9 256.5h1.3M142.7 259.3h1.3M123.4 237.8h1.3M122.2 251.6h1.3M127.6 243.3h1.3M148.6 243.9h1.3M123.2 275.2h1.3M142.7 265.8h1.3M132.2 221.2h1.3M127.2 283.2h1.3M128.8 279.7h1.3M121.1 244.5h1.3M137.5 237.1h1.3M120.2 254.9h1.3M119.9 299h1.3M124.3 264.3h1.3M137.9 248h1.3M141.4 247.6h1.3M120.2 288h1.3M123.6 280.1h1.3M135.6 238.5h1.3M130.2 285.8h1.3" stroke="#f4593c" stroke-width="1.3" fill="none" stroke-opacity="0.72"/>
<path d="M127.8 254.1h1.3M120.5 242.2h1.3M118.1 260.5h1.3M127.6 247.3h1.3M127 247.2h1.3M118.6 271.4h1.3M124.5 290.4h1.3M121.8 274.9h1.3M121 247.4h1.3M122.6 257.1h1.3M121 243.4h1.3M119.2 276.5h1.3M119.2 256.6h1.3M137.9 237.6h1.3M118.4 289.9h1.3M119.8 294h1.3M118.3 270.5h1.3M141.2 239.2h1.3M123.7 268.4h1.3M120.2 283.5h1.3M121.9 254.7h1.3M128.6 267h1.3M121 273.9h1.3M119.3 272.8h1.3M135.9 252.7h1.3M120.8 239.1h1.3M138.6 242.6h1.3M122 289.7h1.3M134.6 268.7h1.3M123 250.7h1.3M124.4 252.6h1.3M135.6 276.9h1.3M118 262.3h1.3M123.9 308.1h1.3M119.9 290.4h1.3M123 271.8h1.3M124 260.9h1.3M119 249.3h1.3M118.8 277.9h1.3M121.5 245.2h1.3M117.8 260.8h1.3M118.8 286.9h1.3M120.8 287h1.3M133.3 261h1.3M130.6 235.9h1.3M123.4 282h1.3M124.9 287.9h1.3M133.2 253.3h1.3M118.3 273.3h1.3M129.1 259.8h1.3M118.3 263.4h1.3M119.7 266.9h1.3M122.4 266.8h1.3M131.2 277.8h1.3M119.7 299.9h1.3M123.8 272.1h1.3M119.4 256.5h1.3M141.4 239.3h1.3M119.4 273.2h1.3M124.2 292.2h1.3M121.3 279.4h1.3M120.2 253.6h1.3M123.3 281.4h1.3M120.8 307.3h1.3M131 239.4h1.3M122.1 254.9h1.3M121.4 253.5h1.3M143.1 255.3h1.3M124.7 250.7h1.3M131.4 235.3h1.3M128 274.5h1.3M125.4 308.9h1.3M122.5 253.3h1.3M117.9 268.6h1.3M121.7 291.8h1.3M130 249.4h1.3M120.4 271.7h1.3M118.9 272.7h1.3M123.8 285.2h1.3M124.5 259.3h1.3M125.5 270.1h1.3M118 279.8h1.3M118.4 267.1h1.3M118 271.8h1.3M128.6 272.2h1.3M128.1 232.9h1.3M124.4 263.9h1.3M127.4 241h1.3M122.5 284.5h1.3M119.2 237.8h1.3M126.1 272.4h1.3M120.9 248.7h1.3M121.4 306.7h1.3M123 293.6h1.3M117.9 272h1.3M119.7 273.9h1.3M120.7 264.3h1.3M120 252.8h1.3M120.3 261.6h1.3M118.6 257.6h1.3M119.8 264.2h1.3M121.8 271h1.3M120.2 272.2h1.3M119.4 280.5h1.3M136 277.1h1.3M122.8 230.2h1.3M118.2 280.3h1.3M118.9 289.6h1.3M123 290.7h1.3M126.6 272.2h1.3M120 257.5h1.3M156.9 279.2h1.3M123.8 301.6h1.3M119.5 260h1.3M126.3 275h1.3M130.3 235.7h1.3M119.8 294.1h1.3M125.3 276.4h1.3M119.5 302h1.3M119.8 273.2h1.3M118 285.1h1.3M118.6 291.1h1.3M118.1 302.1h1.3M123.5 303.1h1.3M118.1 286h1.3M117.9 303.5h1.3M118.7 261.7h1.3M126.6 248.1h1.3M122.5 270.9h1.3M121.1 269.6h1.3M140.6 240h1.3M150.2 259.2h1.3M118 291.5h1.3M129.3 273.4h1.3M123.4 272.3h1.3M120.7 264.5h1.3M117.9 262.7h1.3M145.7 248.9h1.3M119 292.3h1.3M122.9 265.6h1.3M129 275.3h1.3M131.3 229.9h1.3M147.6 287h1.3M157.6 251.6h1.3M134 231.6h1.3M125.3 274.6h1.3M149.6 263.3h1.3M121.1 271.2h1.3M123.9 247.7h1.3M136.1 263.3h1.3M121.1 259.8h1.3M118.4 280.1h1.3M122.7 283.7h1.3M126 253.9h1.3M119.5 294h1.3M129.1 282h1.3M118.8 242.1h1.3M126.1 252.7h1.3M119.3 252.2h1.3M134.4 260.6h1.3M131.8 263.3h1.3M128.2 296.7h1.3M120.4 242.8h1.3M132.1 247.5h1.3M132.7 280.3h1.3M129.4 233.6h1.3M118.2 286.2h1.3M121.1 250.3h1.3M119.4 268.9h1.3M118.5 245.5h1.3M125.9 236.6h1.3M138.5 232.6h1.3M119.2 281.9h1.3M126.9 236.7h1.3M136.4 264h1.3M127 255h1.3M140.9 283.8h1.3M120.6 262.7h1.3M139.7 247.6h1.3M130.2 262.5h1.3M130.7 276.9h1.3M129.5 279.7h1.3M130.9 259.5h1.3M118.5 249.8h1.3M127.3 265.4h1.3M138.3 262.3h1.3M125.8 232.8h1.3M120.2 246.8h1.3M120.1 296.1h1.3M123.5 268.4h1.3M123.6 273.5h1.3M127.6 255h1.3M140.9 275.9h1.3M136.7 273h1.3M118.6 284.8h1.3M120.3 262h1.3M128.3 257.9h1.3M121.8 266.8h1.3M141.7 234.6h1.3M125.3 289.2h1.3M152.1 255.3h1.3M119.3 292.5h1.3M126 241h1.3M130.7 238.1h1.3M121.3 254.3h1.3M127.7 281.4h1.3M131.6 244.1h1.3M132.8 266.8h1.3M119.8 269.8h1.3M135.1 277.1h1.3M123.9 266.8h1.3M121.2 271h1.3M123 254.4h1.3M120.6 294.1h1.3M119.6 284.8h1.3M120.7 282.3h1.3M121.7 252.5h1.3M120.4 254.2h1.3M118.5 246.5h1.3M133.5 218.9h1.3M141.6 238.2h1.3M119.5 294.6h1.3M125.5 253.5h1.3M120.2 261.6h1.3M118.5 265.1h1.3M123.5 266.9h1.3M123.6 281.9h1.3M125.1 239.7h1.3M121.6 236.8h1.3M119.3 277.6h1.3M118 264.2h1.3M134.1 259.5h1.3M125.4 262.7h1.3M123.7 296.7h1.3M132.5 284.1h1.3M121.8 247.2h1.3M122.4 307.2h1.3M126.4 282.8h1.3M122.2 270.1h1.3M119.2 275.9h1.3M120.8 296.7h1.3M123.9 283.8h1.3M133.8 256.5h1.3M123.2 288.1h1.3M128.8 252.4h1.3M122.5 261h1.3M118.2 256.4h1.3M118.3 236.9h1.3M120.3 260.9h1.3M118 251.8h1.3M125.6 233.2h1.3M129.8 234.8h1.3M118.2 286.8h1.3M124.7 301.4h1.3M124.3 227.9h1.3M119.8 284.4h1.3M119.2 254.9h1.3M120 294.2h1.3M118.7 289.7h1.3M119.3 294.2h1.3M120.3 265.1h1.3M130.5 271.3h1.3M119.3 294.1h1.3M118.9 301.5h1.3M135.2 274.7h1.3M124.7 288.9h1.3M121.7 292.4h1.3M157.3 267.7h1.3M117.9 263.5h1.3M131.1 249.2h1.3M118.3 272.7h1.3M136.7 253.2h1.3M121.3 283.9h1.3M118.1 250.5h1.3M129.5 249.4h1.3M135.6 255h1.3M128.4 246.3h1.3M118.5 259.3h1.3M118.9 296.1h1.3M124.4 280.6h1.3M141.2 265.4h1.3M118.5 255.9h1.3M122.5 264.5h1.3M120.7 270h1.3M141.5 268.4h1.3M118.8 266.6h1.3M121.6 289.6h1.3M126.1 254.1h1.3M118.8 286.5h1.3M131.5 253h1.3M123.9 246h1.3M121.8 232.5h1.3M135 240.8h1.3M124.3 284.5h1.3M122.1 291h1.3M122 278.7h1.3M124.8 255.4h1.3M124.2 265.3h1.3M124.3 286.3h1.3M130.6 236.3h1.3M138.8 230.3h1.3M120.7 281.7h1.3M127.3 239.2h1.3M125.3 252.5h1.3M121.5 261h1.3M121.4 287.3h1.3M122.8 303.8h1.3M121.5 295.6h1.3M121.2 286.7h1.3M119.3 279.6h1.3M121.4 244.8h1.3M120.3 291.2h1.3M125.9 269.3h1.3M126.9 247.4h1.3M118.9 248.5h1.3M122.9 266.5h1.3M117.9 277.4h1.3M118.6 248.6h1.3M126.7 232.4h1.3M135.2 236.8h1.3M122.4 275.5h1.3M124 285.7h1.3M134.8 234h1.3M127 271.5h1.3M124.3 258.2h1.3M133.4 233h1.3M128.9 234h1.3M118.5 281.5h1.3M124.7 247.1h1.3M121.2 302.3h1.3M121.8 298h1.3M120.6 264.3h1.3M127.1 264.5h1.3M133.2 225.8h1.3M132.1 272.7h1.3M125 277.3h1.3M131.5 257.2h1.3M130.3 251.1h1.3M129.4 248.5h1.3M117.9 298.9h1.3M122.1 261.9h1.3M120.5 282.7h1.3M130 236h1.3M128.9 266.1h1.3M121.8 284.2h1.3M125.5 257.1h1.3M129.7 223h1.3M129.3 260.9h1.3M118.3 279.8h1.3M123.6 280.4h1.3M120.8 294.8h1.3M148 260.8h1.3M129 255.7h1.3M123 244.8h1.3M131.4 270.1h1.3M129.4 276.3h1.3M127.4 241.5h1.3M142.9 246.9h1.3M127.7 244.7h1.3M131.6 251h1.3M130.4 247.9h1.3M123.8 296.5h1.3M127.7 284.6h1.3M132 290.3h1.3M125 249h1.3M118.4 243.9h1.3M129 298.4h1.3M118.1 275.9h1.3M127.5 244.9h1.3M129 288h1.3M151.3 249.1h1.3M122.1 298.5h1.3M131.6 255.5h1.3M121.6 279.4h1.3M118.9 288.9h1.3M119.4 244.5h1.3M123.5 292.5h1.3M121.6 258.7h1.3M120.2 273.8h1.3M118.4 271h1.3M129.3 279.3h1.3M129.9 263.5h1.3M118.3 256.7h1.3M130 277.5h1.3M142.4 246.3h1.3M121.8 276.7h1.3M126 263.3h1.3M128.6 245.7h1.3M130.7 243.8h1.3M125.4 281.9h1.3M120 257.8h1.3M141 239.4h1.3M118.7 251.7h1.3M129 269.9h1.3M126.8 262.6h1.3M132.9 283.5h1.3M125.3 289.6h1.3M123.6 257.6h1.3M119.7 283.8h1.3M126.5 278.7h1.3M120.9 249.5h1.3M148.1 279.8h1.3M120.4 254.5h1.3M119.1 245h1.3M119.2 267.5h1.3M124.9 266.4h1.3M120.8 282.6h1.3M131.7 232h1.3M120.5 257.6h1.3M122.2 302.1h1.3M117.9 269.7h1.3M129.4 256.7h1.3M124.5 253.1h1.3M144 281.6h1.3M138.4 298.8h1.3M118.5 258h1.3M130.7 252.7h1.3M118.8 249h1.3M118.2 294.6h1.3M124.7 279.8h1.3M122.2 290h1.3M121.8 292.6h1.3M126.3 277.2h1.3M129.7 248.3h1.3M119.4 263h1.3M123.8 260h1.3M121.6 264h1.3M118 291.2h1.3M118.1 274.1h1.3M120.1 288.6h1.3M118.6 278.5h1.3M126 230.7h1.3M124.7 246.9h1.3M123.5 267.5h1.3M121.1 278.2h1.3M126.1 256.2h1.3M119.2 288.6h1.3M127.1 264.2h1.3M127.9 270.8h1.3M126.5 239.9h1.3M134.5 259.1h1.3M123.3 280.2h1.3M126.9 269.5h1.3M119.4 295.9h1.3M120.2 303h1.3M124.8 244.5h1.3M119.3 298.6h1.3M120.9 250h1.3M127.1 266.1h1.3M119.1 249.2h1.3M121.7 260.1h1.3M131.1 257.1h1.3M121.8 306.9h1.3M131.8 239.7h1.3M134.9 261.6h1.3M153.4 277.1h1.3M117.9 279.1h1.3M123.1 284.7h1.3M123.7 271.6h1.3M128.3 268.9h1.3M120.5 254h1.3M123.4 258.3h1.3M128.8 230.7h1.3M118.7 294.1h1.3M125.5 280.3h1.3M120.1 295.8h1.3M122.7 252.5h1.3M121.4 277.6h1.3M124.2 246.5h1.3M120.1 259.5h1.3M131.9 272.6h1.3M127.3 253.9h1.3M127.4 268.2h1.3M120.3 241.5h1.3M123 307.3h1.3M127.8 248.8h1.3M135.7 270.6h1.3M119.5 286.4h1.3M121.8 267.6h1.3M124.7 231.5h1.3M131.7 253.1h1.3M150.7 268.1h1.3M121.3 276.9h1.3M120.2 291.5h1.3M131.2 277.9h1.3M118.6 297h1.3M118.8 268.7h1.3M131.9 251.1h1.3M134 247.4h1.3M120.5 278.6h1.3M126.4 285h1.3M130.2 262.5h1.3M133.6 265.7h1.3M127 290.8h1.3M118.8 252.5h1.3M126.9 243.6h1.3M120 301.6h1.3M121.2 277.8h1.3M122 238.6h1.3M126.5 268h1.3M118.3 306.6h1.3M122.9 240h1.3M122.2 254.5h1.3M121.1 238.8h1.3M125 258.5h1.3M118.2 299.8h1.3M137.1 233.3h1.3M126.2 282.9h1.3M118.4 262.3h1.3M132.4 227h1.3M131.5 250.7h1.3M131.7 279.1h1.3M129.2 232.4h1.3M134 299.4h1.3M145.9 270.5h1.3M132.9 246.8h1.3M120.2 290.2h1.3M124.3 250.5h1.3M138.4 261.9h1.3M138.3 219.5h1.3M128.2 280.3h1.3M132.8 241.2h1.3M120.4 247h1.3M118.9 307.3h1.3M122.6 278.7h1.3M145.3 224.7h1.3M130.3 229.7h1.3M147.6 249.2h1.3M121.3 265.8h1.3M124.1 251.8h1.3M131.6 278.4h1.3M118.1 276.2h1.3M130.2 286.8h1.3M127.6 278.5h1.3M130.6 250.3h1.3M118.8 275.7h1.3M120.3 260.4h1.3M132.3 260.6h1.3M118.8 246.1h1.3M120 242.2h1.3M127.5 239.9h1.3M121.5 293.7h1.3M122.8 304h1.3M118.4 287.8h1.3M152.6 262h1.3M136.3 245.7h1.3M118.9 282h1.3M118.7 280.8h1.3M130.2 288.4h1.3M129 249.7h1.3M128 245.2h1.3M130.5 262.3h1.3M129.4 255.4h1.3M119.5 271.3h1.3M137.5 289.5h1.3M118.4 278h1.3M131.1 277.4h1.3M126 248.2h1.3M123.8 277.9h1.3M120.4 254.6h1.3M127.2 251.1h1.3M134.2 227.2h1.3M120.5 258.9h1.3M120.1 268.9h1.3M123.2 256.9h1.3M122 282.3h1.3M118 266.3h1.3M127.1 237.8h1.3M122.2 258.3h1.3M144.9 285.2h1.3M124.4 277.7h1.3M126.6 258.7h1.3M135.9 248.2h1.3M123.6 286.8h1.3M133 280.3h1.3M119.8 245.2h1.3M129.5 238.9h1.3M119.4 248.8h1.3M118.5 286.9h1.3M127.7 225.7h1.3M119.3 282.5h1.3M119.9 257.7h1.3M127.2 264.2h1.3M120.3 281.3h1.3M130.9 284.2h1.3M119.3 303.3h1.3M119.3 296.5h1.3M128.7 249.3h1.3M118.4 236.7h1.3M127.6 227.5h1.3M118.5 280.3h1.3M135.9 235.1h1.3M123.9 302.7h1.3M124.4 245.9h1.3M121.2 289.1h1.3M128.3 260.3h1.3M121 285h1.3M131.2 261.3h1.3M119.7 273.7h1.3M121.2 286h1.3M117.9 249.2h1.3M123.9 279.4h1.3M138.5 229.8h1.3M126 241.8h1.3M135.6 236.6h1.3M124.7 239.6h1.3M124.9 263.8h1.3M122 240.2h1.3M129.7 262.8h1.3M132.4 252h1.3M127.6 280.4h1.3M120.4 276.4h1.3M120.2 290.3h1.3M139.1 262.8h1.3M120.9 248.3h1.3M128.9 235.1h1.3M140.3 276.4h1.3M125.9 291.6h1.3M124.5 271.5h1.3M121.7 273.8h1.3M127.6 261.5h1.3M120.6 268.2h1.3M119.3 248.5h1.3M132.7 266.4h1.3M119.5 290.2h1.3M117.9 245.4h1.3M119.8 244.4h1.3M123.1 270.2h1.3M124.8 279.5h1.3M124.9 281h1.3M128.5 280.8h1.3M123.8 284.5h1.3M124.1 285.7h1.3M129.6 269.3h1.3M124.4 282.4h1.3M140.4 263.3h1.3M129.9 258h1.3M121 276.6h1.3M128.3 301h1.3M126.5 242.4h1.3M135.8 245.4h1.3M121.9 289.7h1.3M120.7 288.7h1.3M122.6 274.2h1.3M126.5 259.4h1.3M119.2 267.7h1.3M124.3 256.4h1.3M125 267.5h1.3M124.3 277.1h1.3M120.5 262.8h1.3M130 255.3h1.3M130.1 248.9h1.3M123.5 301.3h1.3M125.2 242.6h1.3M130.3 250.6h1.3M128.6 286.4h1.3M118.4 261.7h1.3M130.2 250h1.3M120.5 262.5h1.3M125.9 272.2h1.3M122.9 251.3h1.3M126.1 246.1h1.3M127.5 265.8h1.3M125.3 294.3h1.3M130.1 262.2h1.3M118.8 240.4h1.3M125.8 263.8h1.3M123.8 275.9h1.3M131.7 309.1h1.3M124.2 278.2h1.3M131 272.9h1.3M121.6 280.9h1.3M124.1 279h1.3M118 296.9h1.3M120.5 248.5h1.3M120.5 294.9h1.3M128.8 250.5h1.3M129.7 256.5h1.3M118 286.3h1.3M119.9 288.8h1.3M118.5 246.9h1.3M132.8 284.2h1.3M123.3 299.2h1.3M137.2 237.3h1.3M118.1 257.9h1.3M119.2 278.8h1.3M129.5 295.8h1.3M118.6 279.2h1.3M126.9 273h1.3M132.2 253.7h1.3M134 244h1.3M118 260.4h1.3M121.7 300.4h1.3M122.8 304.3h1.3M125 254.5h1.3M135.7 278.1h1.3M119.1 255.1h1.3M118.4 303.1h1.3M123.8 287.8h1.3M122.1 274h1.3M117.9 248.9h1.3M125.6 251.6h1.3M119.2 296.9h1.3M127.9 256.9h1.3" stroke="#f4593c" stroke-width="1.3" fill="none" stroke-opacity="0.72"/>
<path d="M95.8 251.9h1.2M93.9 314h1.2M107.8 293.6h1.2M115.9 313.6h1.2M112.6 267.2h1.2M108.2 290.9h1.2M94.1 315.7h1.2M92 245.6h1.2M107.2 298.9h1.2M104.1 319.2h1.2M114.3 254.9h1.2M114.4 249.2h1.2M92.6 246.8h1.2M96.1 246.2h1.2M94.6 247.6h1.2M99.1 276.7h1.2M111.9 273.8h1.2M105.3 306.2h1.2M95 246.8h1.2M96.5 258.6h1.2M100.6 297h1.2M113.9 253.7h1.2M116 313.1h1.2M115.2 314h1.2M99.2 274.7h1.2M114.8 250.8h1.2M101.3 319.7h1.2M101.6 302.7h1.2M112 266.9h1.2M112.3 269.1h1.2M97.8 268.9h1.2M104.9 313.2h1.2M112.2 270.9h1.2M103.6 319.1h1.2M113.6 316.3h1.2M107.4 294.9h1.2M105.9 306.3h1.2M101.1 300h1.2M106.7 318.4h1.2M97.8 319.8h1.2M107.8 318.3h1.2M102.7 307h1.2M95.3 246.5h1.2M112.8 264.9h1.2M116.3 315.8h1.2M113.5 315.1h1.2M97 251h1.2M95.6 251h1.2M106.7 301.7h1.2M90.6 313.8h1.2M101.5 302.6h1.2M112.9 316.1h1.2M90.6 309.7h1.2M95.8 317.4h1.2M91.7 245.8h1.2M106.3 304.6h1.2M98.3 319.3h1.2M102.3 306.4h1.2M97.8 270.9h1.2M103.8 319.9h1.2M103.3 309.3h1.2M95.7 246.2h1.2M108.5 290h1.2M105.8 301.7h1.2M102.4 318.9h1.2M104.9 311.6h1.2M107.9 295.4h1.2M99 279.2h1.2M120.9 310.1h1.2M110.8 277.3h1.2M103.2 310.4h1.2M97.6 317.8h1.2M106.4 303.8h1.2M97.6 268.3h1.2M95 246.7h1.2M112.1 263h1.2M96 315.6h1.2M97.2 250.2h1.2M91.3 251.5h1.2M115.4 252.4h1.2M95.4 254h1.2M91.9 251.1h1.2M117.2 255.4h1.2M115 255.9h1.2M93.3 250.2h1.2M93.7 251.7h1.2M93.6 253.4h1.2M92 252.9h1.2M115.6 256.4h1.2M91.5 253.3h1.2M117.8 252.3h1.2M115.7 253.1h1.2M93.3 252.4h1.2M91.7 252.1h1.2M92.6 253.2h1.2M91.5 254.2h1.2M116 256.4h1.2M93.3 253.2h1.2M117.4 255.4h1.2M94.7 252.1h1.2M114.7 255.5h1.2M93.8 253.7h1.2M93.4 253.5h1.2M115.4 254.5h1.2M117.8 256.5h1.2M92.3 253.5h1.2M91.9 253.3h1.2M92.3 251.5h1.2M92.6 251.9h1.2M93.8 250.1h1.2M115.5 256.2h1.2M116.5 255.9h1.2M115.3 254.4h1.2M93.6 253.6h1.2M114.6 256.2h1.2M117.1 252.2h1.2M95 248.9h1.2M94.1 251.4h1.2M115.8 253.4h1.2M92.9 251.3h1.2M116.6 256.3h1.2M117 251.4h1.2M95.3 251.1h1.2M94.7 253.3h1.2M93.2 250.3h1.2M116.3 255.4h1.2M95.3 253.7h1.2M91.9 252.3h1.2M94.7 252.5h1.2M93.5 251.6h1.2M92.6 254.2h1.2M93.1 249.4h1.2M91.7 251.3h1.2M91.4 251.2h1.2M116 256.4h1.2M115.3 256.5h1.2M116.7 254.2h1.2M93.1 253.8h1.2M92.5 248.4h1.2M116.4 255.6h1.2M116.2 256.1h1.2M115.3 252.6h1.2M116.4 256h1.2M92.5 253.3h1.2M93.8 247.8h1.2M93 251.9h1.2M93.8 252.7h1.2M117.1 256h1.2M95.2 252.1h1.2M114.6 256.1h1.2M92.7 252.4h1.2M116.9 251.9h1.2M92 252.6h1.2M116.8 253.5h1.2M117 253.6h1.2M117.1 256.4h1.2M117.3 253.2h1.2M95.1 252.5h1.2" stroke="#000" stroke-width="1.2" fill="none"/>
<path d="M91.5 197V323.2M118.5 197V323.2M25.4 309.6H163.4" stroke="#4aa3dd" stroke-width="0.6" stroke-dasharray="1.2 1.2" fill="none"/>
<path d="M369.5 362.3H497.3V487.1H369.5Z" fill="none" stroke="#6a6a6a" stroke-width="1"/>
<text x="355" y="359" font-size="8.5" fill="#222" text-anchor="start" >F</text>
<text x="438.6" y="359.2" font-size="8.6" fill="#222" text-anchor="middle" >GSE53845</text>
<path d="M369.5 483h-2.2" stroke="#4a4a4a" stroke-width="0.7"/>
<text x="366.3" y="484.9" font-size="5.4" fill="#222" text-anchor="end" textLength="1.9" lengthAdjust="spacingAndGlyphs">0</text>
<path d="M369.5 467.7h-2.2" stroke="#4a4a4a" stroke-width="0.7"/>
<text x="366.3" y="469.6" font-size="5.4" fill="#222" text-anchor="end" textLength="1.9" lengthAdjust="spacingAndGlyphs">2</text>
<path d="M369.5 452.4h-2.2" stroke="#4a4a4a" stroke-width="0.7"/>
<text x="366.3" y="454.3" font-size="5.4" fill="#222" text-anchor="end" textLength="1.9" lengthAdjust="spacingAndGlyphs">4</text>
<path d="M369.5 437.1h-2.2" stroke="#4a4a4a" stroke-width="0.7"/>
<text x="366.3" y="439" font-size="5.4" fill="#222" text-anchor="end" textLength="1.9" lengthAdjust="spacingAndGlyphs">6</text>
<path d="M369.5 421.8h-2.2" stroke="#4a4a4a" stroke-width="0.7"/>
<text x="366.3" y="423.7" font-size="5.4" fill="#222" text-anchor="end" textLength="1.9" lengthAdjust="spacingAndGlyphs">8</text>
<path d="M369.5 406.5h-2.2" stroke="#4a4a4a" stroke-width="0.7"/>
<text x="366.3" y="408.4" font-size="5.4" fill="#222" text-anchor="end" textLength="3.9" lengthAdjust="spacingAndGlyphs">10</text>
<path d="M369.5 391.2h-2.2" stroke="#4a4a4a" stroke-width="0.7"/>
<text x="366.3" y="393.1" font-size="5.4" fill="#222" text-anchor="end" textLength="3.9" lengthAdjust="spacingAndGlyphs">12</text>
<path d="M369.5 375.9h-2.2" stroke="#4a4a4a" stroke-width="0.7"/>
<text x="366.3" y="377.8" font-size="5.4" fill="#222" text-anchor="end" textLength="3.9" lengthAdjust="spacingAndGlyphs">14</text>
<path d="M372.3 487.1v2.2" stroke="#4a4a4a" stroke-width="0.7"/>
<text x="371.4" y="496.1" font-size="5.4" fill="#222" text-anchor="middle" textLength="3.4" lengthAdjust="spacingAndGlyphs">−4</text>
<path d="M386.4 487.1v2.2" stroke="#4a4a4a" stroke-width="0.7"/>
<text x="385.5" y="496.1" font-size="5.4" fill="#222" text-anchor="middle" textLength="3.4" lengthAdjust="spacingAndGlyphs">−3</text>
<path d="M400.4 487.1v2.2" stroke="#4a4a4a" stroke-width="0.7"/>
<text x="399.5" y="496.1" font-size="5.4" fill="#222" text-anchor="middle" textLength="3.4" lengthAdjust="spacingAndGlyphs">−2</text>
<path d="M414.4 487.1v2.2" stroke="#4a4a4a" stroke-width="0.7"/>
<text x="413.6" y="496.1" font-size="5.4" fill="#222" text-anchor="middle" textLength="3.4" lengthAdjust="spacingAndGlyphs">−1</text>
<path d="M428.5 487.1v2.2" stroke="#4a4a4a" stroke-width="0.7"/>
<text x="428.5" y="496.1" font-size="5.4" fill="#222" text-anchor="middle" textLength="1.9" lengthAdjust="spacingAndGlyphs">0</text>
<path d="M442.6 487.1v2.2" stroke="#4a4a4a" stroke-width="0.7"/>
<text x="442.6" y="496.1" font-size="5.4" fill="#222" text-anchor="middle" textLength="1.9" lengthAdjust="spacingAndGlyphs">1</text>
<path d="M456.6 487.1v2.2" stroke="#4a4a4a" stroke-width="0.7"/>
<text x="456.6" y="496.1" font-size="5.4" fill="#222" text-anchor="middle" textLength="1.9" lengthAdjust="spacingAndGlyphs">2</text>
<path d="M470.6 487.1v2.2" stroke="#4a4a4a" stroke-width="0.7"/>
<text x="470.6" y="496.1" font-size="5.4" fill="#222" text-anchor="middle" textLength="1.9" lengthAdjust="spacingAndGlyphs">3</text>
<path d="M484.7 487.1v2.2" stroke="#4a4a4a" stroke-width="0.7"/>
<text x="484.7" y="496.1" font-size="5.4" fill="#222" text-anchor="middle" textLength="1.9" lengthAdjust="spacingAndGlyphs">4</text>
<text transform="translate(362 422.5) rotate(-90)" font-size="5.6" fill="#333" text-anchor="middle" textLength="38.3" lengthAdjust="spacingAndGlyphs">−log10(pvalue)</text>
<text x="433.1" y="502.9" font-size="5.6" fill="#333" text-anchor="middle" textLength="34.2" lengthAdjust="spacingAndGlyphs">log2(FoldChange)</text>
<text x="500.3" y="367.9" font-size="5.6" fill="#333" text-anchor="start" textLength="19.2" lengthAdjust="spacingAndGlyphs">Regulated</text>
<circle cx="502.5" cy="375" r="2.4" fill="#168a4f"/>
<circle cx="502.5" cy="384.6" r="2.4" fill="#f05a3a"/>
<text x="505.9" y="377" font-size="5.6" fill="#333" text-anchor="start" textLength="29.7" lengthAdjust="spacingAndGlyphs">Down-regulated</text>
<text x="505.9" y="386.6" font-size="5.6" fill="#333" text-anchor="start" textLength="24.1" lengthAdjust="spacingAndGlyphs">Up-regulated</text>
<defs><clipPath id="bk2"><rect x="409" y="441" width="19.5" height="45"/><rect x="428.5" y="450" width="19.5" height="36"/></clipPath></defs>
<path d="M414.4 412L416 410.5L418 410.5L419.5 412.5L422.5 424L425 449L428.3 479.5L430.2 449.4L434.4 423.9L435.5 421L438 420L441 420L442.6 421L442.6 467.7L445.5 469.5L443.5 473.5L440.4 477.2L433 481.5L428.5 483.2L425 481.5L418.8 477.2L414.5 473.5L413 469.5L414 467.7Z" fill="#000" clip-path="url(#bk2)"/>
<path d="M407 461.2h1.6M390.8 420.2h1.6M412.4 458.6h1.6M413.4 465.7h1.6M411.6 464h1.6M407.2 418.5h1.6M410 443.2h1.6M404 440.6h1.6M412.9 462h1.6M405.8 426.1h1.6M410.9 458.5h1.6M413.5 467.1h1.6M405.7 430.8h1.6M412.9 445.9h1.6M409.7 421.2h1.6M412.7 438.3h1.6M411.3 448.3h1.6M397.9 432.6h1.6M388.7 433.1h1.6M407.9 419.2h1.6M412.1 437h1.6M410.5 438.1h1.6M412.6 445.7h1.6M411 439.1h1.6M410.5 454.5h1.6M412.4 459.9h1.6M404.3 464.5h1.6M408.4 434.7h1.6M411.4 458.6h1.6M407.4 450.1h1.6M408.4 467h1.6M407.4 426.1h1.6M412.3 463.7h1.6M411.2 459.6h1.6M412.6 441.6h1.6M408.3 452.9h1.6M407.7 447.6h1.6M410.7 459.2h1.6M404.6 438.7h1.6M412.5 447h1.6M407.3 414.2h1.6M407.6 463.6h1.6M410.9 448.7h1.6M404.2 449.7h1.6M411 454.4h1.6M410.8 447.6h1.6M407.5 431.6h1.6M407.3 457.2h1.6M410.5 462.6h1.6M408.4 424.9h1.6M410.7 435.5h1.6M408.8 387.3h1.6M405.1 435h1.6M403.4 435.6h1.6M412.3 444h1.6M413.2 455.8h1.6M410 438.8h1.6M408.4 433.1h1.6M412.4 458.2h1.6M412.8 363.7h1.6M406.5 389.7h1.6M412.3 466.4h1.6M412 449.4h1.6M413.4 431.8h1.6M409.6 446h1.6M407.1 453.2h1.6M408.2 452h1.6M410.6 450.2h1.6M408.2 453.2h1.6M406.1 436.1h1.6M407.6 457h1.6M411.4 465.9h1.6M413 453.6h1.6M413.5 447.6h1.6M412.2 426h1.6M412.3 393h1.6M410.7 424.3h1.6M405.5 434.3h1.6M408.8 458.7h1.6M408.7 440.7h1.6M404.5 443.3h1.6M412.3 464h1.6M406.9 447.1h1.6M411.7 434.3h1.6M411.2 463.3h1.6M402.6 449.1h1.6M412.2 466.1h1.6M411.9 456.2h1.6M412 386.6h1.6M410.9 459.1h1.6M406.6 443.5h1.6M411.7 444.1h1.6M412 440.8h1.6M411.3 452.2h1.6M410.7 448.2h1.6M411.3 406.3h1.6M411.8 450.5h1.6M412.3 450.6h1.6M409.8 437.2h1.6M407 447h1.6M412.6 465.5h1.6M409.2 466.8h1.6M407.5 434.8h1.6M396.8 397.4h1.6M408.5 436.7h1.6M403.6 439h1.6M409.7 455.2h1.6M407.7 449.5h1.6M412.6 463.2h1.6M412.9 437.4h1.6M393.2 421.5h1.6M374.7 407h1.6M406.5 456.3h1.6" stroke="#1a9464" stroke-width="1.6" fill="none" stroke-opacity="0.62"/>
<path d="M412 378.6h1.6M409 437.9h1.6M388.7 375.2h1.6M409.7 461.2h1.6M409.8 445.7h1.6M404.6 444.1h1.6M403.6 441.1h1.6M406.7 456.4h1.6M411.1 462.5h1.6M412.5 457.7h1.6M408.7 443.2h1.6M411.8 464.4h1.6M405.1 447.7h1.6M385.8 410.3h1.6M408.3 425.2h1.6M406.9 457.2h1.6M407.9 445.2h1.6M413.4 455.3h1.6M404.3 424.9h1.6M411.8 383.5h1.6M411.4 454.9h1.6M411.1 457.8h1.6M412.9 449.1h1.6M407 440.2h1.6M411.8 446.2h1.6M383.1 450.8h1.6M403.9 460.8h1.6M413.4 426h1.6M412.3 446.4h1.6M413.6 378.9h1.6M412.5 461.1h1.6M409.9 455.4h1.6M409 462.6h1.6M411.2 446.3h1.6M413.4 431.1h1.6M410.4 437.7h1.6M413.3 442.4h1.6M413.1 423.9h1.6M412.9 464.8h1.6M396 394.6h1.6M402.4 448.1h1.6M393 451.2h1.6M410.9 462.7h1.6M407.4 445.6h1.6M410.8 433.6h1.6M405.4 426.5h1.6M413 454.3h1.6M409.3 455.5h1.6M407.1 432.6h1.6M410.7 442.8h1.6M406.2 451.8h1.6M412.9 438.4h1.6M409 464.3h1.6M410.8 421.7h1.6M407.8 452h1.6M407.2 465.4h1.6M413.5 461.8h1.6M413.2 420.5h1.6M411.1 461.9h1.6M412.7 454.2h1.6M407.8 463.2h1.6M412.7 457.1h1.6M410.3 447.7h1.6M412.2 441.3h1.6M411.6 463.1h1.6M377.7 418.8h1.6M410 466.6h1.6M410.2 448.7h1.6M410.8 457.8h1.6M410.7 417.7h1.6M409.1 458.7h1.6M408.9 464.5h1.6M412.3 455.7h1.6M396.4 392.9h1.6M408.6 441.3h1.6M409.3 445.3h1.6M410.3 407.6h1.6M404.9 461.8h1.6M405.4 463.3h1.6M406.6 457.1h1.6M412.5 459h1.6M394.1 382.7h1.6M403.8 381.5h1.6M406.1 462h1.6M407.1 422.6h1.6M403.8 442.9h1.6M411.8 460.1h1.6M407.6 465.6h1.6M406 435.3h1.6M412.7 456.7h1.6M412.6 464.6h1.6M408 456.7h1.6M408.1 379.6h1.6M412.3 452.1h1.6M405.8 448.4h1.6M410.8 439.4h1.6M411.5 433.9h1.6M389.2 407h1.6M407 455.9h1.6M410.7 454.8h1.6M410.9 443.5h1.6M408 455.1h1.6M413.6 451.1h1.6M410.3 458.9h1.6M412 458.4h1.6M398.3 439.5h1.6M412.8 438.3h1.6M404.6 454h1.6M408 441.4h1.6M396.2 423.1h1.6M410.6 428.7h1.6M409.2 452.8h1.6M405.4 454.9h1.6" stroke="#1a9464" stroke-width="1.6" fill="none" stroke-opacity="0.62"/>
<path d="M410.8 465h1.6M408.8 448.3h1.6M404.9 432.5h1.6M413.3 457.1h1.6M411 458.7h1.6M413.3 436.7h1.6M400.5 465.7h1.6M413.6 455.8h1.6M411.3 462.2h1.6M411.9 444.7h1.6M406.2 430.7h1.6M373 428.4h1.6M411.8 433.5h1.6M410 456.9h1.6M405.9 423.4h1.6M393.6 461.7h1.6M384 433.9h1.6M411.3 464.2h1.6M413.1 454.3h1.6M410.2 462.7h1.6M408.9 451.2h1.6M407.7 453.4h1.6M413.3 380.3h1.6M408.9 433.1h1.6M402.6 437.6h1.6M413.2 453.2h1.6M404 444.6h1.6M413.1 454.4h1.6M408 430.7h1.6M411.2 436.4h1.6M412.9 423.3h1.6M395.6 383.8h1.6M382.7 461.8h1.6M405.1 427.8h1.6M411 457.2h1.6M412.1 460.2h1.6M408.4 430.3h1.6M404.9 445.6h1.6M407.9 466.2h1.6M412.1 405.7h1.6M412.4 457.5h1.6M412 457.7h1.6M408.3 439h1.6M412.8 465.4h1.6M408.9 443.5h1.6M407.6 423.4h1.6M403.5 465.1h1.6M403.2 460.1h1.6M407.6 456.9h1.6M386.6 436.5h1.6M403.1 453.1h1.6M411.1 425.4h1.6M406.7 452.4h1.6M407.2 448h1.6M411.4 434.7h1.6M409.6 465h1.6M412.6 464.5h1.6M411 443.7h1.6M409.7 455.5h1.6M413.1 417.1h1.6M372.6 463.5h1.6M408.3 417.8h1.6M403.5 449.7h1.6M403.1 462h1.6M413.1 427.5h1.6M402.9 447.3h1.6M412.3 447.3h1.6M405.9 437.8h1.6M413.5 450.2h1.6M413.4 440.6h1.6M376.6 391.3h1.6M413.4 450.6h1.6M398.9 449.9h1.6M407.1 435.3h1.6M411 423.3h1.6M392.7 384.5h1.6M406.3 458.4h1.6M411.4 444.2h1.6M400.3 384.9h1.6M413.3 465.8h1.6M400.5 384h1.6M403.8 447.1h1.6M409.3 439.1h1.6M412.8 426.2h1.6M411.7 453.6h1.6M409.4 437.8h1.6M403.6 445.7h1.6M409.9 440.4h1.6M411.1 418.6h1.6M412.4 424.3h1.6M413.1 437.7h1.6M396.4 420.9h1.6M408.4 429h1.6M409.8 447.7h1.6M411 460.1h1.6M411.4 458.4h1.6M410.1 432.6h1.6M411.1 456.7h1.6M411.2 406.8h1.6M413.5 462.3h1.6M410 432h1.6M413.4 425h1.6M411.3 455.8h1.6M408.9 437.7h1.6M407.5 437.7h1.6M410.3 414.2h1.6M410.9 464.6h1.6M413.2 408.2h1.6M413.6 427.4h1.6M413.5 453.4h1.6M411.7 462.1h1.6M410.5 365.1h1.6M398.7 460.5h1.6" stroke="#1a9464" stroke-width="1.6" fill="none" stroke-opacity="0.62"/>
<path d="M450.8 433h1.6M445.9 465.6h1.6M447.6 441.2h1.6M442.5 460.2h1.6M455.4 436.8h1.6M444.6 423.1h1.6M451.5 457.4h1.6M456.4 461h1.6M458.7 449.1h1.6M453.6 463.3h1.6M454.8 406.5h1.6M454.5 465.3h1.6M444.9 460h1.6M450.8 435.1h1.6M453.5 462.3h1.6M469.1 375.3h1.6M453.5 434.7h1.6M462 433.8h1.6M446.6 462.5h1.6M448.1 457.6h1.6M450 430.5h1.6M459.3 440.2h1.6M448.8 439.9h1.6M450.5 443.1h1.6M452 444.9h1.6M456.2 464.2h1.6M457 440h1.6M448.6 439h1.6M449.7 463.4h1.6M459.8 410.9h1.6M445.1 462h1.6M449.4 462.8h1.6M442.5 456.4h1.6M447.1 444h1.6M444.6 412.8h1.6M450.3 460h1.6M452.1 402.6h1.6M456.3 449.2h1.6M449.1 464.4h1.6M444.7 449.5h1.6M446.4 426.9h1.6M450.5 434.5h1.6M455.2 439.3h1.6M452.7 457.1h1.6M455.5 433.3h1.6M445.5 462.9h1.6M442 465.7h1.6M444.4 465.2h1.6M453.3 455.3h1.6M442.9 426.2h1.6M461.5 414h1.6M442.1 424.1h1.6M445.3 403.9h1.6M443.7 454.3h1.6M444.8 448h1.6M460.3 415.5h1.6M457.5 414.8h1.6M452.8 443.8h1.6M446.4 456.7h1.6M446.9 433.9h1.6M442.4 464.7h1.6M442.8 453.6h1.6M443.5 461.6h1.6M444.3 442.7h1.6M442.7 466.4h1.6M465.7 381.6h1.6M451.2 460.9h1.6M444.3 441.3h1.6M442.8 431.1h1.6M454.9 432.7h1.6M442.8 467.2h1.6M454.6 444.9h1.6M443.6 364.1h1.6M446.6 453.2h1.6M448.4 418.7h1.6M454.7 444.2h1.6M443.5 418.8h1.6M465.3 444h1.6M455.2 450.1h1.6M452 447.4h1.6M452.2 460.1h1.6M444.7 462.1h1.6M442.1 447.3h1.6M453.6 392.2h1.6M442.7 454.9h1.6M455.8 444.4h1.6M469 420.8h1.6M450.4 446.8h1.6M442 446.5h1.6M451.7 466.9h1.6M456.8 444.1h1.6M448.6 420.3h1.6M460.2 436.6h1.6M443 464.7h1.6M446.9 442.5h1.6M442.2 412.2h1.6M448.9 429.7h1.6M444.2 459.1h1.6M442.2 441.5h1.6M449.1 459.8h1.6M442.2 450.6h1.6M446 465.5h1.6M452.3 435.1h1.6M444.4 420.2h1.6M443.5 420.1h1.6M457.1 433.9h1.6M444.6 462.8h1.6M464.7 403.1h1.6M442.9 437.9h1.6M455.1 450.8h1.6M455.5 454.1h1.6M446.5 439h1.6M454.2 462.4h1.6M444.5 454h1.6M442.5 441.3h1.6M458.8 422.8h1.6M454.1 458.6h1.6M446.1 420.7h1.6" stroke="#f4593c" stroke-width="1.6" fill="none" stroke-opacity="0.62"/>
<path d="M442.2 453.2h1.6M460.1 399.9h1.6M461.2 412.4h1.6M451.7 405.5h1.6M451.6 430h1.6M460.6 435h1.6M460.6 434h1.6M464.8 424.3h1.6M446.8 455.3h1.6M449.2 420.3h1.6M452.3 444h1.6M454.3 445.2h1.6M455.7 451.6h1.6M445.1 452h1.6M453.3 454.2h1.6M452.4 459.3h1.6M441.8 453h1.6M442.1 427.6h1.6M442.8 461.9h1.6M448.9 458.6h1.6M450.9 434.1h1.6M445.8 456.9h1.6M456.6 457h1.6M454.8 452.1h1.6M445.8 392.9h1.6M442.1 400.7h1.6M454.8 446.7h1.6M451.8 443.4h1.6M442.8 440.1h1.6M467.8 395.3h1.6M443 424.6h1.6M443.7 461.5h1.6M447.1 390.3h1.6M442.4 460.2h1.6M446.7 466.3h1.6M457.7 452.2h1.6M455 435.6h1.6M456.3 433.3h1.6M444.8 434.9h1.6M445.5 435.7h1.6M442.8 452.9h1.6M444.4 456.8h1.6M443.5 443.1h1.6M441.8 449h1.6M451.7 453.8h1.6M459.1 392.1h1.6M466.7 417.3h1.6M444.1 398.9h1.6M444.1 444h1.6M445.8 458.6h1.6M441.9 415.9h1.6M442.6 441.1h1.6M445.7 460.1h1.6M475.3 434.4h1.6M441.9 432.1h1.6M443.2 427.1h1.6M464.8 397.4h1.6M456.4 422.9h1.6M450 458.3h1.6M448.7 452.9h1.6M444.6 440.8h1.6M445.7 451.8h1.6M448.4 456.4h1.6M452.2 448.6h1.6M448.8 459.1h1.6M450.1 465.8h1.6M448.8 438.4h1.6M450.3 449.6h1.6M444 451.2h1.6M450.2 401.5h1.6M449.2 441.7h1.6M443 412.7h1.6M455.4 418.3h1.6M468.2 426.6h1.6M447.8 462.2h1.6M443.2 466.7h1.6M444.9 427h1.6M468 437.7h1.6M448 419h1.6M448.5 435.9h1.6M444.6 443.8h1.6M449.8 460.1h1.6M446.8 458.7h1.6M449 433.8h1.6M458.3 433.5h1.6M449.4 440.7h1.6M443.3 431.7h1.6M458.3 424h1.6M446.2 446.4h1.6M453.3 414.9h1.6M488.6 390.6h1.6M446.2 449.1h1.6M444.6 456.1h1.6M443 450.6h1.6M449.3 415.5h1.6M443.8 451h1.6M451.7 465.1h1.6M446.4 391.7h1.6M455.8 436.7h1.6M449.2 459.7h1.6M445.9 439.8h1.6M451.4 444h1.6M444.7 457.9h1.6M449.6 425.4h1.6M456.9 451.8h1.6M445.5 459.3h1.6M465.1 423.1h1.6M447.9 448.5h1.6M444.9 436.8h1.6M452.5 418.8h1.6M446 456.7h1.6M492.9 396.1h1.6M448 449.9h1.6M442.4 449.9h1.6M441.8 451.7h1.6M449.3 458.8h1.6M454.1 430.1h1.6M451.9 438.9h1.6" stroke="#f4593c" stroke-width="1.6" fill="none" stroke-opacity="0.62"/>
<path d="M444.3 447.9h1.6M460.4 428.9h1.6M444.6 400.6h1.6M452.2 425.5h1.6M445.4 433.9h1.6M445.6 438.4h1.6M462 420.2h1.6M446.1 455.1h1.6M443.1 461h1.6M443 436h1.6M443.9 465h1.6M449.6 455.2h1.6M452.1 403.4h1.6M446.5 432.4h1.6M449.2 463.2h1.6M460.7 403h1.6M444.5 417.5h1.6M451.6 441h1.6M450 426.1h1.6M441.9 457.3h1.6M460.1 430.8h1.6M455 449.4h1.6M449.7 435.8h1.6M453.8 415h1.6M449.7 466.1h1.6M460.5 418h1.6M445.3 448h1.6M448.1 450.1h1.6M446.3 464h1.6M449.2 434.8h1.6M446.6 405.2h1.6M457.3 448.4h1.6M452.9 427.5h1.6M448.3 459.7h1.6M462.3 432.8h1.6M452.9 455h1.6M450.2 434.1h1.6M442.6 462.8h1.6M452.9 411.4h1.6M459.5 442.6h1.6M456.4 394.3h1.6M442.3 439.6h1.6M445.4 412.3h1.6M444.3 457h1.6M459.6 431.3h1.6M456.1 390.4h1.6M443.2 449h1.6M442.9 424.1h1.6M446.8 428.3h1.6M449.3 442.6h1.6M443.6 458.2h1.6M445.1 451.8h1.6M453.4 428h1.6M449.5 444.2h1.6M457.3 447.6h1.6M444.9 442.5h1.6M443.6 441.7h1.6M442.6 448h1.6M441.8 430.4h1.6M443.7 460h1.6M443.3 457h1.6M443.5 466.2h1.6M445.5 465h1.6M448 440.8h1.6M451.7 434.7h1.6M443.1 458.5h1.6M447.6 446.3h1.6M454.4 430.1h1.6M441.9 445h1.6M449.1 432.5h1.6M447.9 430.4h1.6M449.5 451.1h1.6M451.4 463.3h1.6M451.5 458.4h1.6M443 403.3h1.6M446.9 438.1h1.6M453.6 450.2h1.6M456.4 459.2h1.6M458.2 399.9h1.6M444.9 426.1h1.6M445.8 432.9h1.6M455.4 456h1.6M449.3 445.1h1.6M464 463.1h1.6M445.1 457.6h1.6M448 448.1h1.6M446.9 388.3h1.6M461.5 424.2h1.6M447.7 391.8h1.6M444.3 426h1.6M444.6 388.2h1.6M444.6 447h1.6M444.6 456.7h1.6M459.1 450.5h1.6M448.2 461.9h1.6M456.9 444.1h1.6M444.4 450.1h1.6M444.7 454.3h1.6M447.1 408.9h1.6M444.3 426.2h1.6M448 455.1h1.6M462.7 419h1.6M442.5 451.3h1.6M442.8 432.7h1.6M447 454.4h1.6M450.6 456.7h1.6M454.1 462.2h1.6M447.6 464.4h1.6M445.8 419.1h1.6M444.5 448.1h1.6M453.7 421.2h1.6M442.4 453.9h1.6M455.1 464.4h1.6M453.8 392.1h1.6M443.2 429.4h1.6M442.2 441.1h1.6M448 451.7h1.6" stroke="#f4593c" stroke-width="1.6" fill="none" stroke-opacity="0.62"/>
<path d="M435.8 411.8h1.2M419.6 414.8h1.2M416.8 404.4h1.2M416.7 409.5h1.2M425.3 451.3h1.2M436 484.5h1.2M438.4 420h1.2M423.8 482.2h1.2M426.9 469.5h1.2M413.4 472.7h1.2M427.1 468.3h1.2M443.8 471.7h1.2M438.7 416.6h1.2M419.2 403.6h1.2M417.9 402.3h1.2M431.2 439.1h1.2M428.1 466.3h1.2M430.2 441.2h1.2M430.8 404.1h1.2M433.5 421.5h1.2M424.8 450.2h1.2M425 442.5h1.2M424.8 482.2h1.2M424.4 446.4h1.2M456.6 473.1h1.2M420.4 406.8h1.2M445 470.7h1.2M424 439.8h1.2M415.7 397.2h1.2M424.9 412.2h1.2M435.2 405.8h1.2M440.3 477.3h1.2M428.2 470.6h1.2M430.1 443.9h1.2M440.1 480.8h1.2M427.6 472h1.2M434.2 413.1h1.2M439 478.6h1.2M426.6 458.6h1.2M433.9 416.1h1.2M441.2 408h1.2M444.9 473.9h1.2M421.3 386.6h1.2M414.6 399.6h1.2M425.1 449.9h1.2M433.8 416.8h1.2M432.9 427.8h1.2M436.2 409.8h1.2M419.1 407.4h1.2M435.2 408.6h1.2M414.9 411h1.2M433.7 413h1.2M445.7 472.9h1.2M433 481.3h1.2M417.3 409.4h1.2M436.4 412.8h1.2M425.2 482.1h1.2M437.3 414h1.2M428.8 458.1h1.2M413.7 473.5h1.2M418.9 407.9h1.2M435.5 479.9h1.2M441.4 476.1h1.2M459.3 471.9h1.2M430.7 418.2h1.2M428.9 456.6h1.2M436.2 419.8h1.2M419.3 413.4h1.2M432.9 420.7h1.2M427.7 476.7h1.2M420.3 410.4h1.2M412.1 469.3h1.2M425.7 460.8h1.2M412.7 472.8h1.2M412.7 470.4h1.2M432.6 481.5h1.2M424.3 446.8h1.2M434.2 416h1.2M423.1 480.6h1.2M418.5 408.6h1.2M426.3 456.4h1.2M412.6 470.7h1.2M417.8 386h1.2M440.7 476.6h1.2M424.7 440.5h1.2M433.6 424.1h1.2M440.8 417.3h1.2M428.2 470.2h1.2M422.2 421.2h1.2M437.8 406h1.2M438.9 442.3h1.2M414.9 433h1.2M429.9 451.1h1.2M438.9 451.3h1.2M438.3 446.9h1.2M433.3 451h1.2M434.4 449.8h1.2M435.8 447.8h1.2M422.6 433.4h1.2M435.2 438.9h1.2M420 424.5h1.2M419.7 420.8h1.2M434 437.5h1.2M423 441.3h1.2M441.3 446.5h1.2M420.9 426h1.2M431.4 448.4h1.2M415.8 437.4h1.2M432.2 441.2h1.2M420 442.2h1.2M417.1 428.9h1.2M433.7 440.4h1.2M434.7 445.3h1.2M438.2 446.7h1.2M437 439.1h1.2M435.7 451.4h1.2M439 450.5h1.2M432.9 451h1.2M437.1 443h1.2M437.6 447.7h1.2M420.3 424.4h1.2M432.8 443.1h1.2M437.2 444.6h1.2M439.4 441.3h1.2M436 451.1h1.2M418.9 437.7h1.2M433.1 442h1.2M421.3 435.5h1.2M440.8 436.9h1.2M436.4 428.6h1.2M415.2 428.9h1.2M441.3 446.7h1.2M414 437.3h1.2M413.8 424.8h1.2M432.3 447h1.2M433 447.1h1.2M420.1 425.1h1.2M420.4 439.1h1.2M419 425.1h1.2M438.9 451.1h1.2M417.9 430.1h1.2M438.4 436h1.2M439.1 448.1h1.2M439.4 447.8h1.2M436.6 436.9h1.2M419 428.5h1.2M419.5 439.2h1.2M415.7 442.1h1.2M441.1 451.1h1.2M419.9 421.9h1.2M436.9 451.1h1.2M437.9 432.7h1.2M421.8 437.4h1.2M421.9 439.5h1.2M430.2 447.4h1.2M417.5 437.6h1.2M417.5 425.5h1.2M421.9 434.9h1.2M421.2 434.5h1.2M430.9 447.2h1.2M414.9 436.3h1.2M420.4 426.8h1.2M421.8 430.9h1.2M431.6 438.3h1.2M414.9 424.1h1.2M441.8 449.4h1.2M438.4 429.2h1.2M436.6 437.7h1.2M421.2 429.9h1.2M421.8 431.9h1.2M433.2 448.1h1.2M415.9 429.2h1.2M431.1 451.3h1.2M437.9 450.4h1.2M418 431.5h1.2M416.2 433.7h1.2M439.2 430.2h1.2M438.6 435.9h1.2M440.2 445.9h1.2M436 445.5h1.2M437.9 450.1h1.2M439.1 443.3h1.2M437.6 450h1.2M441.4 443.5h1.2M435.2 448.2h1.2M432.7 437.1h1.2M440.2 443.2h1.2M415.9 418.3h1.2M441.9 445.1h1.2M413.8 428.7h1.2M437.1 448.8h1.2M441.1 442.9h1.2M437.6 447h1.2M417.4 436h1.2M422.6 440.3h1.2M434.3 448.1h1.2M415.7 438.9h1.2M438.1 422.3h1.2M434.2 446.5h1.2M419.7 441.9h1.2M440.3 449.2h1.2M441.2 438.5h1.2M416.7 437.2h1.2M414.1 421.1h1.2M413.9 439.9h1.2M415.1 419.2h1.2M439.8 446.4h1.2M420.2 419h1.2M432.3 441.5h1.2M419 424h1.2M416 425.4h1.2M440.8 446.3h1.2M440.8 434.5h1.2M435.9 444.8h1.2M420 441h1.2M415.5 428.2h1.2M420.8 428.9h1.2M438.8 443.6h1.2M432 447.4h1.2M432.6 432.9h1.2M441.3 432h1.2M419.4 438.5h1.2M417.4 422.3h1.2M438 450h1.2M419.6 431.9h1.2M422.7 441.3h1.2M419.4 440h1.2M435.9 442.7h1.2M416.6 436.4h1.2M440.5 443.4h1.2M439.6 434.6h1.2M437 432.2h1.2M432.1 441.6h1.2M435.8 439.1h1.2M431.9 449.7h1.2M435.9 450.3h1.2M419.7 441h1.2M417.1 430h1.2M432.8 437.1h1.2M432.9 437.9h1.2M440.9 439.9h1.2M419.5 435.8h1.2M421.4 423.2h1.2M438.4 447.8h1.2M416.7 439.4h1.2M417.7 437.5h1.2M417.2 437h1.2M421.5 438.2h1.2M438.6 451h1.2M418.4 431.8h1.2M414.9 435.7h1.2M439.8 434.1h1.2M415.5 420.6h1.2M435.6 432.9h1.2M421.5 426.9h1.2M420.7 429h1.2M441.6 449h1.2M437.1 451.5h1.2M438.9 445.2h1.2M441.7 440.9h1.2M419.3 419.3h1.2M436.9 448.9h1.2M422 440h1.2M434.2 447.4h1.2M419.6 441.4h1.2M431 441.9h1.2M438.9 444.1h1.2M434.9 443.2h1.2M418.3 422.9h1.2M415 435.5h1.2M421.5 435.6h1.2M438.5 437.6h1.2M440.8 447.6h1.2M414.5 438.9h1.2M417.3 437.4h1.2M420.7 441.5h1.2M416 440.6h1.2M420.5 423.6h1.2M422 437.1h1.2M421.5 439.9h1.2M416.8 427.4h1.2M433.6 436.4h1.2M433.6 439.6h1.2M416.1 437.3h1.2M422.2 436.8h1.2M439.8 450.2h1.2M414.5 439.2h1.2M435.2 441.1h1.2M438.2 450.1h1.2M432.7 437.2h1.2M439.2 435.6h1.2M429.8 450.9h1.2M415.4 441.4h1.2M439.1 423.6h1.2M433.5 440.2h1.2M435.9 450h1.2M416.2 433.5h1.2M438.5 445.8h1.2M416.6 441.9h1.2M417.1 424.5h1.2M434.7 443.3h1.2M439.4 449.9h1.2M420.6 432.9h1.2M414.5 426.7h1.2M441.6 441.4h1.2M435.1 440.9h1.2M419.7 440.5h1.2M413.9 438.4h1.2M439.2 448.9h1.2M421.2 435.1h1.2M432.7 441.5h1.2M432.5 448.3h1.2M415.4 440.1h1.2M434.7 442.9h1.2M438.9 446h1.2M422.6 438.5h1.2M437.8 441.3h1.2M421 430.6h1.2M433.9 440.1h1.2M431.6 449.8h1.2M430 450.5h1.2M441.7 443.7h1.2M435 450.1h1.2M419.2 432.4h1.2M436.6 445.5h1.2M420.1 439.2h1.2M416.8 422.9h1.2M416.5 441.3h1.2M437.6 442.9h1.2M436 441.6h1.2M421 441.9h1.2M420.8 431.6h1.2M436.2 449.7h1.2M436.8 445.6h1.2M414.7 429.2h1.2M438.7 444.8h1.2M441.9 448.6h1.2M441.8 450.1h1.2M433.5 450.2h1.2M436.3 448h1.2M433.8 446.7h1.2M417.6 442.3h1.2M422.7 438.6h1.2M415.9 432.2h1.2M436 450.9h1.2M415.5 431.6h1.2M414 440.5h1.2M418.7 439.3h1.2M418 435.8h1.2M431.2 448.8h1.2M416.4 427.4h1.2M421.4 435.9h1.2M416.9 439.9h1.2M437.3 442.8h1.2M436.1 445.9h1.2M439.9 450.9h1.2M421.8 437.7h1.2M421 432.5h1.2M415.5 429.8h1.2M422.2 442.5h1.2M436.1 451.5h1.2M437.9 433.9h1.2M437.2 449.3h1.2M422.8 434.8h1.2M421.1 425h1.2M418.8 442.4h1.2M415.5 436.2h1.2M437.1 442.6h1.2M414.7 442.4h1.2M419.8 442h1.2M414 435.5h1.2M414.5 431.2h1.2M420.3 435.6h1.2M421.7 442.2h1.2M420.9 433.7h1.2M420.2 436.6h1.2M417.9 440.8h1.2M432.3 437.5h1.2M430.5 447.4h1.2M440.2 435.6h1.2M440.8 447.7h1.2M438.3 446h1.2M421 421.7h1.2M434.8 441.7h1.2M420.8 430.1h1.2M439.3 448h1.2M430.6 449.2h1.2M418 439.1h1.2M418.2 436.4h1.2M437.2 448h1.2M421.6 429.6h1.2M416.4 425.7h1.2M414.3 432.2h1.2M439.4 445.5h1.2M420.6 431.7h1.2M413.9 441.9h1.2M436.5 437.6h1.2M438.9 444.5h1.2M420 428.1h1.2M441.9 445.2h1.2M433.7 442.4h1.2M420.6 435.4h1.2M432.5 448.9h1.2M430.8 448.6h1.2M420.4 436.1h1.2M436.2 450h1.2M416.7 432.5h1.2M422.4 436h1.2M435.2 450.2h1.2M422.6 437h1.2M431.3 446h1.2M421.8 435.9h1.2M432 443.6h1.2M431.1 441h1.2M437.5 442.9h1.2M433.1 450.7h1.2M434.5 438.2h1.2M441.3 449.6h1.2M430.1 446.8h1.2M422.8 437.2h1.2M438.7 437.9h1.2M414 436.4h1.2M433.7 445.6h1.2M419 433.2h1.2M432.9 443.3h1.2M441.4 449h1.2M432.9 443.8h1.2M438.4 433.1h1.2M414.1 439.4h1.2M436.9 447.6h1.2M417.8 428.8h1.2M440.7 441h1.2M422.6 442.2h1.2M431.1 448.2h1.2M419 422.2h1.2M439 447.9h1.2M432.7 439.2h1.2M416 437.8h1.2M418.6 415.5h1.2M415.2 439.4h1.2M438.5 449.8h1.2M423.4 441.8h1.2M423.3 439.4h1.2M435.1 428.1h1.2M434.9 436.7h1.2M437.7 450.1h1.2M437.7 432.9h1.2M434.9 445.1h1.2M417.6 433.5h1.2M435.3 446.1h1.2M431.7 445.7h1.2M422 434.8h1.2M435.1 431.8h1.2M434.4 424.3h1.2M440.8 447.2h1.2M418.5 434.3h1.2M440.2 445.7h1.2M421 436.6h1.2M435 440.1h1.2M415.1 424.4h1.2M414.6 437.1h1.2M439.6 439.6h1.2M435 442.7h1.2M432.3 437.7h1.2M434.9 447.2h1.2M422.1 440h1.2M415.9 434.5h1.2M437.8 449.4h1.2M423 435.7h1.2M422.4 441.2h1.2M436 444.5h1.2M419 441.3h1.2M419.3 437.1h1.2M422.8 438h1.2M436.1 445.7h1.2M414.6 436.5h1.2M436.3 441.5h1.2M438.7 435h1.2M419.7 424.4h1.2M418.5 427.7h1.2M417.3 429.8h1.2M436.8 436.9h1.2M429.9 451.1h1.2M435.1 436.5h1.2M439 442.1h1.2M435.3 449.5h1.2M419.4 437.8h1.2M422.4 440h1.2M416.3 417h1.2M437.4 440h1.2M434.4 440.5h1.2M420.8 436.6h1.2M436.5 442.4h1.2M433.4 446h1.2M441.2 442.5h1.2M415.4 430.9h1.2M440.2 447h1.2M414.1 441.4h1.2M439.3 441.8h1.2M433.8 437.9h1.2M440.4 434.7h1.2M438.5 430.9h1.2M432 449.4h1.2M435.3 450.6h1.2M434.7 444.1h1.2M417.4 421.3h1.2M436.1 438.5h1.2M419.2 432.2h1.2M421.4 428.9h1.2M413.8 437.1h1.2M423 442h1.2M441.5 435.1h1.2M441.2 444h1.2M413.8 439.9h1.2M418.1 437.4h1.2M441.3 451.3h1.2M433.1 445.8h1.2M417.3 431.8h1.2M437.8 449.9h1.2M417.7 426.5h1.2M417.2 436.3h1.2M419.6 436h1.2M434.8 440.5h1.2M418.7 441.1h1.2M438.5 430.1h1.2M441.3 436.7h1.2M439.6 437.4h1.2M415.1 429.3h1.2M420.8 437.3h1.2M417.4 438.4h1.2M415.9 440.8h1.2M421.7 430.6h1.2M421.3 430.5h1.2M439.5 449.8h1.2M416.6 420.3h1.2M432 451.2h1.2M421.7 438.9h1.2M420.3 440.5h1.2M417.6 434h1.2M438.4 440.5h1.2M432.2 434.9h1.2M420.3 422.4h1.2M441.9 441.7h1.2M438.4 443.3h1.2M439.6 441.3h1.2M434.2 441.5h1.2M414.2 433.2h1.2M419.6 438.5h1.2M435.4 441.1h1.2M436.6 449.8h1.2M416.2 431.2h1.2" stroke="#000" stroke-width="1.2" fill="none"/>
<path d="M414.4 362.3V487.1M442.6 362.3V487.1M369.5 467.7H497.3" stroke="#4aa3dd" stroke-width="0.6" stroke-dasharray="1.2 1.2" fill="none"/>
</svg></body></html>
